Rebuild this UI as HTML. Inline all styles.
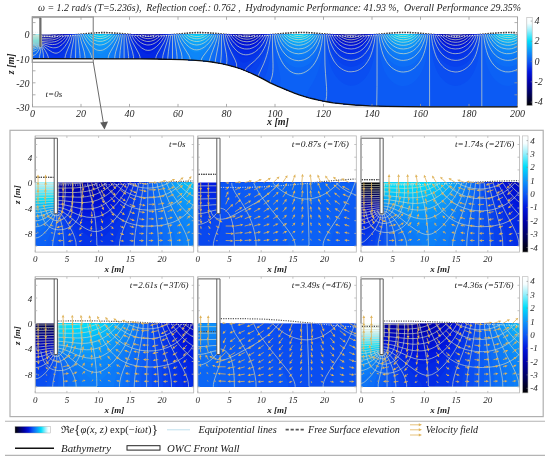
<!DOCTYPE html>
<html><head><meta charset="utf-8"><title>OWC potential field</title>
<style>html,body{margin:0;padding:0;background:#fff}svg{display:block}text{font-family:"Liberation Serif",serif;font-style:italic}</style>
</head><body>
<svg width="550" height="460" viewBox="0 0 550 460">
<defs>
<clipPath id="ct"><path d="M32.5 34.6l485 0l0 72.3l-87.3-0.1l-24.2-0.2l-19.5-0.3l-16.9-0.5l-7.3-0.4l-7.3-0.4l-7.2-0.6l-4.9-0.5l-9.7-1.1l-4.9-0.8l-4.8-0.8l-4.9-1l-4.8-1.2l-4.8-1.2l-4.9-1.4l-4.9-1.6l-4.8-1.7l-4.9-1.9l-4.8-2l-7.3-3.1l-7.2-3.3l-7.3-3.9l-4.9-2.5l-7.3-3.4l-7.2-3l-2.5-1l-4.8-1.6l-7.3-2.1l-7.3-1.6l-4.8-0.9l-4.8-0.8l-4.9-0.6l-4.9-0.5l-9.7-0.7l-9.7-0.5l-12.1-0.4l-14.5-0.3l-17-0.2l-21.8 0l-84.9-0.1z"/></clipPath>
<linearGradient id="cbg" x1="0" y1="0" x2="0" y2="1"><stop offset="0%" stop-color="#ffffff"/><stop offset="6.5%" stop-color="#f5feff"/><stop offset="15%" stop-color="#96f0fc"/><stop offset="26.5%" stop-color="#00defa"/><stop offset="38.5%" stop-color="#0e96f9"/><stop offset="50%" stop-color="#0c58f4"/><stop offset="61.5%" stop-color="#0016de"/><stop offset="73%" stop-color="#0000aa"/><stop offset="86%" stop-color="#00005f"/><stop offset="100%" stop-color="#000000"/></linearGradient>
<linearGradient id="cbh" x1="0" y1="0" x2="1" y2="0"><stop offset="0%" stop-color="#000000"/><stop offset="14%" stop-color="#00005f"/><stop offset="27%" stop-color="#0000aa"/><stop offset="38.5%" stop-color="#0016de"/><stop offset="50%" stop-color="#0c58f4"/><stop offset="61.5%" stop-color="#0e96f9"/><stop offset="73.5%" stop-color="#00defa"/><stop offset="85%" stop-color="#96f0fc"/><stop offset="93.5%" stop-color="#f5feff"/><stop offset="100%" stop-color="#ffffff"/></linearGradient>
<marker id="unused_ah" viewBox="0 0 10 10" refX="9" refY="5" markerWidth="3.8" markerHeight="3.8" orient="auto" markerUnits="userSpaceOnUse"><path d="M0 1.5L10 5L0 8.5z" fill="#dba848"/></marker>
<clipPath id="cp0"><rect x="35.2" y="182.6" width="158.5" height="63.5"/></clipPath>
<clipPath id="cp1"><rect x="197.8" y="182.6" width="158.5" height="63.5"/></clipPath>
<clipPath id="cp2"><rect x="361" y="182.6" width="158.5" height="63.5"/></clipPath>
<clipPath id="cp3"><rect x="35.2" y="323.4" width="158.5" height="63.5"/></clipPath>
<clipPath id="cp4"><rect x="197.8" y="323.4" width="158.5" height="63.5"/></clipPath>
<clipPath id="cp5"><rect x="361" y="323.4" width="158.5" height="63.5"/></clipPath>
</defs>
<rect width="550" height="460" fill="#fff"/>
<path fill="none" stroke="#3c3c3c" stroke-width="1.6" stroke-dasharray="1.6 1" d="M41.3 35.9l13.3 0.1l8.5-0.3l8.5-0.6l19.4-1.9l6.1-0.4l6-0.2l4.9 0.1l6 0.3l6.1 0.5l19.4 1.9l6.1 0.3l6 0.1l6.1-0.1l6.1-0.3l19.4-1.9l7.2-0.6l7.3-0.3l6.1 0.1l4.8 0.2l6.1 0.4l23 2.2l6.1 0.3l6 0.1l6.1-0.1l7.3-0.4l19.4-1.9l7.3-0.6l7.2-0.3l6.1-0.1l6.1 0.2l6 0.4l25.5 2.4l6 0.4l6.1 0.1l6.1-0.1l6-0.4l25.5-2.4l6.1-0.4l4.8-0.2l6.1 0l7.2 0.3l7.3 0.6l20.6 2l7.3 0.4l6.1 0.2l6-0.1l7.3-0.4l21.8-2.1l8.5-0.6l8.5-0.3l8.5 0.2"/>
<g clip-path="url(#ct)">
<rect x="31.5" y="33.6" width="491.6" height="74.3" fill="#000099"/>
<path fill="#0000a0" d="M32.5 34.6l8.9 0l0 0.5l6.1-0.1l3.7-0.4l470.9 0l0 72.3l-489.6 0l0-72.3z"/>
<path fill="#0000a7" d="M32.5 34.6l8.8 0l0.1 1.2l7.3-0.1l2.5-0.3l3.1-0.8l294.6 0l2.2 0.1l1.7-0.1l100.9 0l1.4 0.1l2.5-0.1l64.5 0l0 72.3l-489.6 0l0-72.3z"/>
<path fill="#0001ad" d="M32.5 34.6l8.8 0l0.1 2l2.4 0l3.7-0.1l3.7-0.4l2.4-0.5l2.9-1l187.4 0l3.1 0.3l2.9-0.3l95.5 0l3.2 0.8l2.5 0.1l2.4-0.2l2.9-0.7l93.7 0l2.5 0.7l2.5 0.2l2.4-0.1l3.6-0.8l61 0l0 72.3l-489.6 0l0-72.3z"/>
<path fill="#0003b2" d="M32.5 34.6l8.8 0l0.1 2.7l3.6 0l3.7-0.1l3.7-0.5l3.7-1.1l2.1-1l86.2 0l3.5 0.5l2.4-0.1l1.8-0.4l88.8 0l2.4 0.7l3.7 0.4l2.5-0.2l3.3-0.9l90.5 0l1.6 0.7l2.5 0.7l3.7 0.4l3.6-0.5l2.5-0.7l1.3-0.6l89.6 0l3.3 1.2l3.7 0.6l3.7-0.3l2.4-0.7l2-0.8l58.9 0l0 72.3l-489.6 0l0-72.3z"/>
<path fill="#0006b7" d="M32.5 34.6l8.8 0l0.1 3.4l4.9 0l3.6-0.1l3.7-0.6l3.7-1.3l2.4-1.4l82.3 0l2.2 0.9l1.2 0.3l2.5 0.2l2.4-0.1l1.2-0.2l3.1-1.1l84.4 0l1.9 0.9l2.4 0.7l3.7 0.4l3.7-0.4l2.4-0.8l1.6-0.8l87 0l2 1.1l2.5 0.9l2.4 0.5l2.5 0.2l2.4-0.2l2.4-0.6l2.5-1l1.7-0.9l86.3 0l1.3 0.7l2.5 1.1l2.4 0.6l2.5 0.2l2.4-0.1l2.5-0.4l2.4-0.9l2.4-1.2l57.3 0l0 72.3l-489.6 0l0-72.3z"/>
<path fill="#0008bc" d="M32.5 34.6l8.8 0l0.1 4.1l6.1 0.1l3.7-0.2l3.6-0.7l3.7-1.7l2.5-1.6l79.2 0l1.5 0.9l2.5 0.9l1.2 0.3l2.5 0.3l2.4-0.1l1.2-0.3l2.5-0.8l2.3-1.2l81.1 0l2.3 1.3l2.4 1l2.5 0.5l2.4 0.2l2.5-0.2l2.4-0.6l2.5-1l1.9-1.2l84 0l2.2 1.4l2.4 1.1l2.5 0.7l3.7 0.4l2.4-0.2l2.4-0.6l2.5-0.9l3.1-1.9l83.5 0l2.7 1.7l2.5 1l2.4 0.6l2.5 0.3l3.7-0.3l2.4-0.7l2.5-1l2.5-1.6l55.9 0l0 72.3l-489.6 0l0-72.3z"/>
<path fill="#000ac1" d="M32.5 34.6l8.7 0l0.2 4.8l7.3 0.2l3.7-0.2l3.7-1l1.2-0.5l2.4-1.4l2.4-1.9l76.7 0l1.7 1.2l2.5 1.2l2.4 0.7l2.5 0.3l2.4-0.1l2.5-0.6l2.4-1.1l2.6-1.6l78.3 0l2.3 1.6l2.5 1.2l2.4 0.8l3.7 0.4l2.5-0.2l2.4-0.6l2.5-1l3.3-2.2l81.3 0l2.3 1.7l1.2 0.7l2.4 1.1l2.5 0.7l3.7 0.4l2.4-0.2l3.7-1l2.4-1.2l3.2-2.2l81 0l2.7 2l2.5 1.2l3.6 1.1l2.5 0.3l3.7-0.3l2.4-0.7l3.7-1.7l2.6-1.9l54.6 0l0 72.3l-489.6 0l0-72.3z"/>
<path fill="#000cc7" d="M32.5 34.6l8.7 0l0.2 5.5l7.3 0.4l3.7-0.2l3.7-0.9l2.4-1.1l1.2-0.8l1.3-0.8l2.2-2.1l74.3 0l3 2.3l2.5 1.2l2.4 0.8l2.5 0.3l2.4-0.2l1.2-0.2l2.5-0.9l2.4-1.3l2.7-2l75.7 0l2.4 1.9l2.5 1.5l1.2 0.5l2.4 0.8l3.7 0.4l3.7-0.5l2.4-0.8l2.5-1.3l1.2-0.8l2.1-1.7l78.9 0l2.2 1.9l2.5 1.6l1.2 0.6l3.7 1.2l3.7 0.4l2.4-0.2l3.7-1l2.4-1.2l1.2-0.8l3.1-2.5l78.7 0l2.7 2.3l1.2 0.8l2.5 1.2l3.6 1.1l2.5 0.2l3.7-0.2l3.6-1.2l2.5-1.2l1.2-0.8l2.6-2.2l53.4 0l0 72.3l-489.6 0l0-72.3z"/>
<path fill="#000ecc" d="M32.5 34.6l8.7 0l0.2 6.2l8.5 0.6l3.7-0.3l2.5-0.6l1.2-0.5l1.2-0.6l2.5-1.6l1.2-1l2.1-2.2l72 0l3 2.6l2.4 1.5l1.3 0.6l2.4 0.8l2.5 0.3l2.4-0.2l1.2-0.2l2.5-0.9l2.4-1.3l1.3-0.9l2.5-2.3l73.5 0l2.3 2.1l1.2 1l2.5 1.4l3.6 1.3l3.7 0.4l3.7-0.4l3.7-1.4l2.4-1.5l1.2-1l2.1-1.9l76.7 0l2 2l1.2 1l2.5 1.6l1.2 0.6l1.2 0.5l2.5 0.7l3.7 0.4l3.6-0.5l2.5-0.7l1.2-0.5l2.4-1.4l1.3-0.9l2.9-2.8l76.5 0l2.6 2.5l1.2 0.9l2.4 1.5l3.7 1.3l3.7 0.6l3.7-0.3l3.6-1.1l1.3-0.6l2.4-1.5l2.5-2l1.2-1.3l52.3 0l0 72.3l-489.6 0l0-72.3z"/>
<path fill="#0011d1" d="M32.5 34.6l8.7 0l0.2 6.9l7.3 0.8l2.5 0.1l3.6-0.4l1.3-0.4l2.4-1l2.5-1.6l1.2-1l1.2-1.2l1.9-2.2l69.9 0l2.9 2.9l2.4 1.8l1.2 0.8l1.3 0.5l2.4 0.8l2.5 0.3l2.4-0.1l1.2-0.3l2.5-0.9l1.2-0.6l1.2-0.7l2.5-1.9l2.4-2.6l71.4 0l2.1 2.3l1.2 1.1l1.2 0.9l2.5 1.5l2.4 1l1.2 0.3l3.7 0.4l3.7-0.5l3.7-1.4l2.4-1.5l1.2-0.9l1.2-1.1l1.9-2.1l74.6 0l1.9 2.1l1.2 1.2l1.2 0.9l2.5 1.6l3.7 1.5l2.4 0.5l2.5 0.2l2.4-0.2l2.4-0.6l3.7-1.6l2.5-1.6l1.2-1l2.8-3l74.4 0l1.1 1.3l2.5 2.4l1.2 0.9l2.4 1.5l3.7 1.4l3.7 0.5l2.4-0.1l2.5-0.5l3.7-1.4l2.4-1.5l1.2-0.9l1.3-1.1l2.2-2.5l51.3 0l0 72.3l-489.6 0l0-72.3z"/>
<path fill="#0013d6" d="M32.5 34.6l8.6 0l0.3 7.5l2.4 0.3l4.9 0.8l2.5 0.2l2.4-0.1l2.5-0.5l2.4-1l1.2-0.7l2.5-1.8l1.2-1.2l2.8-3.5l68 0l2.6 3.1l1.3 1.2l2.4 1.9l1.2 0.7l2.5 1.1l1.2 0.3l2.5 0.4l2.4-0.2l1.2-0.3l1.3-0.4l2.4-1.1l1.2-0.8l2.5-2l1.2-1.2l2.2-2.7l69.4 0l1.8 2.4l1.3 1.2l1.2 1.1l2.4 1.8l1.3 0.6l2.4 1l2.5 0.6l2.4 0.2l2.5-0.3l2.4-0.6l2.5-1l1.2-0.7l2.4-1.8l1.2-1.1l2.9-3.4l72.7 0l1.6 2.1l2.4 2.5l1.2 1l2.5 1.5l3.7 1.5l2.4 0.6l2.5 0.1l2.4-0.2l2.4-0.6l3.7-1.5l2.5-1.7l1.2-1l2.4-2.6l1.3-1.7l72.5 0l2.1 2.7l1.3 1.2l1.2 1.1l2.4 1.7l3.7 1.7l2.4 0.6l2.5 0.3l3.7-0.3l2.4-0.6l2.5-1.1l2.4-1.5l2.5-2l1.2-1.3l2-2.5l50.3 0l0 72.3l-489.6 0l0-72.3z"/>
<path fill="#0015db" d="M32.5 34.6l8.6 0l0.3 8.2l2.4 0.3l6.1 1.3l2.5 0.2l2.4-0.2l1.3-0.2l1.2-0.4l2.4-1.3l2.5-1.8l1.2-1.2l2.5-2.9l1.2-2l66.2 0l1.1 1.7l2.4 2.9l1.3 1.2l2.4 2l2.5 1.4l1.2 0.5l2.4 0.6l1.3 0.1l2.4-0.2l2.5-0.7l2.4-1.2l1.2-0.8l2.5-2l1.2-1.3l1.2-1.4l2-2.8l67.4 0l1.6 2.4l2.5 2.7l1.2 1.1l2.4 1.8l2.5 1.2l1.2 0.5l2.5 0.5l2.4 0.2l2.5-0.2l2.4-0.7l2.5-1l1.2-0.7l2.4-1.8l1.2-1.2l2.5-2.7l1.4-2.1l70.7 0l1.3 2l2.5 2.8l1.2 1.2l2.5 1.8l2.4 1.4l2.5 0.9l2.4 0.5l2.5 0.1l2.4-0.2l2.4-0.5l2.5-1l2.4-1.4l2.5-1.9l1.2-1.2l1.6-1.8l1.9-2.7l70.6 0l1.8 2.6l1.2 1.5l2.5 2.3l2.4 1.8l2.5 1.2l1.2 0.4l2.4 0.7l2.5 0.2l2.4-0.1l2.5-0.4l2.4-0.9l2.5-1.2l2.4-1.8l1.3-1.1l2.4-2.7l1.7-2.5l49.4 0l0 72.3l-489.6 0l0-72.3z"/>
<path fill="#0119df" d="M32.5 34.6l8.6 0l0.3 8.8l2.4 0.3l6.1 1.9l2.5 0.3l1.2 0.1l2.5-0.4l1.2-0.3l2.4-1.2l1.3-0.8l2.4-2.2l1.2-1.4l1.8-2.4l1.6-2.7l64.3 0l2.1 3.3l1.2 1.6l1.2 1.4l2.5 2.4l2.4 1.8l2.5 1.2l1.2 0.4l2.5 0.4l1.2 0l2.4-0.5l2.5-1.1l2.4-1.6l2.5-2.1l1.2-1.3l2.5-3.2l1.6-2.7l65.6 0l1.3 2.2l2.4 3.2l1.3 1.3l2.4 2.1l2.5 1.5l2.4 1.1l2.5 0.5l2.4 0.2l2.5-0.3l2.4-0.6l2.5-1.1l2.4-1.6l2.4-2.1l1.3-1.3l1.9-2.4l1.7-2.7l68.8 0l1.7 2.7l1.8 2.4l2.4 2.4l2.5 1.9l2.4 1.3l2.5 0.9l2.4 0.5l2.5 0.2l2.4-0.2l2.4-0.6l2.5-0.9l2.4-1.4l2.5-1.9l2.4-2.6l1.3-1.6l1.9-3.1l68.8 0l1.5 2.5l2.4 3.2l1.3 1.2l2.4 2l2.4 1.5l2.5 1l2.4 0.6l2.5 0.3l2.4-0.1l2.5-0.5l2.4-0.8l2.5-1.3l2.4-1.7l2.5-2.4l2.4-3.2l1.4-2.3l48.5 0l0 72.3l-489.6 0l0-72.3z"/>
<path fill="#0220e1" d="M32.5 34.6l8.6 0l0.3 9.3l1.2 0.2l1.6 0.4l5.7 2.3l2.5 0.6l1.2 0.1l2.5-0.2l2.4-0.8l2.5-1.5l1.2-1l2.4-2.5l1.3-1.6l1.2-1.9l1.8-3.4l62.5 0l1.8 3.2l2.4 3.6l1.2 1.5l2.5 2.6l2.4 1.9l2.5 1.5l2.4 0.7l1.3 0.2l1.2-0.1l2.4-0.6l2.5-1.2l2.4-1.8l2.5-2.3l2.4-2.9l2.5-3.8l1.3-2.5l63.8 0l1.4 2.7l2 3l2.5 2.8l2.4 2.2l2.5 1.5l2.4 1.1l2.5 0.6l2.4 0.1l2.5-0.3l2.4-0.6l2.5-1.1l2.4-1.6l2.4-2.2l2.5-2.8l1.8-2.7l1.5-2.7l67 0l1.5 2.7l1.6 2.6l2.5 2.8l2.4 2.2l2.5 1.5l2.4 1.2l3.7 0.9l2.5 0.1l2.4-0.2l3.7-1l2.4-1.1l2.5-1.7l2.4-2.2l1.3-1.5l2.4-3.4l1.6-2.9l67 0l1.4 2.7l2.2 3.2l1.2 1.5l2.5 2.3l2.4 1.7l2.5 1.3l3.6 1.1l2.5 0.2l2.4-0.1l3.7-0.8l2.5-1l2.4-1.5l2.5-2.1l2.4-2.7l2-3.1l1.5-2.7l47.6 0l0 72.3l-489.6 0l0-72.3z"/>
<path fill="#0327e4" d="M32.5 34.6l8.6 0l0.3 9.8l1.2 0.3l1.2 0.4l4.9 2.6l2.5 1l2.4 0.6l1.2 0.1l2.5-0.4l1.2-0.5l2.5-1.4l2.4-2.2l2.5-3.1l1.2-1.9l1.2-2.2l1.4-3.1l60.9 0l1.4 3l2.4 4.3l3.7 4.9l3.6 3.7l2.5 2l2.4 1.2l1.3 0.2l1.2-0.1l1.2-0.3l1.2-0.7l2.5-1.7l3.7-3.5l2.4-2.9l2.5-3.5l1.5-2.7l1.9-3.9l62 0l1.2 2.7l1.9 3.3l2.4 3.3l2.5 2.5l2.4 1.9l2.5 1.4l2.4 0.8l2.5 0.3l1.2 0.1l1.2-0.1l2.5-0.6l2.4-0.9l2.5-1.4l2.4-1.9l2.5-2.5l1.9-2.6l1.7-2.8l1.7-3.5l65.4 0l1.5 3.3l2.4 3.9l2.5 2.9l2.4 2.1l2.5 1.6l2.4 1.1l2.5 0.7l3.7 0.4l3.6-0.5l2.5-0.7l2.4-1.2l2.5-1.6l2.4-2.3l2.5-2.9l1.7-2.9l1.9-3.9l65.3 0l1.3 2.7l2 3.5l2.4 3.1l2.5 2.4l2.4 1.7l2.5 1.2l2.4 0.8l3.7 0.6l3.7-0.3l2.4-0.7l2.5-1l1.2-0.7l2.4-1.8l2.5-2.3l2.4-3.2l1.9-3.3l1.2-2.7l46.8 0l0 72.3l-489.6 0l0-72.3z"/>
<path fill="#042de6" d="M32.5 34.6l8.5 0l0.2 7.5l0.2 2.8l1.2 0.3l1.1 0.5l5 3.5l2.5 1.4l2.4 1l2.5 0.2l1.2-0.2l1.2-0.4l1.2-0.7l1.3-0.9l2.4-2.3l2.5-3.2l1.2-1.9l1.9-3.7l1.5-3.9l59.2 0l1.6 3.9l1.9 3.8l2.4 4.2l5 7.7l0.6 1.2l0.7 2.4l0.1 49.1l-109.5 0l0-72.3zM166.8 34.6l60.3 0l1.5 3.7l2 3.8l1.7 2.6l2.5 3l2.4 2.3l2.5 1.7l2.4 1.2l1.2 0.3l2.5 0.4l2.4-0.2l3.7-1l2.5-1.2l1.2-0.8l2.4-2l2.5-2.6l2.4-3.3l2.2-4l1.6-3.9l63.6 0l1.6 3.9l2 3.7l2.5 3.3l2.4 2.5l2.5 1.8l2.4 1.4l1.2 0.5l2.5 0.7l3.7 0.4l3.6-0.5l2.5-0.7l1.2-0.6l2.4-1.3l2.5-2l2.4-2.5l2.5-3.5l1.7-3.2l1.6-3.9l63.6 0l1.6 4l1.9 3.5l1.8 2.6l2.5 2.7l2.4 2l1.2 0.8l2.5 1.2l2.4 0.8l3.7 0.6l3.7-0.3l2.4-0.7l1.2-0.4l2.5-1.3l2.4-1.8l2.5-2.3l2.4-3.2l2.5-4.5l1.5-3.7l45.9 0l0 72.3l-368 0l0.1-49.1l0.3-1.2l1.1-2.4l5.7-8.4l2.5-4.2l1.5-3.1l1.5-3.9z"/>
<path fill="#0534e8" d="M32.5 34.6l8.5 0l0.1 7.5l0.3 3.2l1.2 0.4l1.7 1.3l4.4 4.2l3.7 3.2l2.4 1.8l1.3 0.3l1.2-0.2l2.4-1.8l2.5-2.7l2.4-3.1l2.5-3.9l1.2-2.3l1.7-4l1.3-3.9l57.6 0l1.3 3.9l1.8 4.3l4.7 10.2l1.1 3.6l0.2 2.4l0 47.9l-105.5 0l0-72.3zM167.7 34.6l58.6 0l1.8 5.1l1.8 3.8l2.4 4.1l2.5 3.2l2.4 2.6l1.2 1l2.5 1.5l2.4 0.9l2.5 0.3l1.2-0.1l2.5-0.5l1.2-0.4l2.4-1.2l3.7-2.5l2.4-2.4l2.5-3l2.4-4l2.1-4.5l1.3-3.9l62 0l1.3 3.9l1.9 4.1l2.4 3.9l2.5 2.9l2.4 2.1l1.3 0.9l2.4 1.3l3.7 1.2l3.7 0.4l3.6-0.4l2.5-0.8l1.2-0.5l2.4-1.4l2.5-1.9l2.4-2.6l2.5-3.5l2.4-4.9l1.7-4.7l61.9 0l1.9 5.1l1.9 3.8l2.4 3.7l2.5 2.7l2.4 2l1.2 0.8l2.5 1.3l2.4 0.8l3.7 0.5l3.7-0.3l3.6-1.1l2.5-1.3l1.2-0.8l2.5-2l2.4-2.8l2.5-3.7l1.7-3.6l1.8-5.1l45.1 0l0 72.3l-364.6 0l0-47.9l1.6-4.8l5.9-12.3l1.2-3l1.5-4.3z"/>
<path fill="#073aea" d="M32.5 34.6l8.5 0l0.1 8.7l0.3 2.4l1.9 1.3l2 2.4l2.6 3.6l1.4 2.4l0.5 1.2l0.3 1.2l0.1 1.2l0 47.9l-17.7 0l0-72.3zM72.1 34.6l56 0l1.8 6.3l3.9 10.9l0.7 2.4l0.5 2.4l0.1 2.4l0 47.9l-72.2 0l0-49.1l0.3-1.2l0.8-2.4l3.7-7.2l1.8-4.2l1.3-3.4l1.3-4.8zM168.5 34.6l57 0l1.5 5.1l1.6 4.4l2.5 5.1l3.7 5.9l2.4 3.2l2.5 2.5l1.2 0.8l1.2 0.6l1.2 0.2l1.3 0.1l1.2-0.2l2.4-0.7l3.7-1.8l3.7-2.7l3.6-3.6l2.5-3.2l2.7-4.6l2.2-5.2l1.8-5.9l60.3 0l1.5 5.3l2 4.6l1.7 3.2l1.2 1.7l2.5 2.9l2.4 2.2l2.5 1.6l1.2 0.6l1.2 0.5l2.5 0.7l3.7 0.4l3.6-0.5l2.5-0.7l1.2-0.5l1.2-0.7l2.5-1.6l2.4-2.2l2.5-3l2.4-4.1l2.2-5.3l1.5-5.1l60.3 0l1.5 5.1l1.8 4.5l2.5 4.3l2.4 3.1l2.5 2.4l1.2 0.9l2.4 1.5l2.5 1l1.2 0.4l3.7 0.5l3.7-0.3l3.6-1.1l2.5-1.3l1.2-0.8l1.2-0.9l2.2-2.1l2.7-3.5l2.5-4.4l1.6-4.2l1.5-5.1l44.3 0l0 72.3l-361.1 0l0.1-49.1l0.4-2.4l0.7-2.4l4-10.9l2.3-7.5z"/>
<path fill="#0841ec" d="M32.5 34.6l8.5 0l0.1 8.7l0.3 2.8l1.1 0.9l1.6 2.4l1.8 3.6l1.2 3.6l0.2 2.4l0 47.9l-14.8 0l0-72.3zM72.9 34.6l54.4 0l1.4 6.3l3 10.9l0.8 4.8l0.1 50.3l-66.4 0l0-49.1l0.7-3.6l3.9-11.1l1.2-4.3l0.9-4.2zM169.3 34.6l55.4 0l1.1 5.1l1.6 5.3l5.1 12.8l0.8 2.4l0.5 2.4l-0.1 44.3l-70 0l0-49.1l0.8-4.8l3.3-12.1l1.5-6.3zM269.2 34.6l58.7 0l1.5 6.3l2.1 5.8l2.4 4.6l2.5 3.4l1.2 1.3l2.4 2.1l2.5 1.6l1.2 0.6l1.2 0.5l2.5 0.8l3.7 0.3l2.4-0.1l2.4-0.6l3.7-1.6l2.5-1.6l1.2-1.1l2.4-2.6l2.5-3.4l1.2-2.3l1.2-2.6l1.8-5.1l1.5-6.3l58.7 0l1.2 5.1l1.7 5.3l1.2 2.8l1.3 2.4l2.4 3.7l2.5 2.7l1.2 1.1l2.4 1.7l3.7 1.7l2.4 0.6l2.5 0.3l3.7-0.3l3.6-1.1l2.5-1.3l1.2-0.8l2.5-2.1l1.2-1.2l2.4-3.2l1.3-2.1l1.4-2.9l1-2.4l1.2-3.7l1.5-6.3l43.5 0l0 72.3l-273.2 0l0-35.8l0.4-1.3l1.6-2.4l7.1-7.8l2.5-3.2l2.4-3.8l2.2-4.4l1.5-3.9l1.2-3.9l1.4-5.8z"/>
<path fill="#0948ef" d="M32.5 34.6l8.5 0l0 8.7l0.2 2.4l0.2 0.8l0.6 0.5l1.1 2.4l1.2 3.6l0.5 2.4l0.3 3.6l0 47.9l-12.6 0l0-72.3zM73.7 34.6l52.8 0l0.8 5.1l2.4 12.1l0.6 4.8l0 50.3l-61.5 0l0.1-49.1l0.4-3.6l3-12.1l1.4-7.5zM170.1 34.6l53.8 0l1.3 7.5l3.4 13.3l0.8 4.8l0.1 2.4l-0.4 2.4l0 41.9l-63.1 0l0.1-49.1l0.7-6l2.2-10.9l1.1-6.3zM270 34.6l57.1 0l1.4 7.5l1.7 6.1l1.3 3.1l1.2 2.6l2.4 3.9l1.3 1.5l2.4 2.5l1.2 1l2.5 1.6l3.7 1.6l2.4 0.5l2.5 0.2l2.4-0.2l2.4-0.6l3.7-1.6l2.5-1.6l1.2-1l2.4-2.6l1.3-1.6l2.4-4.1l1.2-2.7l1.3-3.3l1.7-6.5l1.1-6.3l57.1 0l1.3 6.8l1.9 6.8l1.9 4.8l1.1 1.9l1.8 2.9l1.8 2.3l1.3 1.2l1.2 1.1l2.4 1.8l3.7 1.7l2.4 0.6l2.5 0.3l2.4-0.1l2.5-0.5l1.2-0.4l2.5-1l2.4-1.5l1.2-1l2.5-2.4l1.2-1.5l2.7-4.2l1.2-2.4l1.4-3.6l1.7-6.1l1.4-7.5l42.7 0l0 72.3l-267.8 0l0-33.4l7.4-12.8l2.4-4.8l1.3-2.9l1.2-3.4l1.4-5.1l1-4.3l1-5.6z"/>
<path fill="#0a4ef1" d="M32.5 34.6l8.4 0l0.2 11.1l0.3 1.2l0.6 1.3l0.5 2.4l0.4 2.4l0.2 3.6l0.1 50.3l-10.7 0l0-72.3zM74.5 34.6l51.2 0l2.1 17.2l0.4 4.8l0 50.3l-57 0l0-49.1l0.5-4.8l1.8-10.9l1-7.5zM170.9 34.6l52.2 0l0.7 6l1.9 12.4l0.6 4.8l0 2.4l-0.3 3.6l0 43.1l-57.8 0l0.1-49.1l0.4-6l2.2-17.2zM270.8 34.6l55.5 0l1.1 8.7l1.6 7.5l1.2 3.9l1.3 3.1l2.4 4.7l1.2 1.8l2.5 2.9l1.2 1.2l2.5 1.9l2.4 1.4l2.5 1l2.4 0.5l2.5 0.2l2.4-0.1l2.4-0.6l2.5-1l2.4-1.4l2.5-1.9l1.2-1.2l1.8-2.2l1.9-2.7l2.4-5l1.3-3.3l1-3.4l1.4-6.7l1.2-9.3l55.5 0l1.1 8.7l1.6 7.3l1.9 6l1.1 2.6l1.9 3.4l1.8 2.7l1.2 1.5l2.5 2.4l2.4 1.7l1.2 0.7l2.5 1.1l2.4 0.6l2.5 0.3l2.4-0.1l2.5-0.5l2.4-0.9l2.5-1.3l2.4-1.8l1.3-1.1l2.4-2.8l1.2-1.7l1.3-2l1.7-3.6l2.1-6l1.6-7.3l0.7-4.1l0.6-5.8l41.9 0l0 72.3l-263 0l0-31l1.9-3.6l2.6-6.1l1.8-4.6l1.5-5l1.2-4.8l1-4.8l1-6.1l0.7-6.3z"/>
<path fill="#0b55f3" d="M32.5 34.6l8.4 0l0 9.9l0.7 6.1l-0.3 8.4l0 47.9l-8.8 0l0-72.3zM75.2 34.6l49.7 0l1.2 22l0 50.3l-52.7 0l0-49.1l0.3-4.8l1-10.9l0.5-7.5zM171.7 34.6l50.6 0l1.2 17.2l0.1 4.8l-0.1 3.6l-0.4 3.6l0 43.1l-52.7 0l0-49.1l0.2-6l1.1-17.2zM271.6 34.6l53.9 0l0.9 12.4l0.6 4.8l0.8 4.6l1.2 5.2l1.1 3.4l1.4 3.7l1.2 2.5l2 3.5l1.7 2.4l2.4 2.8l2.5 2.1l2.4 1.7l2.5 1.1l2.4 0.7l2.5 0.3l2.4-0.2l2.4-0.7l2.5-1l2.4-1.6l2.5-2.1l2.4-2.8l1.9-2.7l1.8-3.2l1.2-2.7l1.3-3.4l1.2-4.3l1-4.5l1.3-9.6l0.9-12.4l53.9 0l0.9 12.4l1.4 9.6l0.7 3.6l1.1 4l1.2 3.6l1.2 2.9l1.4 2.8l2.3 3.5l2.5 2.8l2.4 2.2l2.4 1.7l2.5 1.1l2.4 0.7l2.5 0.4l2.4-0.2l2.5-0.5l2.4-0.9l2.5-1.5l2.4-1.9l2.5-2.5l2.4-3.4l1.6-2.7l1.1-2.5l1.4-3.6l1.1-3.6l1.2-4.8l0.8-4.8l0.6-4.8l0.6-6.1l0.4-7.5l41.1 0l0 72.3l-257.9 0l0-28.6l1.2-2.4l1.8-4.8l0.9-3.7l0.9-4.8l0.9-6l0.6-6l1.1-16z"/>
<path fill="#0c5bf4" d="M32.5 34.6l8.4 0l-0.1 14.8l-0.3 2.4l-1.1 4.8l-0.1 2.4l0 47.9l-6.8 0l0-72.3zM76 34.6l48.1 0l0 72.3l-48.6 0l0-49.1l0.5-23.2zM172.5 34.6l49 0l-0.1 18.4l-0.3 4.8l-0.6 6l0 43.1l-48 0l0-72.3zM272.4 34.6l52.3 0l0.1 18.4l0.2 12l0.5 8.5l1 13.2l0.2 4.8l-0.1 4.9l-0.7 4.8l0 5.7l-55.7 0l0-25l0.3-1.2l1-2.4l0.7-2.4l0.6-3.6l0.2-3.7l0-4.8l-0.5-16.8l-0.1-12.4zM377.1 34.6l52.4 0l0.1 72.3l-52.9 0l0.3-20.2l0.1-52.1zM481.8 34.6l40.3 0l0 72.3l-40.3 0l0-72.3z"/>
<path fill="#0c61f5" d="M32.5 34.6l8.4 0l-0.1 11.1l-1.1 4.9l-0.8 2.2l-1.7 3.8l-0.3 1.2l-0.1 1.2l0 47.9l-4.3 0l0-72.3zM76.8 34.6l46.5 0l-1.2 22l0 50.3l-44.5 0l0-51.5l-0.8-20.8zM173.2 34.6l47.5 0l-0.6 9.8l-0.8 8.6l-1.1 8.4l-0.6 1.2l0 44.3l-43.1 0l0-50.3l-1.3-22zM273.2 34.6l50.7 0l-0.6 8.7l-0.7 7.3l-0.9 6.8l-1.2 6l-1.9 6.4l-2.3 6.1l-3.2 6.3l-4.7 8.1l-2.1 4.9l-0.3 1.2l0 10.5l-26.6 0l0-20.2l0.2-1.2l0.5-1.2l0.3-1.2l0.2-1.2l0-3.6l-0.8-4.8l-3.4-13.7l-1.2-6l-1.3-9l-0.7-10.2zM377.9 34.6l50.8 0l-0.6 8.7l-0.9 8.5l-1.2 7.2l-1.5 5.7l-1.2 3.5l-1.3 2.9l-2.4 4.4l-2.5 3.3l-1.2 1.3l-2.4 2.2l-2.5 1.6l-2.4 1.2l-1.2 0.4l-1.3 0.3l-2.4 0.3l-2.5-0.2l-1.2-0.2l-2.4-0.8l-2.5-1.2l-1.2-0.8l-2.5-2l-1.2-1.2l-2.4-2.9l-2.5-4l-1.4-3l-1.7-4.8l-1.3-4.8l-1-4.8l-0.9-6l-0.7-7.3l-0.4-7.5zM482.6 34.6l39.5 0l0 44.2l-4.6 3.9l-1.2 0.8l-2.5 1.2l-2.4 0.8l-2.5 0.4l-2.4-0.1l-1.2-0.1l-2.5-0.7l-2.4-1.1l-1.2-0.8l-2.5-1.8l-1.2-1.1l-2.5-2.8l-2.4-3.7l-1.9-3.9l-1.8-4.7l-1.2-4.4l-1.1-5.3l-0.8-6l-0.7-7.3l-0.5-7.5z"/>
<path fill="#0c67f5" d="M32.5 34.6l8.3 0l-0.1 11.1l-1.8 4.6l-1.2 2.1l-1.2 1.5l-1.2 1.2l-1.3 0.9l-1.2 0.4l-0.3 0l0-21.8zM77.6 34.6l44.9 0l-2 17.2l-0.4 4.8l0 50.3l-40.4 0l0-50.3l-0.4-6l-1.7-16zM174 34.6l45.9 0l-1.3 9.9l-2.9 16.9l-0.1 45.5l-38.9 0l-0.1-49.1l-0.4-6l-2.2-17.2zM274 34.6l49.1 0l-0.6 5.1l-0.8 5.5l-1.2 5.7l-1.3 4.2l-1.2 3.3l-2 4.2l-1.7 2.8l-2.4 3.2l-2.5 2.4l-1.2 1l-2.4 1.7l-3.7 1.6l-2.5 0.6l-2.4 0.1l-2.5-0.4l-1.2-0.4l-2.4-1.2l-2.5-1.9l-2.4-2.5l-2.5-3.2l-2.4-4.2l-2.5-5.3l-1.7-5.1l-1.2-4.8l-1.1-6.1l-0.8-6.3zM378.7 34.6l49.2 0l-0.6 5.1l-0.8 4.8l-0.8 4.1l-1.2 4.6l-1.2 3.5l-1.3 2.8l-1.6 3.1l-2 2.9l-2.5 2.7l-1.2 1.1l-2.4 1.7l-1.3 0.7l-2.4 1l-2.5 0.7l-3.6 0.2l-3.7-0.6l-3.7-1.5l-2.4-1.6l-2.5-2.1l-2.4-2.8l-2.5-3.9l-2.1-4.5l-1.5-4.7l-1.3-5.1l-1-5.9l-0.7-6.3zM483.4 34.6l38.7 0l0 32.4l-3.4 2.8l-1.2 0.9l-2.4 1.3l-2.5 0.9l-3.7 0.7l-3.6-0.2l-2.5-0.6l-2.4-1l-2.5-1.5l-1.2-0.9l-2.4-2.3l-2.5-3.1l-2.4-4.2l-1.4-3.2l-1.6-4.8l-1.2-4.8l-1.1-6.1l-0.7-6.3z"/>
<path fill="#0d6ef6" d="M32.5 34.6l8.3 0l-0.2 11.1l-0.4 1l-0.4 0.3l-0.9 1.9l-1.2 1.6l-1.2 1.3l-1.2 0.9l-1.3 0.6l-1.2 0.3l-0.3 0l0-19zM78.3 34.6l43.5 0l-0.9 5l-2.3 12.2l-0.6 4.8l-0.1 50.3l-36 0l-0.1-50.3l-0.7-6l-2.8-16zM174.8 34.6l44.3 0l-1.5 8.1l-3.5 13.9l-0.9 4.8l-0.1 45.5l-34.2 0l-0.1-50.3l-0.7-4.8l-2.1-10.2l-1.2-7zM274.8 34.6l47.5 0l-1.4 7.5l-1.7 6l-1.2 3.3l-1.2 2.6l-2.5 4.1l-1.2 1.7l-2.4 2.6l-1.3 1.1l-2.4 1.7l-1.2 0.6l-2.5 1l-2.4 0.6l-2.5 0.2l-2.4-0.2l-2.5-0.7l-2.4-1.1l-1.3-0.7l-2.4-1.9l-1.2-1.1l-1.2-1.3l-2.2-2.8l-1.5-2.5l-1.2-2.3l-1.3-2.7l-1.2-3.3l-1.7-6.1l-1.1-6.3zM379.5 34.6l47.6 0l-1.4 7.4l-1.8 6.2l-1.9 4.6l-1.2 2.3l-1.7 2.7l-2 2.4l-1.2 1.3l-1.2 1l-2.4 1.7l-3.7 1.7l-2.5 0.6l-2.4 0.3l-2.5-0.1l-2.4-0.5l-1.2-0.4l-2.5-1.1l-2.4-1.5l-1.3-1l-2.4-2.4l-1.2-1.5l-2.5-3.9l-1.2-2.4l-1.2-3l-1.2-3.8l-0.8-3.1l-1.4-7.5zM484.2 34.6l37.9 0l0 25.7l-3.4 2.8l-2.4 1.5l-2.5 1.1l-3.6 0.9l-3.7 0.1l-2.4-0.4l-2.5-0.8l-2.4-1.2l-1.3-0.8l-2.4-1.9l-2.5-2.7l-1.7-2.3l-1.9-3.5l-1.6-3.7l-1.6-4.9l-1.1-4.8l-0.9-5.1z"/>
<path fill="#0d74f6" d="M32.5 34.6l8.3 0l-0.1 7.5l-0.2 3.6l-0.3 0.8l-0.8 0.5l-0.5 0.9l-1.2 1.4l-1.2 1.1l-1.2 0.8l-1.3 0.5l-1.2 0.2l-0.3 0l0-17.3zM79.1 34.6l41.9 0l-1.3 5.6l-3.1 11.6l-0.8 4.8l-0.1 50.3l-31.5 0l-0.1-50.3l-0.8-4.8l-2.8-10.8l-1.4-6.4zM175.6 34.6l42.7 0l-0.9 3.9l-1.3 4.8l-4.5 13.3l-0.7 2.4l-0.4 2.4l0 45.5l-29.3 0l0-47.9l-0.1-2.4l-0.9-4.8l-3-10.2l-1.6-7zM275.6 34.6l45.9 0l-1.5 6.3l-2 5.6l-2.4 4.8l-2.5 3.5l-1.2 1.4l-2.5 2.2l-1.2 0.9l-2.4 1.4l-3.7 1.3l-3.7 0.4l-3.7-0.5l-2.4-0.8l-1.2-0.6l-1.3-0.7l-2.4-1.8l-2.4-2.3l-1.3-1.5l-2.4-3.6l-2.5-4.9l-1.6-4.8l-1.6-6.3zM380.3 34.6l46 0l-1.2 5.1l-1.8 5.6l-1.3 2.8l-1.2 2.3l-2.4 3.6l-2.5 2.7l-1.2 1.1l-2.4 1.7l-3.7 1.7l-2.5 0.6l-2.4 0.2l-3.7-0.3l-3.7-1.2l-2.4-1.3l-1.2-0.8l-2.5-2.1l-1.2-1.3l-2.5-3.2l-1.2-2.1l-1.3-2.7l-1.1-2.8l-1.1-3.3l-1.5-6.3zM485 34.6l37.1 0l0 20.9l-3.4 2.8l-2.4 1.6l-2.5 1.1l-2.4 0.7l-2.5 0.3l-3.6-0.2l-3.7-1l-2.4-1.2l-2.5-1.7l-2.4-2.3l-2.2-2.6l-1.5-2.4l-1.9-3.6l-1.4-3.7l-1.1-3.6l-1.2-5.1z"/>
<path fill="#0d7af7" d="M32.5 34.6l8.3 0l-0.2 8.7l-0.2 2.4l-0.2 0.6l-1.2 0.7l-1.3 1.4l-2.4 1.7l-1.3 0.4l-1.2 0.2l-0.3 0l0-16.1zM79.9 34.6l40.3 0l-1.7 5.8l-4.1 11.4l-0.7 2.4l-0.4 2.4l-0.1 2.4l0 47.9l-26.5 0l0-47.9l-0.1-2.4l-0.5-2.4l-0.6-2.4l-3.7-10.7l-1.9-6.5zM176.4 34.6l41.1 0l-1.1 3.8l-1.2 3.6l-2.5 5.9l-3.5 7.5l-0.9 2.4l-0.5 2.4l-0.1 46.7l-24.4 0l0-46.7l0.3-1.2l0.1-1.2l-0.1-1.2l-0.8-3.6l-4.3-11.5l-2.1-6.9zM276.4 34.6l44.3 0l-1.5 5.1l-1.2 3.1l-1.2 2.6l-2.5 4l-2.4 3l-2.5 2.2l-2.4 1.6l-1.2 0.7l-3.7 1.2l-3.7 0.4l-3.7-0.5l-2.4-0.8l-1.2-0.6l-1.3-0.6l-2.4-1.8l-2.4-2.2l-2.5-3.1l-2.4-4.1l-2.2-5.1l-1.5-5.1zM381.1 34.6l44.4 0l-1.5 5.1l-2 4.7l-2.4 4.3l-2.5 3.1l-2.4 2.3l-1.2 0.9l-2.5 1.5l-1.2 0.5l-2.4 0.8l-3.7 0.5l-3.7-0.3l-3.7-1.2l-1.2-0.5l-2.4-1.6l-2.5-2.1l-2.8-3.2l-1.5-2.4l-1.3-2.5l-1.7-3.9l-1.8-6zM485.8 34.6l36.3 0l0 17.3l-3.4 2.7l-2.4 1.6l-2.5 1.1l-2.4 0.7l-2.5 0.3l-3.6-0.2l-2.5-0.6l-2.4-1l-2.5-1.4l-2.4-2l-2.5-2.6l-1.2-1.6l-1.9-3.2l-1.8-3.7l-1.2-3.4l-1.1-4z"/>
<path fill="#0d80f7" d="M32.5 34.6l8.3 0l-0.2 8.7l-0.3 2.4l-0.1 0.4l-1.8 0.9l-0.7 0.6l-2.4 1.5l-1.3 0.4l-1.2 0.2l-0.3 0l0-15.1zM80.7 34.6l38.6 0l-2 5.9l-5.8 12.5l-1.1 3.6l-0.1 2.4l0 47.9l-20.7 0l0-49.1l-0.4-2.4l-0.8-2.4l-5.4-12l-2.3-6.4zM177.2 34.6l39.4 0l-1.4 4.2l-2 4.5l-2.9 5.3l-4.3 6.8l-1.1 2.4l-0.8 2.4l-0.1 1.2l0 45.5l-16.7 0l0-46.7l-0.2-2.4l-0.6-2.4l-1-2.4l-3.4-6.5l-2.4-5.1l-1.2-3.1l-1.3-3.7zM277.2 34.6l42.7 0l-1.4 3.9l-1.7 3.9l-2.5 4l-2.4 2.9l-2.5 2.2l-1.2 0.9l-2.4 1.4l-3.7 1.2l-3.7 0.4l-3.7-0.5l-2.4-0.8l-1.2-0.5l-2.5-1.5l-2.4-1.9l-2.5-2.7l-2.4-3.5l-2.5-4.9l-1.6-4.5zM381.9 34.6l42.8 0l-1.9 5.1l-2 4l-2.4 3.7l-2.5 2.6l-2.4 2l-2.5 1.5l-1.2 0.5l-2.4 0.8l-3.7 0.5l-3.7-0.3l-3.7-1.2l-2.4-1.2l-1.2-0.9l-2.5-2.1l-2.4-2.8l-2.5-3.8l-2.1-4.5l-1.3-3.9zM486.6 34.6l35.5 0l0 14.3l-4.6 3.6l-2.4 1.3l-2.5 0.9l-2.4 0.5l-3.7 0l-2.4-0.4l-2.5-0.7l-2.4-1.2l-2.5-1.7l-2.4-2.3l-1.3-1.4l-2.1-3l-1.5-2.8l-1.3-2.7l-1.5-4.4z"/>
<path fill="#0d86f8" d="M32.5 34.6l8.2 0l-0.2 8.7l-0.3 2.6l-1.3 0.4l-2.4 1.4l-1.2 0.6l-1.3 0.3l-1.2 0.2l-0.3 0l0-14.2zM81.6 34.6l36.9 0l-1.2 3.2l-2.5 5l-7.1 11.4l-1 2.4l-0.3 1.2l0 49.1l-12.9 0l0-49.1l-0.3-1.2l-1-2.4l-5.5-8.8l-2.5-4.5l-1.2-2.7l-1.4-3.6zM178.1 34.6l37.7 0l-2.2 5.1l-1.3 2.4l-2 3.3l-3.7 4.7l-7.4 7.7l-0.9 1.2l-0.5 1.2l0 46.7l-4.2 0l0-46.7l-0.2-1.2l-0.6-1.2l-7-8.8l-2.4-3.6l-3.2-5.7l-2.1-5.1zM278.1 34.6l40.9 0l-1.6 3.9l-1.8 3.5l-2.5 3.4l-2.4 2.5l-2.5 1.9l-2.4 1.4l-1.3 0.5l-2.4 0.7l-3.7 0.4l-3.7-0.5l-2.4-0.8l-1.2-0.5l-2.5-1.4l-2.4-2l-2.5-2.6l-2.4-3.5l-1.6-3l-1.6-3.9zM382.7 34.6l41.1 0l-1.6 3.9l-1.4 2.7l-2.4 3.6l-2.5 2.7l-2.4 2l-1.2 0.8l-2.5 1.2l-2.4 0.8l-3.7 0.5l-3.7-0.3l-2.4-0.7l-1.3-0.5l-2.4-1.3l-2.5-1.8l-2.4-2.4l-2.5-3.2l-2.2-4.1l-1.6-3.9zM487.4 34.6l34.7 0l0 11.7l-4.6 3.6l-2.4 1.3l-2.5 0.9l-2.4 0.5l-2.5 0.2l-2.4-0.2l-2.5-0.6l-2.4-1l-2.5-1.4l-2.4-2l-1.2-1.2l-1.6-1.9l-2.1-3l-1.5-3l-1.7-3.9z"/>
<path fill="#0e8df8" d="M32.5 34.6l8.2 0l-0.2 7.5l-0.3 3.6l-1.3 0.2l-3.6 1.7l-1.3 0.3l-1.5 0.1l0-13.4zM82.4 34.6l35.3 0l-1.7 3.5l-1.2 2.2l-2.4 3.7l-2.5 3.1l-3.7 3.7l-2.4 2l-1.2 0.7l-1.2 0.5l-1.3 0.2l-1.2-0.1l-1.2-0.4l-2.5-1.6l-2.4-2.1l-2.5-2.6l-2.4-3l-2.5-3.7l-1.2-2.2l-1.8-3.9zM178.9 34.6l36 0l-1.8 3.9l-1.6 2.6l-2.4 3.3l-2.5 2.7l-2.4 2.2l-2.5 1.7l-2.4 1.1l-2.5 0.5l-1.2 0l-1.2-0.2l-2.5-1.1l-2.4-1.7l-2.5-2.3l-2.4-2.9l-2.5-3.5l-1.2-2.1l-2-4.2zM278.9 34.6l39.3 0l-1.4 3.1l-2.5 3.9l-2.4 3l-2.5 2.1l-2.4 1.6l-2.5 1.2l-2.4 0.7l-3.7 0.3l-3.7-0.4l-2.4-0.8l-2.5-1.2l-2.4-1.6l-2.4-2.3l-2.5-3l-1.7-2.7l-1.9-3.9zM383.6 34.6l39.4 0l-1.9 3.9l-1.5 2.5l-2.5 3.1l-2.4 2.3l-2.4 1.7l-2.5 1.2l-2.4 0.8l-3.7 0.5l-3.7-0.3l-2.4-0.7l-2.5-1.1l-1.2-0.7l-2.5-1.8l-2.4-2.4l-2.1-2.7l-1.6-2.6l-1.7-3.7zM488.3 34.6l33.8 0l0 9.5l-4.6 3.6l-2.4 1.3l-2.5 0.9l-2.4 0.5l-2.5 0.2l-2.4-0.2l-2.5-0.6l-2.4-1l-2.5-1.4l-2.4-2l-1.2-1.2l-1.8-2.1l-1.9-2.8l-2.3-4.7z"/>
<path fill="#0e93f9" d="M32.5 34.6l8.2 0l-0.2 7.5l-0.3 3.3l-1.3 0.1l-3.6 1.4l-1.3 0.3l-1.5 0.1l0-12.7zM83.3 34.6l33.5 0l-1.5 2.7l-1.7 2.8l-2.5 3.1l-2.4 2.5l-2.5 1.9l-2.4 1.4l-2.4 0.8l-1.3 0.1l-1.2-0.1l-2.4-0.7l-2.5-1.3l-2.4-1.9l-2.5-2.4l-2.4-3.1l-2-3.1l-1.4-2.7zM179.8 34.6l34.3 0l-1.4 2.5l-2.4 3.7l-1.2 1.5l-2.5 2.5l-2.4 1.9l-2.5 1.4l-2.4 0.9l-2.5 0.4l-2.4-0.3l-1.2-0.3l-2.5-1.2l-2.4-1.8l-2.5-2.3l-2.4-2.9l-2.2-3.3l-1.4-2.7zM279.8 34.6l37.5 0l-1.7 3.3l-2.2 3l-1.5 1.7l-2.5 2.2l-2.4 1.6l-2.5 1.1l-3.6 0.9l-2.5 0.2l-2.4-0.2l-3.7-1l-2.5-1.2l-2.4-1.7l-2.4-2.2l-1.3-1.4l-2.4-3.5l-1.5-2.8zM384.4 34.6l37.7 0l-1.4 2.7l-2.3 3.4l-1.3 1.4l-2.4 2.3l-2.4 1.7l-2.5 1.2l-3.7 1.1l-2.4 0.2l-2.5-0.1l-3.6-0.8l-2.5-1.1l-2.4-1.5l-2.5-2.1l-2.4-2.8l-1.9-2.9l-1.5-2.7zM489.1 34.6l33 0l0 7.6l-4.6 3.6l-1.2 0.7l-2.5 1.1l-2.4 0.7l-2.5 0.3l-2.4 0l-2.4-0.4l-2.5-0.8l-2.4-1.2l-1.3-0.8l-2.4-1.9l-2.5-2.6l-1.2-1.7l-1.2-1.9l-1.5-2.7z"/>
<path fill="#0d99f9" d="M32.5 34.6l8.2 0l-0.2 7.5l-0.3 2.9l-1.3 0.2l-3.6 1.1l-2.8 0.3l0-12zM84.2 34.6l31.7 0l-1.7 2.7l-1.8 2.5l-1.3 1.4l-2.4 2.3l-2.5 1.7l-2.4 1.2l-2.4 0.6l-1.3 0.1l-1.2 0l-2.4-0.6l-2.5-1.1l-2.4-1.7l-2.5-2.3l-1.2-1.3l-2.5-3.4l-1.2-2.1zM180.7 34.6l32.5 0l-1.7 2.7l-2.4 3.1l-1.3 1.3l-2.4 2l-2.5 1.6l-2.4 1l-1.2 0.4l-2.5 0.2l-2.4-0.2l-1.2-0.3l-2.5-1.1l-2.4-1.6l-2.5-2.1l-1.2-1.4l-2.5-3.2l-1.4-2.4zM280.7 34.6l35.7 0l-1.6 2.7l-1.7 2.2l-2.4 2.5l-2.5 1.9l-2.4 1.4l-2.5 0.9l-2.4 0.5l-2.5 0.1l-2.4-0.2l-2.5-0.5l-2.4-1l-2.5-1.4l-2.4-1.9l-2.5-2.6l-1.2-1.7l-1.8-2.9zM385.3 34.6l35.9 0l-1.6 2.7l-1.9 2.4l-1.8 1.9l-2.4 2l-2.5 1.5l-2.4 1l-2.5 0.6l-2.4 0.2l-2.5-0.1l-2.4-0.5l-2.5-0.9l-2.4-1.2l-2.5-1.8l-2.4-2.4l-2-2.7l-1.7-2.7zM490 34.6l32.1 0l0 5.9l-4.6 3.6l-2.4 1.3l-1.3 0.5l-3.6 0.9l-2.5 0.1l-2.4-0.2l-2.5-0.6l-2.4-1l-2.5-1.4l-1.2-0.9l-2.4-2.3l-1.3-1.4l-1.2-1.6l-1.8-2.9z"/>
<path fill="#0ca0f9" d="M32.5 34.6l8.1 0l-0.1 6.3l-0.3 3.8l-1.3 0.1l-4.9 1.1l-1.5 0.1l0-11.4zM85.1 34.6l29.9 0l-1.4 2l-2.5 2.9l-1.2 1.2l-2.4 1.9l-2.5 1.3l-1.2 0.5l-2.4 0.5l-1.3 0.1l-1.2 0l-2.4-0.5l-1.3-0.5l-2.4-1.3l-2.5-1.9l-1.2-1.1l-2.4-2.8l-1.6-2.3zM181.6 34.6l30.6 0l-1.9 2.7l-1.2 1.4l-1.3 1.3l-2.4 2l-1.2 0.8l-2.5 1.2l-2.4 0.7l-2.5 0.3l-2.4-0.3l-2.5-0.7l-2.4-1.2l-1.2-0.9l-2.5-2l-1.2-1.3l-1.2-1.5l-1.8-2.5zM281.6 34.6l33.9 0l-1.9 2.7l-1.7 2l-1.2 1.2l-2.5 1.8l-2.4 1.4l-2.5 0.9l-2.4 0.5l-2.5 0.2l-2.4-0.2l-2.5-0.6l-2.4-1l-2.5-1.4l-2.4-1.9l-1.2-1.2l-1.5-1.7l-1.9-2.7zM386.2 34.6l34.1 0l-1.9 2.8l-1.3 1.4l-2.4 2.3l-2.4 1.7l-2.5 1.2l-1.2 0.5l-2.5 0.6l-2.4 0.2l-2.5-0.1l-2.4-0.5l-2.5-0.8l-2.4-1.3l-2.5-1.8l-1.2-1.1l-2.4-2.8l-1.6-2.3zM490.9 34.6l31.2 0l0 4.3l-4.6 3.6l-2.4 1.3l-1.3 0.5l-3.6 0.9l-2.5 0.1l-2.4-0.2l-2.5-0.6l-2.4-0.9l-1.2-0.7l-2.5-1.7l-2.8-2.7l-2-2.4l-1-1.5z"/>
<path fill="#0ba7f9" d="M32.5 34.6l8.1 0l-0.2 6.3l-0.2 3.5l-1.3 0l-4.9 0.9l-1.5 0.1l0-10.8zM86.1 34.6l27.9 0l-2.9 3.4l-1.2 1.1l-2.4 1.8l-1.3 0.7l-2.4 1.1l-1.2 0.3l-2.5 0.2l-2.4-0.2l-1.2-0.3l-2.5-0.9l-1.2-0.7l-2.5-1.8l-1.2-1.1l-1.2-1.3l-1.8-2.3zM182.6 34.6l28.6 0l-2.1 2.7l-1.3 1.2l-1.2 1l-2.4 1.7l-1.3 0.6l-2.4 1l-1.2 0.3l-2.5 0.2l-2.4-0.2l-1.2-0.3l-2.5-1l-1.2-0.6l-2.5-1.8l-1.2-1.1l-1.2-1.2l-2-2.5zM282.5 34.6l32.1 0l-1.5 1.9l-2.4 2.5l-1.3 1l-2.4 1.6l-3.7 1.5l-2.4 0.6l-2.5 0.1l-2.4-0.2l-2.5-0.5l-3.7-1.7l-2.4-1.6l-1.2-1l-2.5-2.6l-1.2-1.6zM387.2 34.6l32.2 0l-2.2 2.7l-1.3 1.3l-1.2 1.1l-2.4 1.7l-3.7 1.7l-2.5 0.6l-2.4 0.2l-2.5-0.1l-2.4-0.5l-1.2-0.4l-2.5-1l-2.4-1.6l-1.3-0.9l-2.4-2.4l-1.8-2.4zM491.9 34.6l30.2 0l0 2.9l-3.4 2.7l-2.4 1.6l-1.2 0.6l-3.7 1.2l-2.5 0.3l-2.4-0.1l-2.4-0.4l-2.5-0.7l-2.4-1.2l-1.3-0.8l-2.4-1.9l-1.2-1.2l-2.4-3z"/>
<path fill="#09aef9" d="M32.5 34.6l8.1 0l-0.2 6.3l-0.2 3.1l-1.3 0l-4.9 0.8l-1.5 0.1l0-10.3zM87.1 34.6l25.9 0l-3.1 3.1l-2.4 1.8l-1.3 0.7l-1.2 0.5l-2.4 0.8l-2.5 0.2l-2.4-0.2l-1.2-0.3l-2.5-0.9l-2.4-1.5l-1.3-0.9l-1.2-1.1l-2-2.2zM183.6 34.6l26.6 0l-2.4 2.5l-1.2 1l-2.4 1.7l-1.3 0.6l-2.4 0.9l-1.2 0.3l-2.5 0.2l-2.4-0.2l-1.2-0.3l-2.5-0.9l-1.2-0.7l-2.5-1.7l-1.2-1l-2.2-2.4zM283.5 34.6l30.1 0l-2.9 3.1l-1.3 1l-2.4 1.6l-3.7 1.5l-2.4 0.5l-2.5 0.2l-2.4-0.2l-2.5-0.6l-3.7-1.6l-1.2-0.7l-2.4-2l-2.7-2.8zM388.1 34.6l30.3 0l-2.5 2.7l-1.2 1.1l-2.4 1.7l-3.7 1.6l-2.5 0.6l-2.4 0.3l-2.5-0.1l-2.4-0.5l-3.7-1.5l-2.4-1.5l-1.3-0.9l-1.2-1.2l-2.1-2.3zM492.9 34.6l29.2 0l0 1.6l-3.4 2.7l-2.4 1.6l-1.2 0.6l-1.3 0.5l-2.4 0.6l-2.5 0.4l-2.4-0.1l-3.7-0.7l-3.6-1.6l-1.3-0.8l-2.4-2l-2.6-2.8z"/>
<path fill="#08b5f9" d="M32.5 34.6l8.1 0l-0.4 9l-7.7 0.7l0-9.7zM88.2 34.6l23.7 0l-2 1.9l-1.2 0.9l-2.5 1.5l-1.2 0.5l-2.4 0.7l-2.5 0.3l-2.4-0.2l-2.5-0.7l-1.2-0.5l-2.4-1.5l-1.3-0.9l-2.1-2zM184.7 34.6l24.4 0l-2.5 2.3l-1.2 0.9l-2.5 1.3l-2.4 0.9l-1.2 0.3l-2.5 0.2l-2.4-0.2l-1.2-0.3l-2.5-0.9l-2.4-1.4l-1.3-0.9l-2.3-2.2zM284.6 34.6l28 0l-1.9 1.9l-1.3 1l-2.4 1.6l-1.2 0.6l-1.3 0.5l-2.4 0.7l-3.7 0.4l-3.7-0.5l-3.6-1.3l-2.5-1.3l-1.2-0.9l-2.8-2.7zM389.2 34.6l28.2 0l-2.7 2.6l-1.2 0.9l-2.5 1.4l-2.4 1l-1.2 0.4l-3.7 0.5l-3.7-0.3l-3.7-1.2l-1.2-0.6l-2.4-1.5l-1.3-1l-2.2-2.2zM493.9 34.6l28.2 0l0 0.4l-3.4 2.7l-2.4 1.6l-1.2 0.5l-1.3 0.5l-2.4 0.7l-3.7 0.4l-3.6-0.5l-2.5-0.8l-1.2-0.5l-2.5-1.4l-1.2-0.9l-2.8-2.7z"/>
<path fill="#07bcfa" d="M32.5 34.6l8.1 0l-0.4 8.6l-7.7 0.6l0-9.2zM89.3 34.6l21.4 0l-3.2 2.4l-2.5 1.2l-2.4 0.7l-2.5 0.2l-2.4-0.2l-2.5-0.6l-1.2-0.5l-2.4-1.4l-2.3-1.8zM185.8 34.6l22.2 0l-2.6 2l-2.5 1.3l-2.4 0.9l-1.2 0.3l-2.5 0.2l-2.4-0.2l-1.2-0.3l-2.5-0.9l-2.4-1.4l-2.5-1.9zM285.7 34.6l25.8 0l-2.1 1.8l-1.2 0.8l-2.4 1.4l-1.3 0.5l-2.4 0.7l-3.7 0.4l-2.4-0.3l-3.7-0.9l-2.5-1.2l-1.2-0.8l-2.9-2.4zM390.2 34.6l26.1 0l-2.8 2.4l-1.2 0.7l-2.5 1.2l-3.7 1.1l-2.4 0.2l-3.7-0.3l-3.7-1.1l-1.2-0.6l-2.4-1.5l-2.5-2.1zM495 34.6l26 0l-2.3 2l-2.4 1.5l-1.2 0.6l-3.7 1.2l-3.7 0.3l-2.4-0.2l-3.7-1l-2.4-1.2l-1.3-0.8l-2.9-2.4z"/>
<path fill="#05c3fa" d="M32.5 34.6l8 0l-0.3 8.2l-7.7 0.5l0-8.7zM90.6 34.6l18.8 0l-1.9 1.3l-2.5 1.2l-2.4 0.7l-2.5 0.2l-2.4-0.2l-2.5-0.6l-2.4-1.2l-2.2-1.4zM187.1 34.6l19.6 0l-2.5 1.6l-2.5 1.1l-2.4 0.7l-2.5 0.2l-2.4-0.3l-2.5-0.6l-2.4-1.1l-2.4-1.6zM286.8 34.6l23.5 0l-3.3 2.3l-2.5 1.1l-3.6 0.9l-2.5 0.2l-2.4-0.2l-3.7-1l-2.5-1.2l-3-2.1zM391.4 34.6l23.7 0l-2.8 2.1l-2.5 1.2l-3.7 1l-2.4 0.3l-3.7-0.3l-2.4-0.7l-3.7-1.8l-2.5-1.8zM496.1 34.6l23.8 0l-2.4 1.7l-1.2 0.8l-2.5 1.1l-2.4 0.6l-3.7 0.4l-2.4-0.2l-3.7-1.1l-2.4-1.1l-3.1-2.2z"/>
<path fill="#04cafa" d="M32.5 34.6l8 0l-0.3 7.8l-7.7 0.4l0-8.2zM92.1 34.6l15.9 0l-1.8 1l-2.4 0.9l-1.2 0.2l-2.5 0.3l-2.4-0.2l-1.2-0.3l-2.5-0.8l-1.9-1.1zM188.5 34.6l16.8 0l-2.4 1.2l-2.4 0.9l-1.2 0.2l-2.5 0.2l-2.4-0.2l-1.2-0.2l-2.5-0.9l-2.2-1.2zM288.1 34.6l20.9 0l-2 1.3l-2.5 1.1l-2.4 0.7l-3.7 0.4l-2.4-0.2l-2.5-0.6l-2.4-0.9l-3-1.8zM392.7 34.6l21.2 0l-2.9 1.7l-2.4 1l-2.5 0.6l-2.4 0.3l-3.7-0.3l-2.4-0.7l-2.5-1.1l-2.4-1.5zM497.4 34.6l21.2 0l-2.3 1.5l-2.5 1.1l-2.4 0.6l-3.7 0.4l-2.4-0.2l-2.5-0.6l-2.4-1l-3-1.8z"/>
<path fill="#03d1fa" d="M32.5 34.6l8 0l-0.3 7.4l-7.7 0.3l0-7.7zM93.8 34.6l12.4 0l-2.4 0.9l-1.2 0.3l-2.5 0.2l-2.4-0.2l-1.2-0.2l-2.7-1zM190.2 34.6l13.4 0l-3.1 1.1l-3.7 0.5l-2.4-0.2l-1.2-0.3l-3-1.1zM289.6 34.6l18 0l-1.8 1l-2.5 0.9l-2.4 0.5l-2.5 0.1l-2.4-0.1l-2.5-0.6l-2.4-1l-1.5-0.8zM394.1 34.6l18.4 0l-1.5 0.8l-2.4 1l-2.5 0.6l-2.4 0.2l-2.5-0.1l-2.4-0.5l-2.5-0.8l-2.2-1.2zM498.8 34.6l18.4 0l-2.1 1.1l-2.5 0.9l-2.4 0.5l-2.5 0.1l-2.4-0.2l-2.5-0.6l-2.4-0.9l-1.6-0.9z"/>
<path fill="#01d7fa" d="M32.5 34.6l8 0l-0.3 6.9l-7.7 0.3l0-7.2zM96.3 34.6l7.5 0l-2.4 0.4l-1.3 0.1l-2.4-0.2l-1.4-0.3zM192.5 34.6l8.8 0l-2 0.5l-2.5 0.2l-2.4-0.2l-1.9-0.5zM291.2 34.6l14.7 0l-1.4 0.6l-2.4 0.7l-3.7 0.4l-3.7-0.5l-3.5-1.2zM395.7 34.6l15.1 0l-3.4 1.3l-3.7 0.5l-3.7-0.4l-2.4-0.6l-1.9-0.8zM500.4 34.6l15.2 0l-1.8 0.7l-2.4 0.7l-3.7 0.4l-3.6-0.5l-3.7-1.3z"/>
<path fill="#01defa" d="M32.5 34.6l8 0l-0.3 6.5l-7.7 0.2l0-6.7zM293.4 34.6l10.3 0l-2.8 0.7l-2.5 0.1l-2.4-0.2l-2.6-0.6zM397.8 34.6l11 0l-2.7 0.7l-2.4 0.2l-2.5-0.1l-3.4-0.8zM502.5 34.6l11 0l-3.3 0.8l-2.5 0.1l-2.4-0.2l-2.8-0.7z"/>
<path fill="#10e0fa" d="M32.5 34.6l7.9 0l-0.2 6l-7.7 0.2l0-6.2zM298.1 34.6l0.9 0l-0.9 0zM401.4 34.6l3.8 0l-1.5 0.1l-2.3-0.1zM506.1 34.6l3.8 0l-2.2 0.1l-1.6-0.1z"/>
<path fill="#1fe2fa" d="M32.5 34.6l7.9 0l-0.2 5.6l-7.7 0.1l0-5.7z"/>
<path fill="#2ee3fb" d="M32.5 34.6l7.9 0l-0.2 5.1l-7.7 0.2l0-5.3z"/>
<path fill="#3de5fb" d="M32.5 34.6l7.9 0l-0.2 4.7l-7.7 0.1l0-4.8z"/>
<path fill="#4ce7fb" d="M32.5 34.6l7.8 0l-0.1 4.2l-7.7 0.1l0-4.3z"/>
<path fill="#5be9fb" d="M32.5 34.6l7.8 0l-0.1 3.8l-7.7 0.1l0-3.9z"/>
<path fill="#6aebfb" d="M32.5 34.6l7.8 0l-0.1 3.3l-7.7 0.1l0-3.4z"/>
<path fill="#79ecfc" d="M32.5 34.6l7.8 0l-0.1 2.9l-7.7 0l0-2.9z"/>
<path fill="#88eefc" d="M32.5 34.6l7.8 0l-0.1 2.4l-7.7 0.1l0-2.5z"/>
<path fill="#97f0fc" d="M32.5 34.6l7.7 0l0 2l-7.7 0l0-2z"/>
<path fill="#a3f2fc" d="M32.5 34.6l7.7 0l0 1.5l-7.7 0l0-1.5z"/>
<path fill="#b0f4fd" d="M32.5 34.6l7.7 0l0 1l-7.7 0.1l0-1.1z"/>
<path fill="#bdf6fd" d="M32.5 34.6l7.7 0l0 0.6l-7.4 0l-0.3 0l0-0.6z"/>
<path fill="#caf8fe" d="M32.5 34.6l7.7 0l0 0.1l-7.4 0l-0.3 0l0-0.1z"/>
<path fill="none" stroke="#d6dcc0" stroke-width="0.7" d="M41.4 34.6l0 0.5l6.1-0.1l3.7-0.4M41.3 34.6l0.1 2.1l2.4 0l3.7-0.1l3.7-0.3l2.4-0.5l3.2-1.2M243.1 34.6l1.5 0.3l2.4 0.2l3.7-0.5M344.9 34.6l2.5 0.7l3.7 0.4l2.4-0.2l3.4-0.9M449.7 34.6l2.9 0.8l2.5 0.3l3.7-0.3l2.8-0.8M41.3 34.6l0.1 3.7l4.9 0.1l3.6-0.2l3.7-0.5l3.7-1.4l2.9-1.7M141.2 34.6l3 1.2l2.4 0.5l1.3 0.1l1.2 0l2.4-0.4l2.5-0.8l1.3-0.6M238.3 34.6l1.4 0.7l2.4 1l2.5 0.5l2.4 0.2l3.7-0.5l2.4-0.8l2.3-1.1M341.1 34.6l2.6 1.4l2.5 1l2.4 0.5l2.5 0.1l2.4-0.2l2.4-0.5l2.5-1l2.3-1.3M445.9 34.6l1.8 1.1l2.5 1l2.4 0.6l2.5 0.3l2.4-0.1l2.5-0.4l2.4-0.9l3-1.6M41.2 34.6l0.2 5.2l7.3 0.3l3.7-0.2l3.7-0.9l2.4-1.1l1.2-0.8l3.1-2.5M138 34.6l2.5 1.8l2.5 1.3l2.4 0.7l2.5 0.3l2.4-0.2l2.5-0.5l2.4-1.1l3.4-2.3M235.3 34.6l3.1 2.3l2.5 1.2l2.4 0.7l3.7 0.4l2.5-0.2l3.6-1l2.5-1.3l2.8-2.1M338.3 34.6l3 2.3l2.4 1.3l3.7 1.3l3.7 0.3l3.6-0.4l2.5-0.8l1.2-0.5l2.4-1.4l2.7-2.1M443.1 34.6l2.2 1.8l2.4 1.5l1.3 0.6l2.4 0.8l3.7 0.5l3.7-0.3l3.6-1.1l2.5-1.3l3.3-2.5M41.2 34.6l0.2 6.8l7.3 0.7l2.5 0.1l3.6-0.5l1.3-0.3l2.4-1.1l2.5-1.6l1.2-1l2.9-3.1M135.5 34.6l2.6 2.7l2.4 1.8l1.2 0.7l2.5 1l2.4 0.6l1.3 0.1l2.4-0.2l1.2-0.3l2.5-0.8l1.2-0.7l2.5-1.6l1.2-1l2.2-2.3M232.9 34.6l1.9 2l1.2 1.1l2.4 1.7l1.3 0.7l1.2 0.6l2.4 0.7l3.7 0.4l3.7-0.4l2.4-0.9l1.3-0.5l1.2-0.7l2.4-1.8l2.9-2.9M335.9 34.6l2.9 3l2.5 1.8l1.2 0.8l3.7 1.5l2.4 0.5l2.5 0.1l2.4-0.2l2.4-0.5l3.7-1.6l2.5-1.6l1.2-1.1l2.6-2.7M440.7 34.6l2.2 2.4l1.2 1l1.2 1l2.4 1.4l3.7 1.4l3.7 0.5l2.4-0.1l2.5-0.4l3.7-1.4l2.4-1.5l1.2-1l1.3-1.1l2-2.2M41.1 34.6l0.3 8.2l2.4 0.3l6.1 1.3l2.5 0.2l2.4-0.2l1.3-0.2l1.2-0.4l2.4-1.3l2.5-1.8l1.2-1.2l2.5-2.9l1.2-2M133.3 34.6l1.1 1.7l2.4 2.9l1.3 1.2l2.4 2l2.5 1.4l1.2 0.5l2.4 0.6l1.3 0.1l2.4-0.2l2.5-0.7l2.4-1.2l1.2-0.8l2.5-2l1.2-1.3l1.2-1.4l2-2.8M230.7 34.6l1.6 2.4l2.5 2.7l1.2 1.1l2.4 1.8l2.5 1.2l1.2 0.5l2.5 0.5l2.4 0.2l2.5-0.2l2.4-0.7l2.5-1l1.2-0.7l2.4-1.8l1.2-1.2l2.5-2.7l1.4-2.1M333.8 34.6l1.3 2l2.5 2.8l1.2 1.2l2.5 1.8l2.4 1.4l2.5 0.9l2.4 0.5l2.5 0.1l2.4-0.2l2.4-0.5l2.5-1l2.4-1.4l2.5-1.9l1.2-1.2l1.6-1.8l1.9-2.7M438.6 34.6l1.8 2.6l1.2 1.5l2.5 2.3l2.4 1.8l2.5 1.2l1.2 0.4l2.4 0.7l2.5 0.2l2.4-0.1l2.5-0.4l2.4-0.9l2.5-1.2l2.4-1.8l1.3-1.1l2.4-2.7l1.7-2.5M41.1 34.6l0.3 9.4l2.4 0.6l6.1 2.5l2.5 0.6l1.2 0.1l2.5-0.1l2.4-0.8l1.2-0.7l2.5-1.8l2.4-2.5l1.3-1.7l1.8-2.9l1.3-2.7M131.3 34.6l1.9 3.6l1.2 2l2.4 3.2l2.5 2.5l2.4 2.1l2.5 1.4l1.2 0.6l2.5 0.4l2.4-0.2l1.2-0.4l2.5-1.3l2.4-1.9l2.5-2.3l2.4-3l2.5-3.8l1.5-2.9M228.7 34.6l1.4 2.7l2.2 3.4l2.5 2.8l2.4 2.2l2.5 1.6l2.4 1l2.5 0.6l2.4 0.1l2.5-0.2l2.4-0.7l2.5-1.2l2.4-1.5l2.4-2.2l2.5-2.8l2-3.1l1.4-2.7M331.9 34.6l1.4 2.7l1.8 2.9l2.5 2.9l2.4 2.1l2.5 1.6l2.4 1.1l2.5 0.7l3.7 0.4l3.6-0.4l2.5-0.8l2.4-1.1l2.5-1.7l2.4-2.2l1.6-1.9l2.1-3l1.7-3.3M436.6 34.6l1.4 2.7l2.4 3.6l1.2 1.5l2.5 2.3l2.4 1.7l2.5 1.3l2.4 0.8l3.7 0.5l3.7-0.3l2.4-0.6l2.5-1.1l2.4-1.5l2.5-2l2.4-2.8l2.3-3.4l1.4-2.7M41 34.6l0.2 7.5l0.2 2.9l1.8 0.7l5.5 4.2l3.7 2.4l2.4 0.8l1.3 0.1l1.2-0.2l1.2-0.5l1.2-0.7l2.5-2.1l2.4-2.9l2.5-3.6l1.2-2.3l1.2-2.7l1.3-3.6M129.4 34.6l1.3 3.6l1.8 3.9l6.6 12.1l0.8 2.4l0.2 1.2l0.1 49.1M226.8 34.6l1.5 3.9l1.6 3.3l2.4 4l2.5 3.1l2.4 2.4l1.2 0.9l2.5 1.5l2.4 0.8l2.5 0.3l2.4-0.1l3.7-1.1l2.5-1.3l1.2-0.8l2.4-2l2.5-2.6l2.4-3.4l2.5-4.6l1.6-4.3M330 34.6l1.5 3.9l2.4 4.6l2.5 3.4l2.4 2.5l2.5 1.8l1.2 0.7l2.4 1.1l2.5 0.8l3.7 0.3l3.6-0.4l2.5-0.8l2.4-1.1l1.2-0.8l2.5-1.9l2.4-2.6l2.5-3.5l2.1-4.1l1.5-3.9M434.7 34.6l1.5 3.9l1.8 3.5l2.4 3.6l2.5 2.7l2.4 2l1.2 0.8l2.5 1.3l3.6 1.1l2.5 0.2l3.7-0.3l2.4-0.6l1.2-0.5l2.5-1.2l2.4-1.8l2.5-2.4l2.4-3.2l2.5-4.4l1.8-4.7M155.8 106.9l0.1-49.1l0.3-1.2l0.9-2.4l6.7-11.5l1.9-4.2l1.5-3.9M41 34.6l0.1 8.7l0.3 2.6l1.4 1.1l2.5 3.6l1.9 3.6l0.9 2.4l0.2 1.2l0.1 49.1M127.6 34.6l1.6 6.3l3.3 10.9l1 4.8l0.1 50.3M225 34.6l1.7 6.3l1.9 5.6l2.5 5.5l4.1 8.2l1.3 3.6l0.1 1.2l-0.1 41.9M328.2 34.6l1.3 5.1l2 5.4l2.4 4.7l2.5 3.3l1.2 1.3l2.4 2.2l1.3 0.8l2.4 1.4l3.7 1.2l3.7 0.4l3.6-0.4l3.7-1.3l2.4-1.4l1.3-0.9l2.4-2.2l1.2-1.4l2.5-3.5l1.2-2.2l1.2-2.7l1.7-4.7l1.3-5.1M432.9 34.6l1.7 6.3l2.1 5.4l2.5 4.3l2.4 3.2l2.5 2.3l1.2 0.9l2.4 1.5l3.7 1.4l3.7 0.5l2.4-0.1l2.5-0.4l3.7-1.5l2.4-1.5l1.2-0.9l2.5-2.4l2.4-3.2l2.5-4.4l1.9-5.1l1.7-6.3M65 106.9l0-49.1l0.5-2.4l0.7-2.4l3.3-8l1.3-3.4l1.8-7M162.7 106.9l0-49.1l0.3-2.4l0.6-2.4l3.8-12.3l1.6-6.1M245.3 106.9l0-37.1l0.5-0.9l1.2-1.5l1.2-1.2l6.2-5.1l2.4-2.3l2.4-2.7l2.5-3.4l2.4-4.2l1.8-4l1.6-4.8l1.4-5.1M40.9 34.6l0.2 11.1l0.3 1.1l0.2 0.2l0.5 1.2l0.6 2.4l0.6 3.6l0.2 3.6l0.1 49.1M125.8 34.6l2.2 16l0.6 6l0 50.3M223.2 34.6l1 7.5l2.2 12.1l0.5 4.8l0 2.4l-0.4 3.6l0 41.9M326.4 34.6l1.1 7.5l1.5 7.2l1.2 3.9l1.3 3.1l2.4 4.7l2.1 2.8l1.6 1.9l1.2 1.2l2.5 1.8l2.4 1.4l2.5 1l2.4 0.6l2.5 0.1l3.6-0.4l2.5-0.7l2.4-1.2l2.5-1.7l2.4-2.2l1.2-1.4l2-2.8l1.7-2.9l1.2-2.7l1.8-5.2l1.7-7.3l1.3-8.7M431.2 34.6l1.2 8.7l0.8 3.7l1.1 4.2l1.2 3.6l1.2 2.9l2.5 4.3l1.2 1.7l2.5 2.8l1.2 1.1l2.4 1.7l2.5 1.3l2.4 0.8l3.7 0.6l2.4-0.1l2.5-0.5l2.4-0.9l2.5-1.3l2.4-1.8l1.3-1.1l2.4-2.7l1.2-1.8l2.5-4.4l1.2-3l1.2-3.7l1.7-7.4l1.3-8.7M70.7 106.9l0.1-50.3l0.6-4.8l2.1-10.9l0.8-6.3M167.8 106.9l0-49.1l0.6-6l2.3-17.2M258.1 106.9l0-31l5.6-12.1l1.7-4.4l1.2-3.7l1.2-4.4l1.2-5.7l1-5.9l0.6-5.1M40.9 34.6l-0.1 14.8l-0.3 2.4l-1.1 4.8l-0.1 2.4l0 47.9M124.1 34.6l0 72.3M221.5 34.6l-0.1 18.4l-0.3 4.8l-0.6 6l0 43.1M324.7 34.6l0.1 18.4l0.2 12l0.5 8.5l1 13.2l0.2 4.8l-0.1 4.9l-0.7 4.8l0 5.7M429.5 34.6l0.1 72.3M75.5 106.9l0-49.1l0.5-23.2M172.5 106.9l0-72.3M270.2 106.9l0-25l0.3-1.2l1-2.4l0.7-2.4l0.6-3.6l0.2-3.7l0-4.8l-0.5-16.8l-0.1-12.4M376.7 106.9l0.3-20.2l0.1-52.1M481.8 106.9l0-72.3M40.8 34.6l-0.1 11.1l-0.6 1.3l-1.2 3l-1.2 1.9l-1.2 1.5l-1.2 1.1l-1.3 0.7l-1.5 0.4M122.4 34.6l-2.2 16l-0.5 6l-0.1 50.3M219.7 34.6l-1.3 9.9l-2.8 14.5l-0.5 3.6l0 44.3M322.9 34.6l-1.2 9l-1.6 7l-2.1 6.1l-1.2 2.7l-1.8 3.2l-1.9 2.7l-1.2 1.5l-2.5 2.4l-2.4 1.8l-1.2 0.7l-2.5 1.2l-2.4 0.7l-2.5 0.2l-2.4-0.1l-2.5-0.7l-2.4-1.2l-1.3-0.8l-2.4-2.1l-1.2-1.2l-2.5-3.1l-1.2-1.9l-1.2-2.1l-1.9-4l-2.2-6l-1.8-7.3l-1.2-8.7M427.7 34.6l-1.2 8.7l-1.7 7.3l-1.2 3.6l-0.9 2.4l-1.8 3.6l-1.3 2l-1.2 1.7l-2.5 2.7l-1.2 1.1l-2.4 1.7l-2.5 1.3l-2.4 0.8l-3.7 0.5l-2.5-0.1l-2.4-0.5l-2.5-0.9l-2.4-1.3l-2.5-1.8l-1.2-1.2l-2.1-2.4l-1.6-2.2l-2.4-4.5l-1.2-3l-1.2-3.8l-1.6-7l-1.3-8.7M522.1 65.4l-3.4 2.8l-1.2 0.9l-2.4 1.3l-3.7 1.2l-2.5 0.3l-3.6-0.1l-2.5-0.7l-1.2-0.4l-2.4-1.2l-2.5-1.7l-2.4-2.3l-2.5-3.1l-2-3.4l-1.7-3.5l-1.6-4.9l-1.2-4.9l-0.9-4.8l-0.8-6.3M80.1 106.9l0-50.3l-0.5-6l-1.9-16M177.1 106.9l-0.1-50.3l-0.4-4.8l-2.4-17.2M40.8 34.6l-0.2 9.9l-0.1 1.2l-0.3 0.7l-1 0.6l-0.3 0.6l-1.2 1.3l-1.2 1.1l-1.2 0.7l-1.3 0.5l-1.5 0.2M120.6 34.6l-1.6 6.3l-3.3 10.9l-0.5 2.4l-0.4 2.4l-0.1 50.3M218 34.6l-1 3.9l-1.5 4.8l-4.6 12.1l-1.4 4.8l-0.5 1.2l0 45.5M321.2 34.6l-1.3 5.1l-1.9 5.2l-2.4 4.8l-2.5 3.5l-2.4 2.5l-1.3 1.1l-2.4 1.6l-2.5 1.2l-1.2 0.4l-2.4 0.5l-2.5 0.2l-3.7-0.5l-2.4-0.8l-1.2-0.6l-2.5-1.5l-1.2-0.9l-2.4-2.3l-2.8-3.5l-1.4-2.4l-1.3-2.5l-1.9-4.9l-1.7-6.2M426 34.6l-1.5 5.6l-2.1 5.5l-1.6 3.1l-1.2 2l-2.5 3.1l-2.4 2.3l-1.2 0.9l-2.5 1.5l-3.6 1.3l-3.7 0.5l-2.5-0.1l-2.4-0.5l-3.7-1.4l-2.4-1.6l-1.3-0.9l-2.4-2.4l-2.5-3.3l-2.4-4.5l-1.8-4.8l-1.7-6.3M522.1 54l-3.4 2.7l-2.4 1.6l-2.5 1.1l-2.4 0.7l-3.7 0.3l-2.4-0.2l-2.5-0.6l-2.4-1l-2.5-1.4l-2.4-1.9l-2.5-2.7l-2.2-3.2l-1.4-2.6l-1.5-3.5l-1.3-3.6l-1.3-5.1M85.1 106.9l-0.1-50.3l-0.8-4.8l-3.2-10.9l-1.6-6.3M182.1 106.9l-0.1-50.3l-0.6-3.6l-3.9-12.1l-1.6-6.3M40.7 34.6l-0.1 8.7l-0.4 2.7l-1.3 0.4l-2.4 1.6l-1.2 0.6l-1.3 0.4l-1.5 0.1M118.8 34.6l-1.5 4.2l-1.3 2.7l-2.4 4.7l-3.2 5.6l-1.2 2.4l-0.8 2.4l-0.2 1.2l-0.1 49.1M216.1 34.6l-2.1 5.5l-2.5 4.5l-2.4 3.7l-6.3 8.3l-1.3 2.4l-0.2 1.2l0 46.7M319.4 34.6l-1.5 3.9l-2.3 4.5l-2.5 3.4l-2.4 2.5l-2.5 1.9l-1.2 0.7l-2.5 1.2l-2.4 0.7l-3.7 0.4l-3.7-0.5l-2.4-0.8l-2.5-1.2l-1.2-0.8l-2.4-1.9l-2.5-2.6l-2.4-3.5l-2-4l-1.6-3.9M424.2 34.6l-1.5 3.9l-1.9 3.7l-2.4 3.6l-2.5 2.7l-2.4 1.9l-1.2 0.8l-2.5 1.2l-3.7 1.1l-2.4 0.2l-3.7-0.3l-2.4-0.6l-1.3-0.5l-2.4-1.3l-2.5-1.8l-2.4-2.4l-2.5-3.3l-2.4-4.5l-1.7-4.4M522.1 47.3l-4.6 3.6l-2.4 1.3l-2.5 0.9l-2.4 0.5l-3.7 0.1l-2.4-0.4l-2.5-0.8l-2.4-1.2l-2.5-1.7l-2.4-2.2l-1.3-1.4l-1.8-2.7l-1.8-3.1l-1.3-2.8l-1-2.8M91.8 106.9l-0.1-49.1l-0.5-2.4l-0.5-1.2l-1.2-2.4l-5.3-9.8l-1.2-2.7l-1.8-4.7M190.3 106.9l-0.1-47.9l-0.3-1.2l-1-2.4l-5.5-8.8l-2.5-4.4l-1.7-3.7l-1.5-3.9M40.7 34.6l-0.2 7.5l-0.3 3.3l-1.3 0.2l-3.6 1.4l-1.3 0.3l-1.5 0.1M117 34.6l-1.4 2.7l-2 3.2l-2.5 3.1l-2.4 2.6l-2.5 2l-2.4 1.4l-1.2 0.5l-2.5 0.4l-2.4-0.3l-1.2-0.4l-2.5-1.4l-2.4-2l-2.5-2.5l-2.4-3.1l-2.2-3.5l-1.4-2.7M214.2 34.6l-1.5 2.9l-2.4 3.7l-1.2 1.5l-2.5 2.5l-2.4 2l-2.5 1.4l-2.4 1l-2.5 0.3l-2.4-0.2l-2.5-0.9l-2.4-1.5l-1.2-1l-2.5-2.3l-2.4-3l-2.5-3.9l-1.3-2.5M317.5 34.6l-1.4 2.7l-1.8 2.8l-2.4 2.9l-2.5 2.2l-2.4 1.5l-2.5 1.2l-2.4 0.7l-3.7 0.4l-3.7-0.5l-2.4-0.8l-2.5-1.1l-2.4-1.7l-2.4-2.2l-1.5-1.8l-2.2-3.1l-1.7-3.2M422.3 34.6l-1.5 2.8l-2.3 3.5l-1.4 1.6l-2.4 2.3l-2.4 1.7l-2.5 1.2l-2.4 0.8l-3.7 0.5l-3.7-0.3l-2.4-0.7l-2.5-1.1l-2.4-1.5l-2.5-2.1l-2.4-2.7l-2.2-3.3l-1.4-2.7M522.1 42.6l-4.6 3.6l-2.4 1.3l-1.3 0.5l-2.4 0.7l-2.5 0.3l-2.4-0.1l-2.4-0.4l-2.5-0.7l-2.4-1.2l-2.5-1.7l-1.2-1l-2.5-2.7l-1.2-1.6l-1.2-1.9l-1.6-3.1M40.6 34.6l-0.1 6.3l-0.3 3.8l-1.3 0.1l-4.9 1.1l-1.5 0.1M115 34.6l-1.4 2l-2.5 2.9l-1.2 1.2l-2.4 1.9l-2.5 1.3l-1.2 0.5l-2.4 0.5l-1.3 0.1l-1.2 0l-2.4-0.5l-1.3-0.5l-2.4-1.3l-2.5-1.9l-1.2-1.1l-2.4-2.8l-1.6-2.3M212.2 34.6l-1.9 2.7l-1.2 1.4l-1.3 1.3l-2.4 2l-1.2 0.8l-2.5 1.2l-2.4 0.7l-2.5 0.3l-2.4-0.3l-2.5-0.7l-2.4-1.2l-1.2-0.9l-2.5-2l-1.2-1.3l-1.2-1.5l-1.8-2.5M315.5 34.6l-1.9 2.7l-1.7 2l-1.2 1.2l-2.5 1.8l-2.4 1.4l-2.5 0.9l-2.4 0.5l-2.5 0.2l-2.4-0.2l-2.5-0.6l-2.4-1l-2.5-1.4l-2.4-1.9l-1.2-1.2l-1.5-1.7l-1.9-2.7M420.3 34.6l-1.9 2.8l-1.3 1.4l-2.4 2.3l-2.4 1.7l-2.5 1.2l-1.2 0.5l-2.5 0.6l-2.4 0.2l-2.5-0.1l-2.4-0.5l-2.5-0.8l-2.4-1.3l-2.5-1.8l-1.2-1.1l-2.4-2.8l-1.6-2.3M522.1 38.9l-4.6 3.6l-2.4 1.3l-1.3 0.5l-3.6 0.9l-2.5 0.1l-2.4-0.2l-2.5-0.6l-2.4-0.9l-1.2-0.7l-2.5-1.7l-2.8-2.7l-2-2.4l-1-1.5M40.6 34.6l-0.2 6.3l-0.2 3l-7.7 0.9M112.8 34.6l-2.9 2.8l-2.4 1.8l-1.3 0.7l-1.2 0.5l-2.4 0.8l-2.5 0.2l-2.4-0.2l-2.5-0.7l-1.2-0.5l-1.2-0.7l-2.5-1.7l-3-3M210 34.6l-2.2 2.3l-1.2 1l-2.4 1.6l-1.3 0.6l-2.4 0.9l-1.2 0.3l-2.5 0.2l-2.4-0.2l-1.2-0.3l-2.5-0.9l-1.2-0.6l-2.5-1.7l-1.2-1.1l-2-2.1M313.4 34.6l-2.7 2.9l-2.5 1.8l-1.2 0.8l-3.7 1.5l-2.4 0.5l-2.5 0.2l-3.7-0.5l-3.6-1.3l-2.5-1.4l-1.2-0.9l-2.4-2.2l-1.3-1.4M418.2 34.6l-1.3 1.5l-2.2 2l-1.2 1l-2.5 1.4l-3.6 1.3l-3.7 0.5l-2.5-0.1l-2.4-0.5l-3.7-1.4l-2.4-1.5l-1.3-1l-1.2-1.1l-1.9-2.1M522.1 35.9l-3.4 2.8l-2.4 1.5l-1.2 0.6l-3.7 1.2l-3.7 0.3l-3.6-0.4l-3.7-1.3l-2.5-1.5l-1.2-0.9l-2.4-2.2l-1.2-1.4M40.6 34.6l-0.4 8.4l-7.7 0.6M110.2 34.6l-2.7 2l-2.5 1.1l-2.4 0.7l-2.5 0.3l-2.4-0.2l-2.5-0.7l-2.4-1.1l-3-2.1M207.5 34.6l-3.3 2.3l-2.5 1.1l-2.4 0.6l-2.5 0.2l-2.4-0.2l-2.5-0.7l-2.4-1.1l-3.2-2.2M311 34.6l-2.8 2.2l-2.4 1.3l-1.3 0.5l-2.4 0.7l-3.7 0.4l-3.7-0.4l-2.4-0.8l-1.2-0.5l-2.5-1.4l-2.5-2M415.8 34.6l-2.3 1.9l-2.5 1.5l-1.2 0.5l-2.4 0.8l-3.7 0.5l-3.7-0.3l-3.7-1.2l-2.4-1.2l-3.2-2.5M520.6 34.6l-3.1 2.4l-2.4 1.3l-3.7 1.2l-3.7 0.3l-3.6-0.5l-2.5-0.7l-1.2-0.6l-2.5-1.4l-2.5-2M40.5 34.6l-0.3 7.5l-7.7 0.4M107 34.6l-3.2 1.3l-2.4 0.4l-1.3 0.1l-1.2-0.1l-2.4-0.4l-1.3-0.3l-2.1-1M204.3 34.6l-1.4 0.7l-2.4 0.8l-1.2 0.3l-2.5 0.2l-2.4-0.3l-1.2-0.2l-1.3-0.4l-2.4-1.1M308.2 34.6l-2.4 1.3l-2.5 0.9l-2.4 0.6l-2.5 0.1l-2.4-0.2l-2.5-0.5l-2.4-1l-2.1-1.2M413 34.6l-2 1.2l-2.4 1l-2.5 0.6l-2.4 0.2l-2.5-0.1l-2.4-0.5l-2.5-0.9l-2.8-1.5M517.8 34.6l-2.7 1.5l-2.5 0.9l-2.4 0.5l-2.5 0.1l-2.4-0.2l-2.5-0.6l-2.4-1l-2.2-1.2M40.5 34.6l-0.3 6.6l-7.7 0.2M304.2 34.6l-3.3 0.8l-2.5 0.2l-2.4-0.2l-3.1-0.8M409.2 34.6l-3.1 0.8l-2.4 0.3l-3.7-0.3l-2.7-0.8M514 34.6l-2.6 0.7l-3.7 0.4l-2.4-0.2l-3.3-0.9M40.4 34.6l-0.2 5.6l-7.7 0.1M40.4 34.6l-0.2 4.6l-7.7 0.1M40.3 34.6l-0.1 3.6l-7.7 0.1M40.3 34.6l-0.1 2.6l-7.7 0M40.2 34.6l0 1.6l-7.7 0M40.2 34.6l0 0.6l-7.7 0"/>
</g>
<g clip-path="url(#ct)"><path fill="none" stroke="#e4e6e0" stroke-width="1.2" stroke-dasharray="1.2 1.4" d="M41.3 36.3l13.3 0.1l8.5-0.3l8.5-0.6l19.4-2l6.1-0.3l6-0.2l4.9 0.1l6 0.2l6.1 0.5l19.4 1.9l6.1 0.4l6 0.1l6.1-0.1l6.1-0.4l19.4-1.9l7.2-0.5l7.3-0.3l6.1 0l4.8 0.2l6.1 0.5l23 2.1l6.1 0.4l6 0.1l6.1-0.2l7.3-0.4l19.4-1.9l7.3-0.5l7.2-0.4l6.1 0l6.1 0.2l6 0.4l25.5 2.4l6 0.3l6.1 0.1l6.1-0.1l6-0.3l25.5-2.4l6.1-0.4l4.8-0.2l6.1 0l7.2 0.3l7.3 0.5l20.6 2l7.3 0.5l6.1 0.1l6-0.1l7.3-0.4l21.8-2.1l8.5-0.6l8.5-0.2l8.5 0.2"/></g>
<path fill="none" stroke="#eee" stroke-width="1.0" stroke-dasharray="1.0 1.2" d="M32.8 32.3l6.7 0"/>
<rect x="39.8" y="17.7" width="1.2" height="28.7" fill="#9a9a9a" stroke="none"/>
<path fill="none" stroke="#4a4a4a" stroke-width="0.8" d="M32.5 34.6V17.7H41V46.4H39.8V17.7"/>
<rect x="32.5" y="16.8" width="485" height="90.1" fill="none" stroke="#9a9a9a" stroke-width="0.8"/>
<path stroke="#9a9a9a" stroke-width="0.8" fill="none" d="M32.5 106.9v-3M32.5 16.8v3M81 106.9v-3M81 16.8v3M129.5 106.9v-3M129.5 16.8v3M178 106.9v-3M178 16.8v3M226.5 106.9v-3M226.5 16.8v3M275 106.9v-3M275 16.8v3M323.5 106.9v-3M323.5 16.8v3M372 106.9v-3M372 16.8v3M420.5 106.9v-3M420.5 16.8v3M469 106.9v-3M469 16.8v3M517.5 106.9v-3M517.5 16.8v3M32.5 22.6h3M517.5 22.6h-3M32.5 34.6h3M517.5 34.6h-3M32.5 46.7h3M517.5 46.7h-3M32.5 58.7h3M517.5 58.7h-3M32.5 70.8h3M517.5 70.8h-3M32.5 82.8h3M517.5 82.8h-3M32.5 94.8h3M517.5 94.8h-3"/>
<path fill="none" stroke="#111" stroke-width="1.3" d="M32.5 58.7l84.9 0.1l21.8 0l17 0.2l14.5 0.3l12.1 0.4l9.7 0.5l9.7 0.7l4.9 0.5l4.9 0.6l4.8 0.8l4.8 0.9l7.3 1.6l7.3 2.1l4.8 1.6l2.5 1l7.2 3l7.3 3.4l4.9 2.5l7.3 3.9l7.2 3.3l7.3 3.1l4.8 2l4.9 1.9l4.8 1.7l4.9 1.6l4.9 1.4l4.8 1.2l4.8 1.2l4.9 1l4.8 0.8l4.9 0.8l9.7 1.1l4.9 0.5l7.2 0.6l7.3 0.4l7.3 0.4l16.9 0.5l19.5 0.3l24.2 0.2l87.3 0.1"/>
<rect x="32.3" y="17" width="61" height="45.3" fill="none" stroke="#9c9c9c" stroke-width="1.4"/>
<path d="M93.3 62.3L103.4 123" stroke="#6a6a6a" stroke-width="1" fill="none"/><path d="M104.5 129.5L100.2 122.6L108 121.4z" fill="#5a5a5a"/>
<text x="29.6" y="38.4" font-size="10" text-anchor="end" fill="#262626">0</text>
<text x="29.6" y="62.5" font-size="10" text-anchor="end" fill="#262626">-10</text>
<text x="29.6" y="86.6" font-size="10" text-anchor="end" fill="#262626">-20</text>
<text x="29.6" y="110.7" font-size="10" text-anchor="end" fill="#262626">-30</text>
<text x="32.5" y="117" font-size="10" text-anchor="middle" fill="#262626">0</text>
<text x="81" y="117" font-size="10" text-anchor="middle" fill="#262626">20</text>
<text x="129.5" y="117" font-size="10" text-anchor="middle" fill="#262626">40</text>
<text x="178" y="117" font-size="10" text-anchor="middle" fill="#262626">60</text>
<text x="226.5" y="117" font-size="10" text-anchor="middle" fill="#262626">80</text>
<text x="275" y="117" font-size="10" text-anchor="middle" fill="#262626">100</text>
<text x="323.5" y="117" font-size="10" text-anchor="middle" fill="#262626">120</text>
<text x="372" y="117" font-size="10" text-anchor="middle" fill="#262626">140</text>
<text x="420.5" y="117" font-size="10" text-anchor="middle" fill="#262626">160</text>
<text x="469" y="117" font-size="10" text-anchor="middle" fill="#262626">180</text>
<text x="517.5" y="117" font-size="10" text-anchor="middle" fill="#262626">200</text>
<text x="278" y="125.4" font-size="10" text-anchor="middle" font-weight="bold" fill="#222">x [m]</text>
<text transform="translate(13.7 63.8) rotate(-90)" font-size="10" text-anchor="middle" font-weight="bold" fill="#222">z [m]</text>
<text x="45.6" y="97.4" font-size="9" text-anchor="start" fill="#262626">t=0s</text>
<text x="38" y="10.6" font-size="10" text-anchor="start" fill="#222" textLength="483" lengthAdjust="spacingAndGlyphs" xml:space="preserve">ω = 1.2 rad/s (T=5.236s),  Reflection coef.: 0.762 ,  Hydrodynamic Performance: 41.93 %,  Overall Performance 29.35%</text>
<rect x="526.8" y="17.6" width="5.4" height="88" fill="url(#cbg)" stroke="#b4b4b4" stroke-width="0.6"/>
<path stroke="#888" stroke-width="0.6" d="M532.2 21.1h-1.5"/>
<text x="534.4" y="24.1" font-size="10" text-anchor="start" fill="#262626">4</text>
<path stroke="#888" stroke-width="0.6" d="M532.2 41.4h-1.5"/>
<text x="534.4" y="44.4" font-size="10" text-anchor="start" fill="#262626">2</text>
<path stroke="#888" stroke-width="0.6" d="M532.2 61.6h-1.5"/>
<text x="534.4" y="64.6" font-size="10" text-anchor="start" fill="#262626">0</text>
<path stroke="#888" stroke-width="0.6" d="M532.2 81.8h-1.5"/>
<text x="534.4" y="84.8" font-size="10" text-anchor="start" fill="#262626">-2</text>
<path stroke="#888" stroke-width="0.6" d="M532.2 102.1h-1.5"/>
<text x="534.4" y="105.1" font-size="10" text-anchor="start" fill="#262626">-4</text>
<path fill="none" stroke="#4a4a4a" stroke-width="1.2" stroke-dasharray="1.2 1.2" d="M36 177.3l17.4 0"/>
<path fill="none" stroke="#5a5a5a" stroke-width="1.2" stroke-dasharray="1.2 1.2" d="M58.2 185l34.9 0.1l23.7-0.5l20.6-0.8l38.1-2.1l17.4-0.8"/>
<g clip-path="url(#cp0)">
<rect x="34.2" y="181.6" width="161.3" height="65.5" fill="#000099"/>
<path fill="#0000a0" d="M35.2 182.6l21.4 0l0 1.3l15.8-0.2l6.4-0.4l4.8-0.7l110.9 0l0 63.5l-159.3 0l0-63.5z"/>
<path fill="#0000a7" d="M35.2 182.6l21.4 0l0 3.2l12.7 0l7.9-0.4l4.8-0.5l3.1-0.6l3.2-0.7l3.5-1l102.7 0l0 63.5l-159.3 0l0-63.5z"/>
<path fill="#0001ad" d="M35.2 182.6l21.3 0l0.1 5.2l7.9 0l11.1-0.3l4.8-0.4l3.1-0.4l6.4-1.4l3.2-1l4.2-1.7l97.2 0l0 63.5l-159.3 0l0-63.5z"/>
<path fill="#0003b2" d="M35.2 182.6l21.3 0l0.1 7.1l11.1 0l6.3-0.1l4.8-0.3l4.7-0.5l3.2-0.6l4.8-1.2l3.1-1.1l3.2-1.3l4-2l92.7 0l0 63.5l-159.3 0l0-63.5z"/>
<path fill="#0006b7" d="M35.2 182.6l21.3 0l0.1 9l14.3 0.1l6.3-0.2l4.8-0.3l4.7-0.8l3.2-0.7l3.2-0.9l4.7-1.9l3.2-1.5l4.5-2.8l89 0l0 63.5l-159.3 0l0-63.5z"/>
<path fill="#0008bc" d="M35.2 182.6l21.2 0l0.2 10.8l17.4 0.3l4.8-0.1l4.7-0.4l4.8-0.8l4.8-1.3l4.7-1.8l3.2-1.5l3.1-1.8l4.8-3.4l85.6 0l0 63.5l-159.3 0l0-63.5z"/>
<path fill="#000ac1" d="M35.2 182.6l21.2 0l0.2 12.7l19 0.6l4.8-0.1l4.7-0.4l4.8-0.9l4.7-1.4l4.8-1.9l4.7-2.6l4.8-3.4l3.1-2.6l82.5 0l0 63.5l-159.3 0l0-63.5z"/>
<path fill="#000cc7" d="M35.2 182.6l21.2 0l0.2 14.6l4.8 0l12.6 0.8l4.8 0.1l4.7-0.2l4.8-0.5l4.8-1.1l4.7-1.7l4.8-2.3l4.7-3.1l3.2-2.5l4.3-4.1l79.7 0l0 63.5l-159.3 0l0-63.5z"/>
<path fill="#000ecc" d="M35.2 182.6l21.2 0l0.2 16.4l6.3 0.2l12.7 1.1l4.8 0.2l6.3-0.3l4.8-0.8l4.7-1.4l4.8-2l4.7-2.7l3.2-2.3l4.8-4.2l3.8-4.2l77 0l0 63.5l-159.3 0l0-63.5z"/>
<path fill="#0011d1" d="M35.2 182.6l21.1 0l0.3 18.2l6.3 0.2l14.3 1.8l6.3 0.3l4.8-0.3l4.8-0.8l4.7-1.5l4.8-2.2l4.7-3l4.8-3.8l4.7-4.9l3.3-4l74.4 0l0 63.5l-159.3 0l0-63.5z"/>
<path fill="#0013d6" d="M35.2 182.6l21.1 0l0.3 19.9l3.2 0l3.1 0.3l14.3 2.5l4.8 0.5l3.1 0.1l3.2-0.1l3.2-0.4l4.7-1.1l4.8-1.9l4.7-2.6l4.8-3.5l4.7-4.5l3.2-3.6l4.1-5.6l72 0l0 63.5l-159.3 0l0-63.5z"/>
<path fill="#0015db" d="M35.2 182.6l21.1 0l0.3 21.5l3.2 0.1l3.1 0.4l3.2 0.6l12.7 3l4.7 0.6l3.2 0.2l3.2-0.1l3.2-0.4l4.7-1.2l4.8-2l4.7-2.9l4.8-3.7l4.7-4.9l4.8-6.1l3.3-5.1l69.6 0l0 63.5l-159.3 0l0-63.5z"/>
<path fill="#0119df" d="M35.2 182.6l21 0l0.4 23.1l3.2 0.1l3.1 0.5l3.5 0.9l12.4 3.9l4.7 1l4.8 0.4l3.2-0.1l3.1-0.4l4.8-1.3l4.7-2.2l4.8-3.1l4.8-4.1l4.7-5.2l2.4-3.2l2.4-3.4l3.9-6.9l67.4 0l0 63.5l-159.3 0l0-63.5z"/>
<path fill="#0220e1" d="M35.2 182.6l21 0l0.2 16.7l0.2 7.9l3.2 0.1l1.6 0.3l3.1 0.9l12.7 5.1l4.8 1.6l4.7 1.1l4.8 0.3l3.1-0.3l3.2-0.6l3.2-1.1l1.6-0.7l4.7-2.7l4.8-3.8l4.7-4.8l2.7-3.3l2.1-2.8l4.2-6.8l3.6-7.1l65.1 0l0 63.5l-159.3 0l0-63.5z"/>
<path fill="#0327e4" d="M35.2 182.6l21 0l0.1 16.7l0.3 9.2l1.6 0l1.6 0.2l1.6 0.4l3.1 1.2l3.4 1.7l9.3 5l3.2 1.5l3.1 1.3l4.8 1.3l3.2 0.3l1.6 0.1l3.1-0.3l1.6-0.3l1.6-0.4l3.2-1.2l3.1-1.7l3.2-2.2l4.8-4.1l4.7-5.4l2.6-3.5l2.2-3.2l2.8-4.7l1.9-3.8l3.6-8.1l63 0l0 63.5l-159.3 0l0-63.5z"/>
<path fill="#042de6" d="M35.2 182.6l21 0l0.1 18.3l0.3 8.9l1.6 0l1.6 0.3l1.6 0.5l2.8 1.4l2.5 1.6l12.1 8.5l3.2 1.9l3.1 1.6l3.2 1.3l1.6 0.5l3.2 0.5l1.5 0.1l1.6-0.1l3.2-0.5l1.6-0.6l3.1-1.4l1.6-1l3.2-2.3l3.2-2.9l3.1-3.3l4.8-6l3.2-4.7l2.5-4.3l3.8-7.7l2.1-5l2.1-5.6l60.8 0l0 63.5l-159.3 0l0-63.5z"/>
<path fill="#0534e8" d="M35.2 182.6l20.9 0l0.2 19.8l0.3 8.4l1.6 0l1.6 0.5l1.5 0.7l2.4 1.6l3.7 3.1l13 12.5l6.3 5.6l4.8 3.6l1.6 0.9l1.5 0.7l1.6 0.3l1.6-0.1l1.6-0.5l1.6-0.9l1.6-1.2l3.1-2.7l3.2-3.3l3.2-3.6l3.1-4l3.2-4.3l4.8-7.4l3.1-5.8l2.1-4.1l2.1-4.7l2.2-5.6l3-9.5l58.8 0l0 63.5l-159.3 0l0-63.5z"/>
<path fill="#073aea" d="M35.2 182.6l20.9 0l0.1 21.4l0.4 7.8l1.6 0l1.6 0.7l1.6 1.1l1.7 1.5l4.1 4.8l4.6 6.4l4.3 6.3l2.6 4.8l1.3 3.1l0.4 1.6l0.3 1.6l0.2 2.4l-45.7 0l0-63.5zM137.8 182.6l56.7 0l0 63.5l-80.5 0l0.3-4l1.3-4.7l2.8-6.4l7.9-15.9l4.2-9.5l3.8-10.3l1.7-5.6l1.8-7.1z"/>
<path fill="#0841ec" d="M35.2 182.6l20.9 0l0.1 21.4l0.3 8l0.1 0.3l1.6 0.3l1.5 1l1.5 1.5l2.2 3.2l3.6 6.4l3 6.3l1.8 4.8l1.3 4.7l0.4 3.2l0.1 2.4l-38.4 0l0-63.5zM139.8 182.6l54.7 0l0 63.5l-72 0l0.1-2.4l0.3-3.2l1.4-6.3l1.4-4.8l6.3-17.4l2.6-8l2.8-10.2l2.4-11.2z"/>
<path fill="#0948ef" d="M35.2 182.6l20.8 0l0.1 21.4l0.3 8l0.2 0.6l1.9 1l2.1 3.1l1.5 3.2l1.8 4.8l1.4 4.7l1.6 6.4l0.7 4.7l0.3 5.6l-32.7 0l0-63.5zM141.9 182.6l52.6 0l0 63.5l-65.2 0l0.2-4l0.3-3.1l1-6.4l1.5-6.3l3.5-13.7l2.5-10.2l1.9-9.5l1.7-10.3z"/>
<path fill="#0a4ef1" d="M35.2 182.6l20.8 0l0.1 21.4l0.1 8l0.4 0.9l1.2 0.7l0.7 1.5l1.1 3.2l1.3 4.8l0.8 4.7l0.7 6.4l0.3 6.3l0.1 5.6l-27.6 0l0-63.5zM143.9 182.6l50.6 0l0 63.5l-59.1 0l0.3-7.1l0.7-6.4l5.3-31.7l1.3-9.6l0.9-8.7z"/>
<path fill="#0b55f3" d="M35.2 182.6l20.8 0l0.1 29.4l0.5 1.3l0.5 0.3l0.8 3.1l0.5 3.2l0.3 4.8l0 4.7l-0.6 11.1l-0.2 5.6l-22.7 0l0-63.5zM145.9 182.6l48.6 0l0 63.5l-53.4 0l0.2-7.1l0.4-6.4l2.9-30.2l1.3-19.8z"/>
<path fill="#0c5bf4" d="M35.2 182.6l20.8 0l0 29.4l0.5 1.6l0.3 3.1l0 3.2l-0.3 3.2l-0.7 4.7l-2.6 12.7l-0.4 3.2l-0.1 2.4l-17.5 0l0-63.5zM147.9 182.6l46.6 0l0 63.5l-47.9 0l0.1-11.9l1-31.8l0.2-19.8z"/>
<path fill="#0c61f5" d="M35.2 182.6l20.7 0l0 31l-0.4 4.7l-0.6 3.2l-1.5 4.9l-1.6 4.1l-4.3 10l-0.9 3.2l-0.2 2.4l-11.2 0l0-63.5zM149.9 182.6l44.6 0l0 63.5l-42.5 0l-0.1-11.9l-0.4-14.3l-1.6-37.3z"/>
<path fill="#0c67f5" d="M35.2 182.6l20.7 0l-0.2 29.4l-0.5 1.6l-0.6 3.1l-1.2 3.7l-1.6 3.6l-1.5 2.9l-1.6 2.4l-3.2 4l-3.2 3.2l-1.6 1.3l-3.1 1.9l-1.6 0.4l-0.8 0l0-57.5zM151.9 182.6l42.6 0l0 63.5l-37.1 0l-0.2-8.7l-0.7-11.1l-4.6-43.7z"/>
<path fill="#0d6ef6" d="M35.2 182.6l20.7 0l-0.3 29.4l-0.6 1.4l-0.4 0.2l-1.2 3.4l-1.6 3l-1.5 2.5l-3.2 3.9l-1.6 1.5l-3.2 2.4l-3.1 1.6l-1.6 0.4l-1.6 0.2l-0.8 0l0-49.9zM153.9 182.6l40.6 0l0 63.5l-31.4 0l-0.4-8.7l-1.1-9.6l-1.3-7.9l-4.3-23.8l-2.1-13.5z"/>
<path fill="#0d74f6" d="M35.2 182.6l20.7 0l-0.3 26.2l-0.1 3.2l-0.5 1.1l-0.9 0.5l-0.7 1.4l-3.1 4.5l-1.6 1.8l-3.2 3l-1.6 1.1l-3.2 1.7l-3.1 0.9l-1.6 0.2l-0.8 0l0-45.6zM156 182.6l38.5 0l0 63.5l-25.5 0l-0.1-4l-0.4-4.7l-1.3-8l-1.9-7.9l-6.1-23.8l-3.2-15.1z"/>
<path fill="#0d7af7" d="M35.2 182.6l20.6 0l-0.2 24.6l-0.2 4.8l-0.4 0.8l-1.5 0.8l-3.2 3.7l-1.6 1.6l-1.6 1.3l-3.2 2.2l-3.2 1.6l-1.5 0.4l-3.2 0.5l-0.8 0l0-42.3zM158 182.6l36.5 0l0 63.5l-19 0l-0.1-4l-0.4-3.1l-0.5-3.2l-1.2-4.8l-2.4-7.9l-8.1-23.5l-2.5-8.3l-2.3-8.7z"/>
<path fill="#0d80f7" d="M35.2 182.6l20.6 0l-0.2 23l-0.2 4.8l-0.2 1.6l-0.2 0.5l-1.6 0.5l-1 0.6l-2.1 2l-3.2 2.5l-3.2 1.9l-1.6 0.8l-3.1 1l-3.2 0.5l-0.8 0l0-39.7zM160.1 182.6l34.4 0l0 63.5l-11.4 0l-0.2-4l-0.6-3.1l-0.8-3.2l-1-3.2l-2.5-6.3l-7.3-15.7l-4.2-9.7l-3.7-9.9l-2.7-8.4z"/>
<path fill="#0d86f8" d="M35.2 182.6l20.6 0l-0.3 23l-0.2 4.8l-0.3 1.8l-1.6 0.2l-1.6 0.7l-4.7 3.1l-3.2 1.7l-1.6 0.7l-3.1 0.9l-3.2 0.4l-0.8 0l0-37.3zM162.3 182.6l32.2 0l0 63.5l-1.3 0l-0.1-2.4l-0.7-3.2l-1.2-3.1l-2.3-4.8l-2.8-4.8l-9-14.3l-3.2-5.3l-3.2-5.9l-4.7-10.1l-3.7-9.6z"/>
<path fill="#0e8df8" d="M35.2 182.6l20.5 0l-0.2 21.4l-0.2 4.8l-0.3 3l-1.6 0l-1.6 0.5l-6.3 3.1l-3.2 1.3l-3.1 0.8l-3.2 0.4l-0.8 0l0-35.3zM164.4 182.6l30.1 0l0 43.5l-4.8-4.6l-4.7-5.2l-3.2-3.8l-4.7-6.4l-3.2-4.9l-3.2-5.4l-3.2-6.2l-3.1-7z"/>
<path fill="#0e93f9" d="M35.2 182.6l20.5 0l-0.2 19.8l-0.5 8.6l-1.6 0l-1.6 0.4l-7.9 3.1l-3.2 0.9l-3.1 0.5l-2.4 0.1l0-33.4zM166.7 182.6l27.8 0l0 34.8l-4.8-3.6l-3.1-2.9l-4.8-4.9l-3.2-3.9l-3.1-4.2l-3.2-4.9l-3.2-5.5l-2.4-4.9z"/>
<path fill="#0d99f9" d="M35.2 182.6l20.5 0l-0.2 18.3l-0.5 9.3l-1.6 0l-1.6 0.2l-7.9 2.5l-3.2 0.8l-3.1 0.5l-2.4 0.1l0-31.7zM169 182.6l25.5 0l0 28.4l-4.8-3.2l-3.1-2.6l-3.2-2.9l-3.2-3.4l-3.1-3.9l-3.2-4.3l-3.2-5.1l-1.7-3z"/>
<path fill="#0ca0f9" d="M35.2 182.6l20.5 0l-0.3 18.3l-0.4 8.4l-3.2 0.2l-11.1 2.7l-3.1 0.4l-2.4 0.1l0-30.1zM171.4 182.6l23.1 0l0 23.2l-3.2-1.9l-3.1-2.2l-3.2-2.6l-3.2-3.1l-4.7-5.4l-3.2-4.2l-2.5-3.8z"/>
<path fill="#0ba7f9" d="M35.2 182.6l20.4 0l-0.2 16.7l-0.4 9.1l-1.6 0l-3.1 0.4l-9.6 1.9l-3.1 0.3l-2.4 0.1l0-28.5zM173.9 182.6l20.6 0l0 18.8l-3.2-1.8l-3.1-2.1l-4.8-4l-4.8-4.9l-4.7-6z"/>
<path fill="#09aef9" d="M35.2 182.6l20.4 0l-0.2 15.1l-0.4 9.7l-4.7 0.3l-9.6 1.6l-5.5 0.3l0-27zM176.5 182.6l18 0l0 14.9l-4.8-2.7l-4.7-3.5l-4.8-4.5l-3.7-4.2z"/>
<path fill="#08b5f9" d="M35.2 182.6l20.4 0l-0.3 15.1l-0.3 8.7l-4.7 0.2l-9.6 1.3l-5.5 0.3l0-25.6zM179.3 182.6l15.2 0l0 11.5l-3.2-1.7l-4.7-3.2l-3.2-2.6l-4.1-4z"/>
<path fill="#07bcfa" d="M35.2 182.6l20.3 0l-0.2 13.5l-0.3 9.2l-4.7 0.2l-9.6 1.1l-5.5 0.2l0-24.2zM182.3 182.6l12.2 0l0 8.3l-3.2-1.6l-3.1-2l-3.2-2.4l-2.7-2.3z"/>
<path fill="#05c3fa" d="M35.2 182.6l20.3 0l-0.5 21.6l-4.7 0.2l-9.6 0.8l-5.5 0.2l0-22.8zM185.6 182.6l8.9 0l0 5.4l-4.8-2.6l-4.1-2.8z"/>
<path fill="#04cafa" d="M35.2 182.6l20.3 0l-0.5 20.5l-4.7 0.1l-9.6 0.7l-5.5 0.2l0-21.5zM189.4 182.6l5.1 0l0 2.7l-5.1-2.7z"/>
<path fill="#03d1fa" d="M35.2 182.6l20.3 0l-0.5 19.4l-4.7 0.1l-9.6 0.6l-5.5 0.1l0-20.2zM194 182.6l0.5 0l0 0.3l-0.5-0.3z"/>
<path fill="#01d7fa" d="M35.2 182.6l20.2 0l-0.4 18.2l-19.8 0.7l0-18.9z"/>
<path fill="#01defa" d="M35.2 182.6l20.2 0l-0.4 17.1l-19.8 0.5l0-17.6z"/>
<path fill="#10e0fa" d="M35.2 182.6l20.2 0l-0.4 15.9l-19.8 0.5l0-16.4z"/>
<path fill="#1fe2fa" d="M35.2 182.6l20.2 0l-0.4 14.7l-19.8 0.4l0-15.1z"/>
<path fill="#2ee3fb" d="M35.2 182.6l20.1 0l-0.3 13.6l-19.8 0.3l0-13.9z"/>
<path fill="#3de5fb" d="M35.2 182.6l20.1 0l-0.3 12.4l-19.8 0.2l0-12.6z"/>
<path fill="#4ce7fb" d="M35.2 182.6l20.1 0l-0.3 11.2l-19.8 0.2l0-11.4z"/>
<path fill="#5be9fb" d="M35.2 182.6l20 0l-0.2 10l-19.8 0.1l0-10.1z"/>
<path fill="#6aebfb" d="M35.2 182.6l20 0l-0.2 8.8l-19.8 0.1l0-8.9z"/>
<path fill="#79ecfc" d="M35.2 182.6l20 0l-0.2 7.6l-19.8 0.1l0-7.7z"/>
<path fill="#88eefc" d="M35.2 182.6l20 0l-0.2 6.4l-19.8 0.1l0-6.5z"/>
<path fill="#97f0fc" d="M35.2 182.6l19.9 0l-0.1 5.1l-19.8 0.1l0-5.2z"/>
<path fill="#a3f2fc" d="M35.2 182.6l19.9 0l-0.1 3.9l-19.8 0.1l0-4z"/>
<path fill="#b0f4fd" d="M35.2 182.6l19.9 0l-0.1 2.7l-19.8 0.1l0-2.8z"/>
<path fill="#bdf6fd" d="M35.2 182.6l19.8 0l0 1.5l-19.8 0.1l0-1.6z"/>
<path fill="#caf8fe" d="M35.2 182.6l19.8 0l0 0.3l-19 0.1l-0.8 0l0-0.4z"/>
<path fill="none" stroke="#d6dcc0" stroke-width="0.65" d="M56.6 182.6l0 1.3l15.8-0.2l6.4-0.4l4.8-0.7M56.5 182.6l0.1 5.5l7.9 0l11.1-0.2l7.9-0.8l4.8-1l3.2-0.9l3.1-1l3.7-1.6M56.5 182.6l0.1 9.7l15.8 0.2l4.8-0.1l4.8-0.4l4.7-0.7l4.8-1.1l4.7-1.6l3.2-1.5l3.2-1.7l4.3-2.8M56.4 182.6l0.2 13.8l6.3 0.2l14.3 0.6l4.8-0.1l4.7-0.5l4.8-1l4.7-1.5l4.8-2.1l4.7-2.8l4.8-3.6l3.2-3M56.3 182.6l0.3 17.8l6.3 0.3l12.7 1.5l6.4 0.4l3.1-0.1l3.2-0.3l4.8-0.8l4.7-1.5l4.8-2.3l4.7-2.9l4.8-3.9l3.1-3.1l4.4-5.1M56.3 182.6l0.3 21.5l3.2 0.1l3.1 0.4l3.2 0.6l12.7 3l4.7 0.6l3.2 0.2l3.2-0.1l3.2-0.4l4.7-1.2l4.8-2l4.7-2.9l4.8-3.7l4.7-4.9l4.8-6.1l3.3-5.1M56.2 182.6l0.2 16.7l0.2 8.1l3.2 0.2l1.6 0.3l3 0.9l4 1.6l8.8 3.9l4.8 1.7l4.7 1.1l4.8 0.4l3.1-0.2l3.2-0.7l1.6-0.4l3.2-1.3l1.5-0.8l3.2-1.9l4.8-3.8l4.7-4.8l4.8-6.2l2.9-4.5l1.8-3.2l3.5-7.1M56.1 182.6l0.2 19.8l0.3 7.8l1.6 0l1.6 0.4l3.1 1.4l2.5 1.6l2.1 1.5l11.3 9l3.2 2.2l3.1 2l3.2 1.6l3.2 1.1l3.1 0.5l1.6 0l1.6-0.1l3.2-0.9l3.1-1.6l1.6-1.1l1.6-1.1l3.2-2.8l3.2-3.2l3.1-3.8l3.2-4.2l2.6-3.9l2.2-3.7l2.3-4.2l2.4-5.2l1.6-3.7l3.4-9.4M56.1 182.6l0.1 21.4l0.3 8l0.1 0.1l1.6 0.2l1.6 0.8l0.6 0.5l1.5 1.5l3.5 4.8l3 4.8l3.5 6.3l1.5 3.2l1.2 3.2l1.3 4.7l0.3 4M119.4 246.1l0.1-2.4l0.4-3.2l1.1-4.7l2.2-6.4l6.3-15.3l3.7-10.1l3.4-11.1l2.4-10.3M56 182.6l0.1 21.4l0.2 8l0.3 0.9l1.3 0.7l1.5 3.1l1.1 3.2l1.2 4.8l0.9 4.7l0.7 6.4l0.4 4.7l0.1 5.6M134.2 246.1l0.4-7.1l0.7-6.4l1-6.3l4.5-23.9l1.5-9.5l1.2-10.3M56 182.6l0 29.4l0.5 1.6l0.3 3.1l0 3.2l-0.3 3.2l-0.7 4.7l-2.6 12.7l-0.4 3.2l-0.1 2.4M146.6 246.1l0.1-11.9l1-31.8l0.2-19.8M55.9 182.6l-0.2 29.4l-0.6 1.6l-0.7 3.1l-1 2.9l-1.6 3.4l-1.5 2.8l-1.6 2.4l-3.2 3.8l-3.2 2.9l-1.6 1.2l-1.5 0.9l-1.6 0.6l-1.6 0.3l-0.8 0M158.5 246.1l-0.2-8.7l-0.9-11.1l-5.1-43.7M55.8 182.6l-0.2 26.2l-0.2 3.2l-0.4 0.9l-1.2 0.7l-0.4 0.9l-3.1 4l-1.6 1.8l-3.2 2.7l-1.6 1.1l-3.2 1.7l-3.1 0.8l-2.4 0.2M171.5 246.1l-0.1-4l-0.3-3.1l-0.7-4.8l-1-4.8l-2.1-7.9l-6.5-22.2l-2-8l-2-8.7M55.8 182.6l-0.3 23l-0.2 4.8l-0.3 1.9l-1.6 0.4l-1.7 0.9l-4.6 3.3l-1.6 1l-3.2 1.5l-3.1 1l-1.6 0.3l-2.4 0.1M188.6 246.1l-0.1-2.4l-0.5-3.2l-0.9-3.1l-1.2-3.2l-3-6.4l-9-16.3l-4.8-9.5l-3.9-9.1l-3.8-10.3M55.7 182.6l-0.2 19.8l-0.2 4.8l-0.3 4l-1.6 0l-1.6 0.3l-7.9 3.3l-3.2 0.9l-3.1 0.6l-2.4 0.1M194.5 218.9l-3.2-2.4l-4.7-4.3l-4.8-5l-3.2-3.9l-3.1-4.4l-3.2-4.9l-3.2-5.5l-2.9-5.9M55.7 182.6l-0.3 18.3l-0.4 8.4l-3.2 0.2l-11.1 2.7l-3.1 0.4l-2.4 0.1M194.5 205.8l-3.2-1.9l-3.1-2.2l-3.2-2.6l-3.2-3.1l-4.7-5.4l-3.2-4.2l-2.5-3.8M55.6 182.6l-0.2 15.1l-0.4 9.5l-4.7 0.3l-9.6 1.5l-5.5 0.3M194.5 196.8l-4.8-2.7l-4.7-3.5l-4.8-4.5l-3.1-3.5M55.5 182.6l-0.2 13.5l-0.3 8.8l-4.7 0.1l-9.6 1l-5.5 0.3M194.5 189.7l-4.8-2.6l-3.1-2.1l-3-2.4M55.5 182.6l-0.5 19.8l-4.7 0.1l-9.6 0.7l-5.5 0.1M194.5 183.8l-2.5-1.2M55.4 182.6l-0.4 17.3l-19.8 0.6M55.4 182.6l-0.4 14.7l-19.8 0.4M55.3 182.6l-0.3 12.1l-19.8 0.3M55.2 182.6l-0.2 9.5l-19.8 0.2M55.2 182.6l-0.2 6.8l-19.8 0.2M55.1 182.6l-0.1 4.2l-19.8 0.1M55 182.6l0 1.5l-19.8 0.1M54.3 210.4l0.3 1.6l0.4 0.3l1.6 0l0.5-0.3l0.6-1.6l0.5-1l0.3-3.8l0.1-4.7l0.1-18.3M50.5 210.4l0.5 1.6l0.8 1.6l1.6 1.4l1.6 0.7l1.6 0.1l1.6-0.4l0.5-0.3l1.1-0.6l1-0.9l1.1-1.6l0.7-1.6l1.1-3.2l0.6-3.2l0.4-3.1l0.5-8l0-10.3M46.1 210.4l1.1 3.2l0.8 1.5l1.1 1.6l1.2 1.2l1.5 1.2l1.6 0.8l1.6 0.5l1.6 0.2l1.6 0l1.6-0.2l1.6-0.5l1.5-0.8l1.3-0.8l1.9-1.6l1.6-1.7l1.9-3l1.3-3.2l1.2-4.8l0.6-4.7l0.2-4.8l-0.4-11.9M40.8 210.4l0.6 3.2l0.9 3.1l1.3 3.2l0.8 1.6l1.1 1.6l1.6 1.8l1.6 1.4l1.6 1.1l1.5 0.9l1.6 0.6l3.2 0.7l1.6 0.2l3.2-0.1l3.1-0.5l1.6-0.5l3.2-1.4l1.8-1l2.1-1.6l1.6-1.6l2.4-3.2l0.9-1.6l1.4-3.2l1.2-4.7l0.7-4.8l0.1-6.3l-0.4-6.4l-1.1-10.3M194.5 246.1l-96.7 0l-0.9-0.8l-0.2-7.9l-0.5-8l-0.7-7.9l-1.1-7.9l-2.5-12.7l-4.4-18.3M194.5 203.9l-1.6 1.3l-2.3 3.6l-2.4 3l-1.7 1.8l-3.1 2.7l-1.6 1.2l-3.2 2l-3.1 1.7l-3.2 1.3l-3.2 1l-4.7 1.2l-4.8 0.9l-4.7 0.4l-4.8 0.2l-4.7-0.1l-4.8-0.4l-4.8-0.8l-3.1-0.7l-3.2-0.9l-3.2-1.2l-3.1-1.5l-3.2-1.8l-3.2-2.3l-3.1-2.9l-1.6-1.6l-3.9-4.8l-4.1-6.4l-2.5-4.7l-2.2-4.4l-4-9.1M192.5 182.6l-2.3 4l-2 3.1l-3.7 4.8l-2.7 2.8l-2.1 2l-2.6 2.1l-3.2 2.1l-4.8 2.5l-3.1 1.2l-3.2 1.1l-3.2 0.8l-3.1 0.5l-3.2 0.4l-4.8 0.2l-6.3-0.5l-3.2-0.5l-3.2-0.8l-3.1-0.9l-3.2-1.3l-3.2-1.5l-3.1-1.8l-4.8-3.4l-4.7-4.4l-4.8-5.4l-3.2-4.4l-1.7-2.7M182.3 182.6l-3.7 3.7l-3.1 2.6l-3.2 2.1l-4.8 2.6l-4.7 1.9l-4.8 1.3l-4.7 0.8l-4.8 0.2l-4.7-0.2l-4.8-0.8l-4.7-1.2l-4.8-1.9l-3.2-1.5l-4.7-3l-4.8-3.7l-3-2.9M169.2 182.6l-4.8 2.3l-4.8 1.6l-4.7 1l-3.2 0.4l-3.2 0.2l-3.1-0.1l-3.2-0.3l-4.8-0.9l-4.7-1.5l-3.2-1.3l-2.8-1.4"/>
</g>
<g clip-path="url(#cp0)"><path fill="none" stroke="#dfe2dc" stroke-width="1.0" stroke-dasharray="1.0 1.4" d="M58.2 185l34.9 0.1l23.7-0.5l20.6-0.8l38.1-2.1l17.4-0.8"/></g>
<path fill="none" stroke="#4a4a4a" stroke-width="1.2" stroke-dasharray="1.2 1.2" d="M36 177.3l17.4 0"/>
<path fill="none" stroke="#dfb35a" stroke-width="0.8" d="M38.1 182.6L38 177.2M38.1 189.8L38 184.5M38.1 197.1L38 191.9M38.1 204.3L37.9 199.5M38.1 211.6L37.8 207.9M38.1 218.8L37.8 216.6M38.1 226L37.8 224.8M38.1 233.3L37.9 232.5M45.7 182.6L45.6 177.2M45.7 189.8L45.6 184.4M45.7 197.1L45.5 191.6M45.7 204.3L45.2 198.9M45.7 211.6L44.2 206.9M45.7 218.8L44.1 216.2M45.7 226L44.8 225M45.7 233.3L45 232.6M45.7 240.5L45.1 240.3M53.3 218.8L48.8 216.9M53.3 226L51.8 225.5M53.3 233.3L52.2 233M53.3 240.5L52.5 240.4"/><path fill="#dfb35a" d="M38 174.4L39.4 177.2L36.7 177.2zM38 181.7L39.4 184.5L36.7 184.5zM38 189.1L39.3 191.9L36.6 191.9zM37.8 196.7L39.3 199.5L36.6 199.5zM37.6 205.1L39.1 207.8L36.4 208zM37.5 213.8L39.1 216.4L36.4 216.7zM37.5 222.9L38.7 224.6L36.9 224.9zM37.6 231.4L38.4 232.4L37.3 232.6zM45.6 174.4L47 177.2L44.3 177.2zM45.6 181.6L47 184.4L44.3 184.4zM45.4 188.8L46.8 191.6L44.1 191.7zM44.9 196.1L46.5 198.8L43.8 199zM43.4 204.2L45.5 206.5L42.9 207.3zM42.7 213.8L45.3 215.5L43 216.9zM43.4 223.4L45.5 224.3L44 225.6zM44 231.7L45.4 232.2L44.5 233.1zM44.4 239.9L45.3 239.9L45 240.7zM46.3 215.8L49.4 215.6L48.3 218.1zM49.6 224.7L52.2 224.5L51.4 226.6zM50.7 232.5L52.5 232.2L52 233.7zM51.3 240.2L52.6 239.8L52.4 241z"/>
<path fill="none" stroke="#dfb35a" stroke-width="0.8" d="M63.1 182.6L63.1 188.6M63.1 189.8L63.1 195.8M63.1 197.1L62.8 203.1M63.1 204.3L62.2 210.7M63.1 211.6L59.5 217.8M63.1 218.8L57.8 222M63.1 226L59 227M63.1 233.3L59.9 233.7M63.1 240.5L60.6 240.6M72.6 182.6L72.9 188.5M72.6 189.8L72.7 195.6M72.6 197.1L72.3 202.6M72.6 204.3L71.7 209.5M72.6 211.6L70.6 216M72.6 218.8L70.1 222.1M72.6 226L70 227.9M72.6 233.3L70.3 234.3M72.6 240.5L70.7 240.9M82.1 182.6L83 188.4M82.1 189.8L82.8 195.2M82.1 197.1L82.4 202M82.1 204.3L82 208.8M82.1 211.6L81.4 215.3M82.1 218.8L81 221.7M82.1 226L80.9 227.9M82.1 233.3L80.9 234.5M82.1 240.5L80.7 241M91.6 182.6L93.3 188.1M91.6 189.8L93.1 194.9M91.6 197.1L92.7 201.5M91.6 204.3L92.3 208.2M91.6 211.6L91.9 214.7M91.6 218.8L91.6 221.3M91.6 226L91.4 227.8M91.6 233.3L91.2 234.6M91.6 240.5L91 241.2M101.1 182.6L103.8 187.6M101.1 189.8L103.5 194.3M101.1 197.1L103 201M101.1 204.3L102.7 207.7M101.1 211.6L102.3 214.3M101.1 218.8L101.9 220.9M101.1 226L101.7 227.6M101.1 233.3L101.7 234.5M101.1 240.5L101.7 241.2M110.6 182.6L114.3 186.9M110.6 189.8L113.9 193.7M110.6 197.1L113.3 200.3M110.6 204.3L112.9 207.1M110.6 211.6L112.5 213.8M110.6 218.8L112.1 220.5M110.6 226L111.9 227.3M110.6 233.3L111.9 234.2M110.6 240.5L111.9 240.9M120.2 182.6L124.7 186M120.2 189.8L124.1 192.8M120.2 197.1L123.5 199.6M120.2 204.3L123.1 206.5M120.2 211.6L122.6 213.3M120.2 218.8L122.2 220.2M120.2 226L121.8 226.9M120.2 233.3L121.8 233.9M120.2 240.5L121.7 240.8M129.7 182.6L134.8 185M129.7 189.8L134.2 191.9M129.7 197.1L133.6 198.8M129.7 204.3L133.1 205.8M129.7 211.6L132.5 212.7M129.7 218.8L132.2 219.7M129.7 226L131.8 226.7M129.7 233.3L131.6 233.7M129.7 240.5L131.5 240.7M139.2 182.6L144.7 183.8M139.2 189.8L144.1 190.9M139.2 197.1L143.4 198M139.2 204.3L142.9 205.1M139.2 211.6L142.3 212.2M139.2 218.8L142 219.3M139.2 226L141.6 226.4M139.2 233.3L141.4 233.5M139.2 240.5L141.2 240.6M148.7 182.6L154.3 182.5M148.7 189.8L153.7 189.8M148.7 197.1L153 197.1M148.7 204.3L152.5 204.3M148.7 211.6L151.9 211.6M148.7 218.8L151.6 218.8M148.7 226L151.2 226.1M148.7 233.3L151 233.3M148.7 240.5L150.8 240.5M158.2 182.6L163.6 181.3M158.2 189.8L163 188.7M158.2 197.1L162.3 196.2M158.2 204.3L161.8 203.6M158.2 211.6L161.3 211M158.2 218.8L161 218.4M158.2 226L160.6 225.8M158.2 233.3L160.4 233.1M158.2 240.5L160.3 240.4M167.7 182.6L172.6 180.1M167.7 189.8L172.1 187.7M167.7 197.1L171.4 195.4M167.7 204.3L171 202.9M167.7 211.6L170.5 210.5M167.7 218.8L170.2 218M167.7 226L169.9 225.5M167.7 233.3L169.7 232.9M167.7 240.5L169.6 240.4M177.2 182.6L181.4 179.1M177.2 189.8L180.9 186.9M177.2 197.1L180.4 194.7M177.2 204.3L180 202.3M177.2 211.6L179.6 210.1M177.2 218.8L179.3 217.7M177.2 226L179 225.3M177.2 233.3L178.9 232.8M177.2 240.5L178.9 240.3M186.7 182.6L189.9 178.3M186.7 189.8L189.5 186.2M186.7 197.1L189.1 194.1M186.7 204.3L188.8 201.9M186.7 211.6L188.5 209.7M186.7 218.8L188.3 217.4M186.7 226L188.1 225.1M186.7 233.3L188.2 232.6M186.7 240.5L188.2 240.2"/><path fill="#dfb35a" d="M63.1 191.4L61.8 188.6L64.5 188.6zM63 198.6L61.7 195.8L64.4 195.8zM62.6 205.9L61.4 203.1L64.1 203.2zM61.8 213.4L60.8 210.5L63.5 210.9zM58.1 220.3L58.3 217.2L60.6 218.5zM55.4 223.4L57.1 220.8L58.5 223.1zM56.3 227.7L58.7 225.7L59.4 228.3zM57.1 234L59.8 232.3L60.1 235zM57.8 240.7L60.5 239.3L60.6 242zM73 191.3L71.5 188.6L74.2 188.5zM72.8 198.4L71.4 195.6L74.1 195.5zM72.2 205.3L71 202.5L73.7 202.6zM71.2 212.3L70.4 209.3L73 209.8zM69.5 218.6L69.4 215.4L71.9 216.5zM68.4 224.3L69 221.3L71.1 222.9zM67.8 229.6L69.2 226.9L70.9 229zM67.8 235.5L69.8 233.1L70.9 235.6zM67.9 241.4L70.4 239.6L70.9 242.2zM83.4 191.2L81.6 188.6L84.3 188.2zM83.1 198L81.4 195.4L84.1 195.1zM82.5 204.8L81 202.1L83.7 201.9zM81.9 211.6L80.6 208.7L83.3 208.8zM80.8 218L80.1 215L82.7 215.5zM80.1 224.4L79.8 221.3L82.3 222.2zM79.4 230.3L79.8 227.2L82 228.6zM79 236.3L80 233.6L81.7 235.4zM78.6 241.8L80.3 240L81.1 242.1zM94.2 190.8L92.1 188.5L94.6 187.7zM93.9 197.5L91.8 195.2L94.4 194.5zM93.3 204.2L91.4 201.8L94 201.2zM92.8 211L91 208.5L93.7 208zM92.1 217.5L90.5 214.8L93.2 214.6zM91.6 224.1L90.3 221.3L93 221.3zM91 230.4L90.1 227.6L92.6 227.9zM90.6 236.7L90.2 234.3L92.2 234.9zM89.9 242.3L90.4 240.8L91.5 241.7zM105.2 190.1L102.6 188.3L105 187zM104.8 196.8L102.3 195L104.7 193.7zM104.3 203.5L101.8 201.6L104.3 200.4zM103.8 210.2L101.5 208.3L103.9 207.1zM103.3 216.8L101 214.8L103.5 213.7zM102.9 223.5L100.7 221.4L103.2 220.4zM102.6 229.9L100.6 228L102.8 227.2zM102.4 236.4L100.8 234.9L102.6 234.1zM102.6 242.3L101.2 241.6L102.2 240.8zM116.1 189.1L113.3 187.8L115.3 186.1zM115.7 195.8L112.8 194.5L114.9 192.8zM115.1 202.5L112.3 201.2L114.4 199.5zM114.7 209.3L111.9 208L114 206.3zM114.3 215.9L111.4 214.6L113.5 212.9zM114 222.7L111.1 221.4L113.2 219.6zM113.7 229.1L111 228.2L112.8 226.4zM113.7 235.6L111.2 235.1L112.5 233.3zM113.7 241.6L111.6 241.8L112.2 240zM126.9 187.7L123.9 187.1L125.5 185zM126.4 194.5L123.3 193.9L125 191.8zM125.8 201.3L122.7 200.7L124.3 198.5zM125.3 208.2L122.3 207.6L123.9 205.4zM124.9 214.9L121.8 214.4L123.4 212.2zM124.6 221.7L121.5 221.3L123 219zM124.3 228.3L121.2 228.1L122.5 225.8zM124.2 234.9L121.3 235.1L122.2 232.7zM124.1 241.2L121.5 241.9L122 239.6zM137.4 186.1L134.3 186.2L135.4 183.7zM136.8 193.1L133.7 193.1L134.8 190.7zM136.1 200L133 200L134.1 197.6zM135.6 206.9L132.5 207L133.6 204.6zM135.1 213.8L132 214L133.1 211.5zM134.8 220.7L131.7 221L132.6 218.5zM134.5 227.5L131.4 228L132.2 225.4zM134.3 234.3L131.3 235L131.9 232.4zM134.2 240.9L131.4 242L131.6 239.4zM147.5 184.3L144.4 185.1L145 182.4zM146.8 191.4L143.8 192.2L144.4 189.5zM146.1 198.5L143.1 199.3L143.6 196.6zM145.6 205.6L142.6 206.4L143.1 203.8zM145.1 212.7L142.1 213.5L142.6 210.8zM144.7 219.8L141.7 220.6L142.2 218zM144.4 226.8L141.4 227.7L141.8 225zM144.2 233.8L141.2 234.8L141.5 232.2zM144 240.7L141.2 242L141.3 239.3zM157.1 182.5L154.3 183.9L154.3 181.2zM156.5 189.8L153.7 191.1L153.7 188.4zM155.8 197.1L153 198.4L153 195.7zM155.3 204.3L152.4 205.7L152.5 203zM154.7 211.6L151.9 212.9L151.9 210.2zM154.4 218.9L151.5 220.2L151.6 217.5zM154 226.1L151.2 227.4L151.2 224.7zM153.8 233.3L151 234.6L151 231.9zM153.6 240.5L150.8 241.9L150.9 239.2zM166.3 180.6L163.9 182.6L163.3 180zM165.7 188.1L163.3 190.1L162.7 187.4zM165.1 195.6L162.6 197.5L162 194.9zM164.6 203.1L162.1 204.9L161.6 202.3zM164.1 210.6L161.5 212.4L161.1 209.7zM163.7 218L161.2 219.7L160.8 217.1zM163.4 225.5L160.8 227.1L160.5 224.4zM163.2 232.9L160.5 234.4L160.3 231.8zM163.1 240.4L160.3 241.8L160.3 239.1zM175.1 178.9L173.2 181.3L172 178.9zM174.6 186.5L172.7 189L171.5 186.5zM174 194.2L172 196.6L170.9 194.2zM173.6 201.9L171.5 204.2L170.5 201.7zM173.2 209.5L171 211.8L170.1 209.2zM172.9 217.1L170.6 219.3L169.8 216.7zM172.6 224.8L170.2 226.8L169.6 224.2zM172.5 232.5L169.9 234.3L169.5 231.6zM172.4 240.2L169.7 241.7L169.5 239zM183.5 177.3L182.2 180.1L180.5 178.1zM183.1 185.1L181.7 187.9L180 185.8zM182.6 193L181.2 195.8L179.6 193.6zM182.3 200.7L180.8 203.4L179.2 201.2zM182 208.6L180.3 211.2L178.9 208.9zM181.8 216.3L179.9 218.8L178.6 216.5zM181.6 224.2L179.5 226.5L178.5 224zM181.5 232L179.3 234L178.6 231.5zM181.4 240L179.1 241.5L178.8 239.1zM191.5 176L191 179.1L188.8 177.5zM191.2 183.9L190.6 187L188.4 185.3zM190.9 191.9L190.2 195L188.1 193.3zM190.6 199.8L189.8 202.8L187.8 201zM190.4 207.7L189.5 210.7L187.5 208.8zM190.3 215.6L189.2 218.4L187.4 216.4zM190.3 223.6L188.9 226.1L187.4 224zM190.3 231.5L188.7 233.6L187.7 231.5zM190.3 239.8L188.4 241.3L188 239.2z"/>
<rect x="54.2" y="138.2" width="3.2" height="75.6" fill="#fff" stroke="none"/>
<path fill="none" stroke="#4a4a4a" stroke-width="0.9" d="M35.2 182.6V138.2H57.4V213.7H54.2V138.2"/>
<rect x="35.2" y="135.9" width="158.5" height="116.2" fill="none" stroke="#b4b4b4" stroke-width="0.8"/>
<path stroke="#b4b4b4" stroke-width="0.8" fill="none" d="M35.2 252.1v-2M35.2 135.9v2M66.9 252.1v-2M66.9 135.9v2M98.6 252.1v-2M98.6 135.9v2M130.3 252.1v-2M130.3 135.9v2M162 252.1v-2M162 135.9v2M35.2 144.5h2M193.7 144.5h-2M35.2 157.2h2M193.7 157.2h-2M35.2 169.9h2M193.7 169.9h-2M35.2 182.6h2M193.7 182.6h-2M35.2 195.3h2M193.7 195.3h-2M35.2 208h2M193.7 208h-2M35.2 220.7h2M193.7 220.7h-2M35.2 233.4h2M193.7 233.4h-2M35.2 246.1h2M193.7 246.1h-2"/>
<text x="35.2" y="261.9" font-size="9" text-anchor="middle" fill="#262626">0</text>
<text x="66.9" y="261.9" font-size="9" text-anchor="middle" fill="#262626">5</text>
<text x="98.6" y="261.9" font-size="9" text-anchor="middle" fill="#262626">10</text>
<text x="130.3" y="261.9" font-size="9" text-anchor="middle" fill="#262626">15</text>
<text x="162" y="261.9" font-size="9" text-anchor="middle" fill="#262626">20</text>
<text x="114.4" y="271.7" font-size="9" text-anchor="middle" font-weight="bold" fill="#222">x [m]</text>
<text x="169" y="146.9" font-size="9" text-anchor="start" fill="#222" textLength="16.6" lengthAdjust="spacingAndGlyphs">t=0s</text>
<text x="32.2" y="160.8" font-size="9" text-anchor="end" fill="#262626">4</text>
<text x="32.2" y="186.2" font-size="9" text-anchor="end" fill="#262626">0</text>
<text x="32.2" y="211.6" font-size="9" text-anchor="end" fill="#262626">-4</text>
<text x="32.2" y="237" font-size="9" text-anchor="end" fill="#262626">-8</text>
<text transform="translate(19.8 194.7) rotate(-90)" font-size="9" text-anchor="middle" font-weight="bold" fill="#222">z [m]</text>
<path fill="none" stroke="#4a4a4a" stroke-width="1.2" stroke-dasharray="1.2 1.2" d="M198.6 174.3l17.4 0"/>
<path fill="none" stroke="#5a5a5a" stroke-width="1.2" stroke-dasharray="1.2 1.2" d="M220.8 187.4l19 0l11.1-0.2l11.1-0.3l11.1-0.6l19-1.5l44.4-4.5l9.5-0.7l9.5-0.6"/>
<g clip-path="url(#cp1)">
<rect x="196.8" y="181.6" width="161.3" height="65.5" fill="#0119df"/>
<path fill="#0220e1" d="M217.7 182.6l139.4 0l0 63.5l-159.3 0l0-61.4l19.8 0l0.1-2.1z"/>
<path fill="#0327e4" d="M217.8 182.6l139.3 0l0 63.5l-159.3 0l0-55.5l19.8-0.1l0.2-7.9z"/>
<path fill="#042de6" d="M218 182.6l139.1 0l0 63.5l-159.3 0l0-49.5l19.8-0.3l0.4-13.7z"/>
<path fill="#0534e8" d="M218.2 182.6l138.9 0l0 63.5l-159.3 0l0-43.3l19.8-0.8l0.6-19.4z"/>
<path fill="#073aea" d="M218.4 182.6l138.7 0l0 63.5l-159.3 0l0-36.8l5.5-0.3l9.6-1.5l4.7-0.2l0.5-9.6l0.3-15.1z"/>
<path fill="#0841ec" d="M218.5 182.6l138.6 0l0 63.5l-159.3 0l0-29.1l4-0.3l3.1-0.8l3.2-1.1l6.3-2.8l1.6-0.4l1.6 0l0.3-2.8l0.2-4.8l0.4-21.4z"/>
<path fill="#0948ef" d="M218.7 182.6l138.4 0l0 63.5l-159.3 0l0-17.3l2.4-0.2l3.1-0.9l3.2-1.6l3.2-2.3l3.2-3.2l1.5-2l1.6-2.4l1.1-2.6l0.5-0.3l0.6-1.3l0.3-8l0.2-21.4z"/>
<path fill="#0a4ef1" d="M218.9 182.6l138.2 0l0 63.5l-139.3 0l0.1-2.4l0.3-3.2l3-14.2l0.5-3.2l0.1-3.2l-0.3-3.2l-0.3-1.6l-0.7-1.5l-1.3-0.8l-0.3-0.8l-0.1-8l0.1-21.4z"/>
<path fill="#0b55f3" d="M219.1 182.6l138 0l0 63.5l-120.9 0l-0.3-8.7l-0.7-8l-1.3-6.3l-0.9-3.2l-1.2-3.2l-1.8-3.1l-1.1-1.6l-1.8-1.9l-1.6-1.2l-1.5-0.9l-1.6-0.6l-1.6-0.2l-1.6 0l-0.1-24.6z"/>
<path fill="#0c5bf4" d="M231.7 182.6l125.4 0l0 63.5l-101 0l-0.2-5.6l-1-6.3l-1.5-6.4l-2.1-6.3l-2.7-6.4l-3.3-6.3l-3.9-6.5l-6.1-9.4l-1.7-3.2l-1.3-3.1l-0.4-1.6l-0.2-2.4z"/>
<path fill="#0c61f5" d="M251.9 182.6l104.5 0l-3.5 10.3l-3.7 8.9l-4.8 9.8l-8.6 16.2l-2.9 6.4l-1.2 3.2l-0.8 3.1l-0.5 3.2l-0.1 2.4l-41.9 0l-0.3-4l-0.8-3.1l-1.3-3.2l-2.4-4.8l-1.9-3.2l-3.2-4.7l-13.3-18.1l-5.1-7.3l-2.9-4.5l-2-3.5l-1.6-3.1l-1.7-4z"/>
<path fill="#0c67f5" d="M268.6 182.6l73.3 0l-3.8 4.7l-4.8 4.8l-3.2 2.6l-4.7 3.3l-4.8 2.5l-4.7 1.7l-4.8 1.1l-4.7 0.3l-4.8-0.4l-4.7-1l-4.8-1.6l-4.7-2.3l-4.8-2.9l-4.8-3.6l-4.7-4.3l-4.5-4.9z"/>
<path fill="#0d6ef6" d="M292 182.6l27.6 0l-3.7 1.2l-3.2 0.7l-3.2 0.5l-3.1 0.1l-3.2-0.1l-4.8-0.6l-3.1-0.7l-3.3-1.1z"/>
<path fill="none" stroke="#d6dcc0" stroke-width="0.65" d="M197.8 185.9l19.8-0.1l0.1-3.2M197.8 192.4l19.8-0.1l0.3-9.7M197.8 199l19.8-0.4l0.5-16M197.8 205.9l5.5-0.2l9.6-0.9l4.7-0.1l0.4-8.6l0.3-13.5M197.8 213.7l2.4-0.1l3.1-0.4l3.2-0.7l7.4-2.1l2.1-0.4l1.6 0l0.5-9.1l0.4-18.3M197.8 224.3l2.4-0.1l1.6-0.3l1.5-0.5l3.2-1.3l1.6-1l3.2-2.3l3.1-3l1.6-1.8l0.3-0.4l1.3-0.7l0.4-0.9l0.3-4.8l0.4-24.6M213.3 246.1l0.1-2.4l0.6-3.2l0.9-3.1l3.9-11.1l0.8-3.2l0.6-3.2l0.1-3.2l-0.2-1.6l-0.3-1.5l-0.6-0.4l-0.4-1.2l0.1-29.4M234.4 246.1l-0.2-8.7l-0.6-8l-1.1-6.3l-1.4-4.8l-1.5-3.2l-1-1.5l-1.2-1.6l-1.7-1.6l-1.7-1.2l-1.6-0.6l-1.6-0.4l-1.6 0l-0.2-8.9l0-16.7M256.1 246.1l-0.2-5.6l-1-6.3l-1.5-6.4l-2.1-6.3l-2.7-6.4l-3.3-6.3l-3.9-6.5l-6.1-9.4l-1.7-3.2l-1.3-3.1l-0.4-1.6l-0.2-2.4M355.1 182.6l-2.1 5.6l-2.2 5.5l-3.2 6.8l-3.2 6l-4.7 8.1l-10.8 16.4l-2.8 4.8l-1.5 3.2l-0.6 1.5l-0.8 3.2l-0.1 2.4M295.2 246.1l-0.2-2.4l-0.9-3.2l-1.4-3.1l-1.9-3.2l-2.2-3.2l-3.6-4.7l-13.5-16.4l-7.9-10.3l-3.2-4.6l-3.2-5.1l-1.8-3.3l-1.8-4M338.6 182.6l-3.7 3.8l-4.8 4l-4.7 3.2l-3.2 1.7l-3.1 1.4l-4.8 1.4l-3.2 0.6l-4.7 0.4l-4.8-0.3l-3.2-0.6l-4.7-1.4l-4.8-1.9l-4.7-2.6l-4.8-3.3l-3.1-2.6l-4-3.8M335.9 182.6l2.2 2.1l3.1 2.7l4.8 3.2l3.2 1.7l3.1 1.4l3.2 1.1l1.6 0.3M307.1 182.6l1.4 37.3l0.4 17.5l0.1 7.9l-1 0.8l-109.4 0l-0.8-0.8l0-34.9M279.1 182.6l-3.3 4l-4.3 4.4l-4.8 4.2l-4.7 3.5l-6.3 4.1l-7.6 4.4l-14.3 7.9l-5.1 2.4l-3.2 1.1l-3.1 0.6l-3.2-0.1l-1.6-0.4l-1.6-0.6l-1.6-1.1l-1.5-1.6l-1.2-1.8l-1.1-3.2"/>
</g>
<g clip-path="url(#cp1)"><path fill="none" stroke="#dfe2dc" stroke-width="1.0" stroke-dasharray="1.0 1.4" d="M220.8 187.4l19 0l11.1-0.2l11.1-0.3l11.1-0.6l19-1.5l44.4-4.5l9.5-0.7l9.5-0.6"/></g>
<path fill="none" stroke="#4a4a4a" stroke-width="1.2" stroke-dasharray="1.2 1.2" d="M198.6 174.3l17.4 0"/>
<path fill="none" stroke="#dfb35a" stroke-width="0.8" d="M200.7 182.6L200.7 188M200.7 189.8L200.7 195.2M200.7 197.1L200.7 202.3M200.7 204.3L200.8 209.2M200.7 211.6L200.9 215.3M200.7 218.8L200.9 221.2M200.7 226L200.9 227.4M200.7 233.3L200.8 234.1M208.3 182.6L208.3 188M208.3 189.8L208.3 195.3M208.3 197.1L208.4 202.5M208.3 204.3L208.7 209.7M208.3 211.6L209.6 216.3M208.3 218.8L209.8 221.6M208.3 226L209.2 227.2M208.3 233.3L209 234M208.3 240.5L208.8 240.8M215.9 218.8L220 221M215.9 226L217.4 226.7M215.9 233.3L217 233.7M215.9 240.5L216.8 240.7"/><path fill="#dfb35a" d="M200.7 190.8L199.3 188L202 188zM200.7 198L199.3 195.2L202 195.2zM200.7 205.1L199.4 202.3L202.1 202.3zM200.9 212L199.4 209.2L202.1 209.1zM201.1 218.1L199.6 215.4L202.3 215.3zM201.2 224L199.6 221.3L202.3 221zM201.2 229.3L199.9 227.5L201.8 227.2zM201.1 235.3L200.2 234.2L201.4 234zM208.3 190.8L206.9 188L209.6 188zM208.3 198.1L207 195.3L209.7 195.3zM208.5 205.3L207.1 202.6L209.8 202.5zM208.9 212.5L207.4 209.9L210.1 209.6zM210.4 218.9L208.3 216.6L210.9 215.9zM211.1 224L208.6 222.2L210.9 220.9zM210.5 229L208.3 227.9L210 226.6zM210 235.1L208.5 234.5L209.5 233.5zM209.7 241.2L208.6 241.2L209 240.4zM222.5 222.3L219.4 222.2L220.6 219.8zM219.6 227.8L216.8 227.8L217.9 225.7zM218.7 234.4L216.7 234.5L217.3 232.9zM218.1 241L216.7 241.3L216.9 240z"/>
<path fill="none" stroke="#dfb35a" stroke-width="0.8" d="M225.7 182.6L227.2 182.8M225.7 189.8L226.9 188.5M225.7 197.1L227.2 193.9M225.7 204.3L227.9 199.6M225.7 211.6L231.2 205.9M225.7 218.8L233.3 216.6M225.7 226L232.1 226M225.7 233.3L231.2 233.6M225.7 240.5L230.6 240.7M235.2 182.6L238.7 182.3M235.2 189.8L238.3 188.4M235.2 197.1L238.4 194.6M235.2 204.3L238.9 201.2M235.2 211.6L240 208.6M235.2 218.8L240.6 216.6M235.2 226L240.6 225M235.2 233.3L240.3 232.8M235.2 240.5L240.1 240.4M244.7 182.6L249.3 181.4M244.7 189.8L248.9 188.1M244.7 197.1L248.7 194.8M244.7 204.3L248.8 201.9M244.7 211.6L249 209.3M244.7 218.8L249.3 216.9M244.7 226L249.3 224.8M244.7 233.3L249.3 232.5M244.7 240.5L249.2 240.2M254.2 182.6L259.2 180.4M254.2 189.8L258.7 187.5M254.2 197.1L258.3 194.7M254.2 204.3L258.2 202M254.2 211.6L258.2 209.4M254.2 218.8L258.2 217M254.2 226L258.2 224.7M254.2 233.3L258.2 232.4M254.2 240.5L258.2 240.2M263.7 182.6L268.6 179.3M263.7 189.8L268.1 186.8M263.7 197.1L267.6 194.2M263.7 204.3L267.4 201.7M263.7 211.6L267.3 209.3M263.7 218.8L267.2 216.9M263.7 226L267.2 224.7M263.7 233.3L267.1 232.4M263.7 240.5L267.1 240.1M273.2 182.6L277.5 178.3M273.2 189.8L277 186M273.2 197.1L276.6 193.7M273.2 204.3L276.4 201.4M273.2 211.6L276.2 209.1M273.2 218.8L276.1 216.8M273.2 226L276 224.6M273.2 233.3L276 232.3M273.2 240.5L275.9 240.1M282.8 182.6L286 177.5M282.8 189.8L285.7 185.4M282.8 197.1L285.4 193.3M282.8 204.3L285.2 201M282.8 211.6L285 208.9M282.8 218.8L284.9 216.7M282.8 226L284.8 224.6M282.8 233.3L284.7 232.3M282.8 240.5L284.6 240.1M292.3 182.6L294.3 176.9M292.3 189.8L294.1 184.9M292.3 197.1L293.9 192.9M292.3 204.3L293.8 200.8M292.3 211.6L293.7 208.8M292.3 218.8L293.6 216.6M292.3 226L293.5 224.6M292.3 233.3L293.6 232.2M292.3 240.5L293.7 240M301.8 182.6L302.4 176.6M301.8 189.8L302.4 184.6M301.8 197.1L302.3 192.8M301.8 204.3L302.3 200.7M301.8 211.6L302.3 208.8M301.8 218.8L302.3 216.7M301.8 226L302.3 224.5M301.8 233.3L302.4 232M301.8 240.5L302.6 239.9M311.3 182.6L310.5 176.6M311.3 189.8L310.6 184.7M311.3 197.1L310.7 192.8M311.3 204.3L310.8 200.7M311.3 211.6L310.9 208.8M311.3 218.8L311 216.7M311.3 226L311 224.5M311.3 233.3L311 232M311.3 240.5L311 239.8M320.8 182.6L318.5 177M320.8 189.8L318.8 185M320.8 197.1L319.1 193.1M320.8 204.3L319.3 201M320.8 211.6L319.5 209M320.8 218.8L319.7 216.9M320.8 226L319.8 224.6M320.8 233.3L319.8 232.2M320.8 240.5L319.7 240M330.3 182.6L326.7 177.7M330.3 189.8L327.1 185.6M330.3 197.1L327.5 193.6M330.3 204.3L327.9 201.4M330.3 211.6L328.2 209.3M330.3 218.8L328.5 217.1M330.3 226L328.8 224.9M330.3 233.3L328.8 232.5M330.3 240.5L328.8 240.2M339.8 182.6L335.1 178.6M339.8 189.8L335.6 186.4M339.8 197.1L336.2 194.3M339.8 204.3L336.6 202M339.8 211.6L337 209.7M339.8 218.8L337.3 217.4M339.8 226L337.7 225.1M339.8 233.3L337.8 232.6M339.8 240.5L338 240.3M349.3 182.6L343.8 179.7M349.3 189.8L344.4 187.4M349.3 197.1L345 195.1M349.3 204.3L345.5 202.6M349.3 211.6L346 210.3M349.3 218.8L346.4 217.8M349.3 226L346.7 225.3M349.3 233.3L346.9 232.8M349.3 240.5L347 240.3"/><path fill="#dfb35a" d="M229.5 183.1L227.1 183.9L227.4 181.7zM228.8 186.6L227.9 189.4L226 187.6zM228.4 191.3L228.4 194.4L226 193.3zM229.1 197L229.2 200.1L226.7 199zM233.2 203.9L232.2 206.9L230.3 205zM236 215.8L233.7 217.9L232.9 215.3zM234.9 226L232.1 227.4L232.1 224.7zM234 233.8L231.1 235L231.3 232.3zM233.4 240.9L230.5 242.1L230.6 239.4zM241.4 182L238.8 183.6L238.5 180.9zM240.9 187.2L238.9 189.6L237.8 187.2zM240.7 192.8L239.3 195.6L237.6 193.5zM241.1 199.4L239.8 202.3L238.1 200.2zM242.3 207.1L240.7 209.7L239.3 207.4zM243.2 215.6L241.1 217.9L240.1 215.4zM243.3 224.4L240.9 226.3L240.3 223.7zM243.1 232.5L240.5 234.1L240.2 231.4zM242.9 240.3L240.1 241.7L240 239zM252 180.7L249.7 182.7L249 180.1zM251.5 187L249.4 189.3L248.4 186.8zM251.1 193.4L249.3 196L248 193.6zM251.2 200.5L249.5 203.1L248.1 200.7zM251.5 208L249.7 210.5L248.4 208.1zM251.8 215.9L249.8 218.2L248.7 215.7zM252 224.1L249.7 226.1L249 223.5zM252.1 232L249.5 233.8L249.1 231.2zM252 240L249.3 241.6L249.1 238.9zM261.8 179.3L259.8 181.6L258.7 179.1zM261.2 186.2L259.4 188.7L258.1 186.3zM260.8 193.2L259 195.8L257.7 193.5zM260.6 200.5L258.9 203.1L257.5 200.8zM260.7 208.1L258.8 210.6L257.6 208.3zM260.8 215.9L258.8 218.2L257.7 215.8zM260.9 223.9L258.7 226L257.8 223.5zM261 231.8L258.5 233.7L257.9 231.1zM261 239.9L258.3 241.5L258.1 238.8zM270.9 177.8L269.3 180.5L267.8 178.2zM270.4 185.1L268.9 187.9L267.3 185.7zM269.9 192.6L268.4 195.3L266.8 193.1zM269.7 200.1L268.2 202.8L266.6 200.6zM269.6 207.9L268 210.5L266.5 208.2zM269.7 215.6L267.8 218.1L266.6 215.8zM269.8 223.7L267.6 225.9L266.7 223.4zM269.8 231.6L267.5 233.7L266.8 231.1zM269.9 239.8L267.2 241.5L266.9 238.8zM279.5 176.4L278.4 179.3L276.5 177.4zM279 184L278 187L276.1 185.1zM278.6 191.8L277.6 194.7L275.7 192.8zM278.4 199.5L277.3 202.4L275.5 200.4zM278.4 207.4L277.1 210.2L275.4 208.1zM278.4 215.2L276.9 217.9L275.3 215.7zM278.5 223.4L276.6 225.8L275.4 223.4zM278.6 231.4L276.4 233.6L275.5 231zM278.7 239.7L276.1 241.5L275.7 238.8zM287.6 175.2L287.2 178.3L284.9 176.8zM287.2 183L286.8 186.1L284.6 184.6zM287 191L286.5 194L284.3 192.5zM286.8 198.8L286.3 201.9L284.1 200.2zM286.8 206.8L286 209.8L284 208.1zM286.9 214.7L285.8 217.7L283.9 215.7zM287 222.9L285.6 225.7L284 223.5zM287.2 231.1L285.3 233.5L284.1 231.1zM287.4 239.6L284.9 241.5L284.3 238.8zM295.3 174.3L295.6 177.4L293.1 176.5zM295.1 182.3L295.4 185.4L292.9 184.4zM295 190.3L295.2 193.4L292.7 192.4zM294.9 198.2L295 201.3L292.6 200.3zM295 206.3L294.9 209.4L292.5 208.2zM295.1 214.3L294.7 217.3L292.5 215.9zM295.3 222.5L294.5 225.5L292.5 223.7zM295.5 230.7L294.3 233.2L292.8 231.3zM295.8 239.3L294 241.1L293.3 239zM302.7 173.8L303.8 176.8L301.1 176.5zM302.7 181.9L303.7 184.8L301 184.5zM302.7 190L303.7 192.9L301 192.6zM302.7 197.9L303.6 200.9L301 200.5zM302.8 206L303.6 209L301 208.5zM302.9 213.9L303.6 217L301 216.3zM303.1 222.1L303.5 224.9L301.2 224.1zM303.4 230.2L303.3 232.5L301.5 231.6zM303.8 238.9L303.1 240.5L302.1 239.3zM310.1 173.9L311.8 176.5L309.1 176.8zM310.2 181.9L311.9 184.5L309.2 184.9zM310.3 190L312 192.6L309.4 193zM310.4 198L312.1 200.6L309.4 200.9zM310.5 206.1L312.2 208.6L309.6 209zM310.6 214L312.3 216.5L309.7 216.9zM310.7 222.1L312.2 224.3L309.9 224.6zM310.7 230.1L312 231.8L310.1 232.2zM310.5 238.6L311.5 239.5L310.4 240zM317.5 174.4L319.8 176.5L317.3 177.5zM317.7 182.4L320 184.5L317.5 185.5zM318 190.5L320.3 192.6L317.8 193.6zM318.1 198.4L320.5 200.4L318.1 201.5zM318.3 206.5L320.7 208.4L318.3 209.6zM318.4 214.4L320.9 216.2L318.5 217.5zM318.3 222.6L320.8 223.9L318.8 225.4zM318.3 230.6L320.5 231.5L319 233zM318 239.3L320 239.2L319.3 240.8zM325.1 175.4L327.8 176.9L325.6 178.4zM325.4 183.3L328.2 184.8L326 186.4zM325.8 191.4L328.6 192.7L326.5 194.4zM326.1 199.2L328.9 200.5L326.8 202.3zM326.3 207.3L329.2 208.4L327.2 210.2zM326.4 215.1L329.4 216.1L327.5 218zM326.5 223.2L329.6 223.8L328 226zM326.5 231.3L329.4 231.4L328.2 233.6zM326.4 239.6L329 239L328.5 241.3zM333 176.8L336 177.6L334.2 179.6zM333.5 184.6L336.5 185.3L334.8 187.4zM334 192.5L337 193.2L335.4 195.3zM334.3 200.3L337.4 200.9L335.8 203zM334.7 208.2L337.8 208.6L336.3 210.9zM334.9 216L338 216.2L336.7 218.5zM335.1 223.9L338.2 223.8L337.1 226.3zM335.2 231.8L338.3 231.4L337.4 233.9zM335.2 239.9L338.2 238.9L337.8 241.6zM341.3 178.5L344.4 178.5L343.1 181zM341.9 186.1L345 186.2L343.8 188.6zM342.5 193.9L345.6 193.8L344.5 196.3zM342.9 201.5L346.1 201.4L345 203.9zM343.4 209.2L346.5 209L345.5 211.5zM343.7 216.9L346.8 216.5L345.9 219.1zM344 224.6L347 224L346.3 226.6zM344.1 232.3L347.1 231.5L346.6 234.1zM344.2 240.1L347.1 239L346.9 241.7z"/>
<rect x="216.8" y="138.2" width="3.2" height="75.6" fill="#fff" stroke="none"/>
<path fill="none" stroke="#4a4a4a" stroke-width="0.9" d="M197.8 182.6V138.2H220V213.7H216.8V138.2"/>
<rect x="197.8" y="135.9" width="158.5" height="116.2" fill="none" stroke="#b4b4b4" stroke-width="0.8"/>
<path stroke="#b4b4b4" stroke-width="0.8" fill="none" d="M197.8 252.1v-2M197.8 135.9v2M229.5 252.1v-2M229.5 135.9v2M261.2 252.1v-2M261.2 135.9v2M292.9 252.1v-2M292.9 135.9v2M324.6 252.1v-2M324.6 135.9v2M197.8 144.5h2M356.3 144.5h-2M197.8 157.2h2M356.3 157.2h-2M197.8 169.9h2M356.3 169.9h-2M197.8 182.6h2M356.3 182.6h-2M197.8 195.3h2M356.3 195.3h-2M197.8 208h2M356.3 208h-2M197.8 220.7h2M356.3 220.7h-2M197.8 233.4h2M356.3 233.4h-2M197.8 246.1h2M356.3 246.1h-2"/>
<text x="197.8" y="261.9" font-size="9" text-anchor="middle" fill="#262626">0</text>
<text x="229.5" y="261.9" font-size="9" text-anchor="middle" fill="#262626">5</text>
<text x="261.2" y="261.9" font-size="9" text-anchor="middle" fill="#262626">10</text>
<text x="292.9" y="261.9" font-size="9" text-anchor="middle" fill="#262626">15</text>
<text x="324.6" y="261.9" font-size="9" text-anchor="middle" fill="#262626">20</text>
<text x="277.1" y="271.7" font-size="9" text-anchor="middle" font-weight="bold" fill="#222">x [m]</text>
<text x="291.8" y="146.9" font-size="9" text-anchor="start" fill="#222" textLength="57.2" lengthAdjust="spacingAndGlyphs">t=0.87s (=T/6)</text>
<path fill="none" stroke="#4a4a4a" stroke-width="1.2" stroke-dasharray="1.2 1.2" d="M361.8 179.6l17.4 0"/>
<path fill="none" stroke="#5a5a5a" stroke-width="1.2" stroke-dasharray="1.2 1.2" d="M384 185l23.8-0.1l20.6-0.5l19-0.8l44.4-2.2l14.2-0.5l12.7-0.3"/>
<g clip-path="url(#cp2)">
<rect x="360" y="181.6" width="161.3" height="65.5" fill="#000000"/>
<path fill="#000008" d="M361 183.4l0-0.1l19.8-0.1l0-0.6l139.5 0l0 63.5l-159.3 0l0-62.7z"/>
<path fill="#000010" d="M380.9 182.6l139.4 0l0 63.5l-159.3 0l0-61.8l19.8-0.1l0.1-1.6z"/>
<path fill="#000017" d="M380.9 182.6l139.4 0l0 63.5l-159.3 0l0-60.8l19.8-0.1l0.1-2.6z"/>
<path fill="#00001f" d="M380.9 182.6l139.4 0l0 63.5l-159.3 0l0-59.8l19.8-0.1l0.1-3.6z"/>
<path fill="#000027" d="M380.9 182.6l139.4 0l0 63.5l-159.3 0l0-58.8l19.8-0.1l0.1-4.6z"/>
<path fill="#00002f" d="M380.9 182.6l139.4 0l0 63.5l-159.3 0l0-57.8l19.8-0.1l0.1-5.6z"/>
<path fill="#000037" d="M381 182.6l139.3 0l0 63.5l-159.3 0l0-56.8l19.8-0.1l0.2-6.6z"/>
<path fill="#00003e" d="M381 182.6l139.3 0l0 63.5l-159.3 0l0-55.8l19.8-0.1l0.2-7.6z"/>
<path fill="#000046" d="M381 182.6l139.3 0l0 63.5l-159.3 0l0-54.7l19.8-0.2l0.2-8.6z"/>
<path fill="#00004e" d="M381 182.6l139.3 0l0 63.5l-159.3 0l0-53.7l19.8-0.2l0.2-9.6z"/>
<path fill="#000056" d="M381.1 182.6l139.2 0l0 63.5l-159.3 0l0-52.7l19.8-0.2l0.3-10.6z"/>
<path fill="#00005e" d="M381.1 182.6l139.2 0l0 63.5l-159.3 0l0-51.7l19.8-0.2l0.3-11.6z"/>
<path fill="#000064" d="M381.1 182.6l139.2 0l0 63.5l-159.3 0l0-50.6l19.8-0.3l0.3-12.6z"/>
<path fill="#00006b" d="M381.1 182.6l139.2 0l0 63.5l-159.3 0l0-49.6l19.8-0.3l0.3-13.6z"/>
<path fill="#000072" d="M381.2 182.6l139.1 0l0 63.5l-159.3 0l0-48.6l19.8-0.3l0.4-14.6z"/>
<path fill="#000078" d="M381.2 182.6l139.1 0l0 63.5l-159.3 0l0-47.5l19.8-0.5l0.4-15.5z"/>
<path fill="#00007f" d="M381.2 182.6l139.1 0l0 63.5l-159.3 0l0-46.5l19.8-0.5l0.4-16.5z"/>
<path fill="#000086" d="M381.2 182.6l139.1 0l0 63.5l-159.3 0l0-45.4l19.8-0.6l0.4-17.5z"/>
<path fill="#00008c" d="M381.3 182.6l139 0l0 63.5l-159.3 0l0-44.4l19.8-0.7l0.5-18.4z"/>
<path fill="#000093" d="M381.3 182.6l139 0l0 63.5l-159.3 0l0-43.3l5.5-0.1l9.6-0.6l4.7-0.1l0.5-19.4z"/>
<path fill="#000099" d="M381.3 182.6l139 0l0 63.5l-159.3 0l0-42.2l5.5-0.2l9.6-0.7l4.7-0.1l0.5-20.3z"/>
<path fill="#0000a0" d="M381.3 182.6l139 0l0 63.5l-159.3 0l0-41.1l5.5-0.2l9.6-0.8l4.7-0.2l0.5-21.2z"/>
<path fill="#0000a7" d="M381.4 182.6l138.9 0l0 63.5l-159.3 0l0-40l5.5-0.2l9.6-1l4.7-0.1l0.3-8.7l0.3-13.5z"/>
<path fill="#0001ad" d="M381.4 182.6l138.9 0l0 63.5l-159.3 0l0-38.9l5.5-0.2l9.6-1.2l4.7-0.2l0.4-9.5l0.2-13.5z"/>
<path fill="#0003b2" d="M381.4 182.6l138.9 0l0 63.5l-159.3 0l0-37.7l5.5-0.3l9.6-1.3l4.7-0.3l0.4-8.8l0.2-15.1z"/>
<path fill="#0006b7" d="M381.4 182.6l138.9 0l0 63.5l-159.3 0l0-36.5l5.5-0.4l9.6-1.5l4.7-0.3l0.4-9.7l0.2-15.1z"/>
<path fill="#0008bc" d="M381.5 182.6l138.2 0l0.6 0.4l0 63.1l-159.3 0l0-35.3l2.4-0.1l3.1-0.3l9.6-1.9l3.1-0.3l1.6 0l0.4-8.9l0.3-16.7z"/>
<path fill="#000ac1" d="M381.5 182.6l134.7 0l4.1 3l0 60.5l-159.3 0l0-34.1l2.4 0l3.1-0.4l9.6-2.2l3.1-0.4l1.6 0l0.4-9.7l0.3-16.7z"/>
<path fill="#000cc7" d="M381.5 182.6l131.6 0l4 3.5l3.2 2.4l0 57.6l-159.3 0l0-32.7l2.4-0.1l3.1-0.4l3.2-0.8l7.9-2.2l1.6-0.2l1.6 0l0.4-8.8l0.3-18.3z"/>
<path fill="#000ecc" d="M381.5 182.6l128.8 0l2.1 2.2l3.1 3l4.8 3.8l0 54.5l-159.3 0l0-31.4l2.4-0.1l3.1-0.4l3.2-0.9l7.9-2.6l1.6-0.2l1.6 0l0.4-8.1l0.3-19.8z"/>
<path fill="#0011d1" d="M381.5 182.6l126.1 0l3.2 3.8l3.2 3.3l3.1 2.8l3.2 2.5l0 51.1l-159.3 0l0-29.9l2.4-0.1l3.1-0.6l3.2-0.9l7.9-3.1l1.6-0.4l1.6 0l0.5-8.7l0.2-19.8z"/>
<path fill="#0013d6" d="M381.6 182.6l123.5 0l4.1 5.5l3.2 3.6l3.1 3.1l4.8 4l0 47.3l-159.3 0l0-28.4l4-0.3l3.1-0.8l3.2-1.3l6.3-3.1l1.6-0.5l1.6 0l0.3-2.9l0.2-4.8l0.3-21.4z"/>
<path fill="#0015db" d="M381.6 182.6l121.1 0l3.3 5.1l4.8 6.2l4.7 5.1l4.8 4.1l0 43l-159.3 0l0-26.7l2.4-0.1l1.6-0.3l3.1-0.9l1.6-0.6l3.2-1.6l4.7-2.9l1.6-0.7l1.6-0.2l0.1-0.1l0.3-3.2l0.1-4.8l0.3-21.4z"/>
<path fill="#0119df" d="M381.6 182.6l118.8 0l4 7l4.8 6.8l4.8 5.6l3.1 3.2l3.2 2.9l0 38l-159.3 0l0-24.9l2.4-0.1l1.6-0.3l1.5-0.4l3.2-1.3l3.2-1.8l4.9-3.7l1.4-0.8l1.6-0.4l0.2-0.4l0.4-8l0.2-21.4z"/>
<path fill="#0220e1" d="M381.6 182.6l116.6 0l1.9 4l2.8 5.2l4.7 7.5l3.2 4.3l3.2 3.9l3.1 3.5l3.2 3l0 32.1l-159.3 0l0-22.9l2.4-0.1l1.6-0.3l1.5-0.5l3.2-1.4l3.2-2l1.6-1.2l4.3-4.1l2-1l0.3-0.6l0.3-8l0.2-21.4z"/>
<path fill="#0327e4" d="M381.7 182.6l114.3 0l2.1 5l2.5 5.3l2.3 4.3l3.1 5.5l3.2 4.9l3.2 4.5l3.1 4.1l4.8 5.7l0 24.2l-159.3 0l0-20.5l2.4-0.2l3.1-0.8l1.6-0.7l3.2-1.9l1.6-1.2l3.2-3l3.1-3.7l0.3-0.5l1.3-0.7l0.4-0.9l0.3-8l0.2-21.4z"/>
<path fill="#042de6" d="M381.7 182.6l112.2 0l2 5.6l2.2 5.5l4.8 10.2l4.7 8.7l10 16.8l2.7 5.4l0 11.3l-159.3 0l0-17.8l2.4-0.2l3.1-0.9l3.2-1.7l1.6-1.1l3.2-2.9l1.6-1.8l1.5-2.1l1.6-2.5l0.7-1.5l0.9-0.5l0.5-1.1l0.2-8l0.2-21.4z"/>
<path fill="#0534e8" d="M381.7 182.6l110.1 0l3.1 10l3.2 8.5l3.2 7.6l7.1 16l3 7.9l1.8 6.4l0.5 3.1l0.2 4l-152.9 0l0-14.3l2.4-0.2l3.1-1.1l3.2-1.9l3.2-2.7l3.2-3.8l1.5-2.4l1.6-2.9l1.2-3.2l0.4-0.2l0.6-1.4l0.3-29.4z"/>
<path fill="#073aea" d="M381.7 182.6l108.1 0l2 8l2.5 8.7l7.9 23.8l2 6.3l1.1 4.8l0.9 4.8l0.3 3.1l0.2 4l-145.7 0l0-9.3l2.4-0.3l3.1-1.4l1.6-1.1l3.2-2.8l3.2-3.6l1.6-2.2l2.1-3.9l1-2.1l1-2.7l0.7-3.1l0.6-1.6l0.2-29.4z"/>
<path fill="#0841ec" d="M381.8 182.6l105.9 0l3.2 15.1l6 23.8l1.7 7.9l0.9 4.8l0.6 4.8l0.3 7.1l-133.1 0l0-0.8l0.3-1.6l1.6-3.2l5.3-8l3.1-5.6l1.6-3.6l1.6-5.2l0.5-3l0.3-3.1l0.2-29.4z"/>
<path fill="#0948ef" d="M381.8 182.6l104 0l2 13.5l4.2 23.8l1.3 7.9l1 9.6l0.4 8.7l-120.4 0l0.1-2.4l0.7-3.2l5.1-14.2l1.2-4.8l0.5-3.2l0.1-3.2l0-1.5l-0.3-1.6l0.1-29.4z"/>
<path fill="#0a4ef1" d="M381.8 182.6l102 0l4.5 43.7l0.7 11.1l0.2 8.7l-110.1 0l0-2.4l0.4-3.2l2.6-12.7l0.8-6.3l0.1-3.2l-0.3-3.2l-0.2-1.5l-0.1-0.1l-0.6-1.5l0-29.4z"/>
<path fill="#0b55f3" d="M381.8 182.6l100 0l1.7 38.9l0.3 12.7l0.1 11.9l-100.7 0l0.2-5.6l1.1-12.7l0-4.7l-0.4-4.8l-0.6-3.2l-0.4-1.5l-0.7-0.4l-0.5-1.2l-0.1-29.4z"/>
<path fill="#0c5bf4" d="M381.9 182.6l98 0l-0.2 19.8l-0.9 31.8l-0.1 11.9l-91.6 0l-0.1-15.1l-0.3-4.7l-0.4-3.2l-0.9-4.8l-1.1-3.2l-0.7-1.5l-1.2-0.7l-0.4-0.9l-0.1-8l0-21.4z"/>
<path fill="#0c61f5" d="M381.9 182.6l96 0l-1.2 19.8l-2.8 30.2l-0.4 6.4l-0.1 7.1l-82.4 0l-0.2-5.6l-0.5-6.3l-0.9-6.4l-1.1-4.7l-1.5-4.8l-1.5-3.2l-1.1-1.5l-1.8-1l-0.2-0.6l-0.3-8l0-21.4z"/>
<path fill="#0c67f5" d="M381.9 182.6l94.1 0l-0.9 8.7l-1.3 9.6l-5 31.7l-0.7 6.4l-0.2 7.1l-72.9 0l-0.3-5.6l-0.7-4.7l-1.4-6.4l-1.5-4.7l-2-4.8l-1.6-3.2l-1-1.6l-1.3-1.5l-1.2-0.8l-1.6-0.5l-0.1-0.3l-0.3-8l-0.1-21.4z"/>
<path fill="#0d6ef6" d="M381.9 182.6l92.1 0l-1.6 10.3l-1.9 9.5l-1.8 8l-3.9 15.9l-1.4 6.3l-1 6.4l-0.3 3.1l-0.1 4l-62.6 0l-0.1-2.4l-0.3-3.2l-1.1-4.7l-2.1-6.4l-2.9-6.3l-1.7-3.2l-2.1-3.2l-1.2-1.6l-1.4-1.5l-0.9-0.7l-1.6-0.8l-1.6-0.1l-0.4-8l-0.1-21.4z"/>
<path fill="#0d74f6" d="M382 182.6l90 0l-2.1 10.3l-2.5 9.5l-2.6 8.4l-5.8 17l-1.8 6.4l-1.3 6.3l-0.4 5.6l-51.1 0l-0.1-2.4l-0.5-3.2l-1.4-4.7l-1.4-3.2l-1.5-3.2l-3.8-6.3l-2.1-3.2l-2.5-3.2l-3-3.1l-2.5-1.7l-1.6-0.5l-1.6 0l-0.3-7.4l-0.1-21.4z"/>
<path fill="#0d7af7" d="M382 182.6l88 0l-1.3 5.6l-1.9 6.3l-3.6 10.5l-3.1 7.7l-7.8 16.7l-2.6 6.4l-1.4 4.7l-0.5 3.2l-0.1 2.4l-36.9 0l-0.2-2.4l-0.7-3.2l-1.2-3.1l-0.8-1.6l-1.9-3.2l-2.1-3.2l-4.8-6.3l-5.6-6.4l-3.4-3.1l-2.2-1.6l-2.3-1.1l-1.6-0.4l-1.6 0l-0.3-8.1l-0.1-19.8z"/>
<path fill="#0d80f7" d="M382 182.6l86 0l-2.2 7.1l-2.6 7.2l-2.3 5.5l-3.1 6.4l-4.1 7.3l-3.1 5l-4.8 6.9l-6.8 9.4l-2.1 3.1l-1.5 3.2l-0.4 1.6l0 0.8l-13 0l0-0.8l-0.4-1.6l-0.7-1.6l-1-1.6l-2.5-3.1l-6-6.4l-11.4-11.1l-5.3-4.8l-4.3-3.1l-3.1-1.6l-1.7-0.6l-1.6-0.3l-1.6 0l-0.3-8.6l-0.1-18.3z"/>
<path fill="#0d86f8" d="M382 182.6l84 0l-3.3 8.7l-2.1 4.8l-2.1 4.4l-2 3.5l-2.8 4.6l-3.1 4.6l-3.2 4l-3.2 3.5l-3.2 3.1l-1.5 1.3l-3.2 2.2l-3.2 1.7l-1.6 0.6l-1.6 0.5l-3.1 0.3l-1.6 0l-3.2-0.6l-3.1-1.1l-1.6-0.8l-4.8-2.6l-3.2-2l-13.5-9.7l-3.9-2.5l-3.2-1.5l-1.5-0.6l-3.2-0.6l-1.6 0l-0.3-9.1l-0.1-16.7z"/>
<path fill="#0e8df8" d="M382 182.6l81.9 0l-3.8 8.9l-2.5 4.6l-2.3 4l-4.7 6.8l-4.8 5.5l-3.2 3l-3.1 2.6l-1.6 1.1l-3.2 1.7l-3.2 1.4l-1.6 0.4l-1.5 0.3l-3.2 0.4l-1.6-0.1l-3.2-0.3l-3.1-0.8l-3.2-1.1l-6.3-2.9l-10.7-6.1l-5.2-2.7l-3.2-1.2l-1.5-0.5l-3.2-0.4l-1.6 0l-0.4-24.6z"/>
<path fill="#0e93f9" d="M382.1 182.6l79.7 0l-3.3 6.8l-2 3.5l-2.8 4.4l-4.7 6.2l-4.8 5l-4.7 3.9l-3.2 2l-3.2 1.5l-4.7 1.6l-3.2 0.4l-3.2 0.1l-4.7-0.5l-3.2-0.7l-3.2-1l-4.7-1.9l-11.2-5.1l-4.7-1.8l-3.1-0.8l-1.6-0.2l-3.2-0.1l-0.3-23.3z"/>
<path fill="#0d99f9" d="M382.1 182.6l77.6 0l-2.2 4l-2.2 3.7l-4.7 6.7l-4.8 5.3l-4.8 4.1l-4.7 3.2l-4.8 2.3l-4.7 1.3l-3.2 0.5l-3.2 0.1l-4.7-0.4l-4.8-1l-4.7-1.5l-11.1-4.1l-4.8-1.4l-4.7-0.8l-3.2-0.1l-0.3-21.9z"/>
<path fill="#0ca0f9" d="M382.1 182.6l75.3 0l-3.7 5.9l-4.7 6.2l-4.8 4.9l-4.7 3.8l-4.8 2.9l-4.8 2.1l-4.7 1.2l-3.2 0.4l-3.1 0.1l-4.8-0.3l-4.8-0.8l-4.7-1.3l-9.5-2.8l-4.8-1.2l-4.7-0.6l-3.2-0.1l-0.3-20.4z"/>
<path fill="#0ba7f9" d="M382.1 182.6l73.1 0l-4 5.6l-3.8 4.5l-4.8 4.5l-4.7 3.5l-4.8 2.7l-4.7 1.9l-4.8 1.1l-3.2 0.4l-3.1 0.1l-4.8-0.3l-4.7-0.7l-12.7-2.9l-4.8-1l-4.7-0.5l-3.2-0.1l-0.3-18.8z"/>
<path fill="#09aef9" d="M382.2 182.6l70.6 0l-3.8 4.8l-4.8 4.9l-3.2 2.7l-4.7 3.3l-4.8 2.4l-4.7 1.8l-4.8 1l-3.1 0.4l-3.2 0.1l-3.2-0.1l-4.7-0.5l-17.5-3.1l-4.7-0.4l-3.2-0.1l-0.2-17.2z"/>
<path fill="#08b5f9" d="M382.2 182.6l68.1 0l-3.5 4l-4.2 3.9l-4.7 3.6l-4.8 2.8l-4.7 2l-4.8 1.4l-4.7 0.7l-4.8 0.3l-3.2-0.1l-4.7-0.4l-15.9-2.3l-4.7-0.3l-3.2-0.1l-0.2-15.5z"/>
<path fill="#07bcfa" d="M382.2 182.6l65.5 0l-3.5 3.5l-4.7 3.9l-3.2 2.2l-4.8 2.5l-4.7 1.9l-4.8 1.3l-4.7 0.7l-4.8 0.2l-3.2-0.1l-4.7-0.3l-15.9-1.8l-6.3-0.2l-0.2-13.8z"/>
<path fill="#05c3fa" d="M382.2 182.6l62.8 0l-4 3.5l-4.7 3.3l-4.8 2.6l-3.1 1.4l-4.8 1.5l-3.2 0.7l-4.7 0.6l-4.8 0.2l-6.3-0.2l-15.9-1.4l-6.3-0.1l-0.2-12.1z"/>
<path fill="#04cafa" d="M382.3 182.6l59.8 0l-4.2 3.2l-3.2 2l-3.2 1.6l-4.7 2l-3.2 1l-4.7 1l-4.8 0.6l-4.8 0.2l-6.3-0.2l-14.3-1l-6.3-0.1l-0.1-10.3z"/>
<path fill="#03d1fa" d="M382.3 182.6l56.6 0l-4.2 2.7l-3.2 1.7l-3.1 1.4l-3.2 1.1l-3.2 0.9l-4.7 1l-4.8 0.5l-4.7 0.2l-6.4-0.2l-12.7-0.7l-6.3-0.1l-0.1-8.5z"/>
<path fill="#01d7fa" d="M382.3 182.6l53 0l-3.8 2.1l-3.1 1.4l-3.2 1.1l-3.2 1l-3.1 0.7l-4.8 0.7l-3.2 0.2l-4.7 0.2l-17.5-0.7l-6.3-0.1l-0.1-6.6z"/>
<path fill="#01defa" d="M382.3 182.6l48.9 0l-2.8 1.3l-3.2 1.1l-3.2 1l-3.1 0.7l-6.4 0.9l-7.9 0.4l-22.2-0.6l-0.1-4.8z"/>
<path fill="#10e0fa" d="M382.4 182.6l43.8 0l-5.8 1.7l-4.7 0.9l-4.8 0.5l-6.3 0.3l-22.2-0.5l0-2.9z"/>
<path fill="#1fe2fa" d="M382.4 182.6l36.7 0l-3.4 0.6l-4.8 0.6l-7.9 0.2l-20.6-0.4l0-1z"/>
<path fill="none" stroke="#d6dcc0" stroke-width="0.65" d="M361 184.5l19.8-0.1l0.1-1.8M361 186.7l19.8-0.1l0.1-4M361 188.9l19.8-0.1l0.2-6.2M361 191.2l19.8-0.2l0.2-8.4M361 193.4l19.8-0.2l0.3-10.6M361 195.7l19.8-0.3l0.3-12.8M361 197.9l19.8-0.3l0.4-15M361 200.2l19.8-0.5l0.4-17.1M361 202.6l5.5-0.2l9.6-0.5l4.7-0.1l0.5-19.2M361 205l5.5-0.2l9.6-0.8l4.7-0.2l0.5-21.2M361 207.5l5.5-0.3l9.6-1.2l4.7-0.2l0.3-8.1l0.3-15.1M361 210l5.5-0.3l9.6-1.7l3.1-0.3l1.6 0l0.4-8.4l0.2-16.7M514.4 182.6l2.7 2.4l3.2 2.3M361 212.8l2.4-0.1l3.1-0.4l11.1-2.7l3.2-0.2l0.4-8.5l0.3-18.3M508.2 182.6l2.6 3.1l3.2 3.3l3.1 2.9l3.2 2.4M361 215.9l2.4-0.1l3.1-0.5l3.2-0.9l7.9-3.1l1.6-0.3l1.6 0l0.5-8.6l0.2-19.8M502.7 182.6l3.3 5.1l4.8 6.2l4.7 5.1l4.8 4.1M361 219.4l2.4-0.1l1.6-0.3l3.1-0.9l1.6-0.6l3.2-1.6l4.7-2.9l1.6-0.7l1.6-0.2l0.4-3.3l0.1-4.8l0.3-21.4M497.7 182.6l2 4.2l3.2 6l4.7 7.6l3.2 4.4l3.2 3.9l3.1 3.5l3.2 3.2M361 223.7l2.4-0.2l1.6-0.3l3.1-1.1l1.6-0.8l3.2-2l1.6-1.3l4.4-4.4l1.9-0.9l0.3-0.7l0.3-4.8l0.2-24.6M493 182.6l3.5 9.9l4.8 11.2l4.7 9.5l6.9 13.1l3 6.3l1.2 3.2l1 3.2l0.6 3.1l0.3 4M361 229.6l2.4-0.2l3.1-1l3.2-1.7l1.6-1.2l3.2-3l1.6-1.9l3.1-4.8l0.9-2.2l0.7-0.4l0.5-1.2l0.2-3.2l0.2-26.2M488.5 182.6l1.7 7.5l1.9 7.6l6.7 23.8l2 7.9l1.5 8l0.4 4.7l0.1 4M361 242.5l0.8 0l1.6-0.6l1.6-1.1l3.1-2.9l3.2-3.5l3.2-4.1l1.6-2.5l1.5-2.8l2.2-5.1l1-3.5l0.8-4.4l0.2-29.4M484.2 182.6l5.2 45.2l0.7 9.6l0.2 8.7M378.2 246.1l0-2.4l0.5-3.2l3.2-14.2l0.5-3.2l0.3-3.2l0-3.2l-0.3-3.1l-0.6-1.6l0-29.4M479.9 182.6l-0.2 19.8l-0.9 31.8l-0.1 11.9M387.1 246.1l-0.1-15.1l-0.3-4.7l-0.4-3.2l-0.9-4.8l-1.1-3.2l-0.7-1.5l-1.2-0.7l-0.4-0.9l-0.1-8l0-21.4M475.6 182.6l-1 8.7l-1.4 9.6l-4.5 25.4l-1 6.3l-0.7 6.4l-0.3 7.1M395.9 246.1l-0.4-5.6l-1.1-6.3l-1.7-6.4l-1.8-4.7l-2.2-4.8l-2-3.2l-1.3-1.5l-1.4-0.9l-1.6-0.4l-0.1-0.3l-0.3-8l-0.1-21.4M471.2 182.6l-2.3 10.3l-3.3 11.1l-2.8 8l-6.7 17.4l-1.5 4.8l-1.5 6.3l-0.4 3.2l-0.1 2.4M406.7 246.1l-0.1-2.4l-0.6-3.2l-1.6-4.7l-1.5-3.2l-1.8-3.2l-4.1-6.3l-2.3-3.2l-2.7-3.2l-3.2-3.1l-1.6-1.3l-1.6-0.8l-1.6-0.5l-1.6 0l-0.3-8.6l-0.1-19.8M466.8 182.6l-2 5.9l-1.6 4.2l-2.1 5l-2.3 4.7l-1.9 3.7l-3.2 5.3l-4.7 6.8l-3.2 4l-3.2 3.5l-3.1 3.1l-3.2 2.5l-3.2 1.9l-1.6 0.7l-3.1 0.7l-1.6 0l-1.6-0.2l-3.2-1l-3.1-1.5l-3.2-2l-6.4-4.6l-12.7-10.2l-4.7-3.2l-2.7-1.5l-2-0.9l-1.6-0.4l-1.6-0.3l-1.6 0l-0.2-7.9l-0.2-18.3M462.2 182.6l-3.7 7.8l-2.4 4.1l-2.4 3.8l-4.7 6.2l-4.8 5l-4.7 3.9l-1.6 1.1l-3.2 1.7l-3.2 1.4l-1.6 0.5l-3.1 0.6l-3.2 0.3l-4.7-0.3l-4.8-1.1l-6.3-2.4l-10.2-4.8l-5.7-2.5l-4.7-1.4l-3.2-0.4l-1.6 0l-0.3-23.5M457.4 182.6l-3.7 5.9l-4.7 6.2l-4.8 4.9l-4.7 3.8l-4.8 2.9l-4.8 2.1l-4.7 1.2l-3.2 0.4l-3.1 0.1l-4.8-0.3l-4.8-0.8l-4.7-1.3l-9.5-2.8l-4.8-1.2l-4.7-0.6l-3.2-0.1l-0.3-20.4M452.3 182.6l-3.3 4.2l-4.8 4.9l-4.7 3.8l-4.8 3l-4.8 2.3l-4.7 1.5l-4.8 0.8l-4.7 0.3l-3.2 0l-4.7-0.5l-17.5-2.9l-4.7-0.5l-3.2 0l-0.2-16.9M446.7 182.6l-4.1 3.8l-3.1 2.5l-4.8 3.1l-4.8 2.3l-4.7 1.7l-4.8 1.1l-4.7 0.6l-4.8 0.1l-6.3-0.3l-14.3-1.5l-7.9-0.3l-0.2-13.1M440.2 182.6l-3.9 2.7l-3.2 1.8l-3.2 1.6l-4.7 1.8l-4.8 1.2l-3.1 0.6l-4.8 0.5l-4.7 0.1l-6.4-0.2l-12.7-0.8l-6.3-0.1l-0.1-9.2M432.1 182.6l-3.7 1.7l-3.2 1.2l-3.2 0.9l-3.1 0.8l-6.4 0.8l-7.9 0.4l-22.2-0.7l-0.1-5.1M419.1 182.6l-3.4 0.6l-4.8 0.6l-7.9 0.2l-20.6-0.4l0-1M457 182.6l3.1 1.7l3.1 1.4l4.8 1.6l3.2 0.8l3.1 0.5l3.2 0.3l3.2 0.1l3.1-0.2l3.2-0.4l4.8-1l3.1-1l3.2-1.3l4.8-2.5M444.9 182.6l4.1 3.9l3.1 2.6l4.8 3.2l4.7 2.4l4.8 1.8l4.8 1.3l4.7 0.7l4.8 0.2l4.7-0.3l4.8-0.7l4.7-1.4l4.8-1.9l4.7-2.5l3.2-2.2l3.7-3.1l3.9-4M435.4 182.6l4.1 6.1l4.7 5.9l4.8 4.6l4.7 3.7l4.8 2.8l3.1 1.5l3.2 1.2l4.8 1.3l6.3 1l6.4 0.2l6.3-0.5l3.2-0.6l3.1-0.8l3.2-1l3.2-1.3l4.7-2.5l4.8-3.3l3.2-2.8l1.5-1.6l3.2-3.8l1.6-1M427.1 182.6l3.6 8.7l4 8.2l3.7 6.1l2.6 3.8l1.6 2l3.2 3.3l2.3 2l2.5 1.9l4.7 2.8l3.2 1.4l3.1 1.1l3.2 0.9l4.8 1l3.1 0.4l4.8 0.4l4.8 0.1l4.7-0.2l4.8-0.4l3.1-0.5l4.8-1.1l3.2-0.9l3.1-1.2l3.2-1.5l4.8-2.8l3.1-2.6l1.6-1.4l1.6-0.9M419.3 182.6l4.8 21.4l2.2 12.7l1 8l0.6 6.3l0.4 8l0.1 7.1l-66.6 0l-0.8-0.8l0-34.9M411.9 182.6l0.9 10.3l0.2 8l-0.4 6.3l-0.4 3.2l-0.8 3.2l-1.7 4.7l-1.8 3.2l-1.1 1.6l-1.4 1.6l-1.7 1.6l-2 1.5l-1.9 1.2l-3.1 1.5l-3.2 1.1l-3.2 0.6l-3.1 0.3l-3.2-0.1l-3.2-0.5l-3.2-1.1l-1.5-0.8l-1.6-1l-1.6-1.3l-1.6-1.7l-1.9-2.9l-1.5-3.2l-1-3.2l-0.8-3.1l-0.4-3.2M404.5 182.6l0.1 7.1l-0.3 6.4l-0.5 4.8l-0.9 4.7l-1.6 4.8l-1.5 3.2l-2.3 3.1l-2.4 2.5l-1.6 1.2l-1.8 1.1l-3 1.2l-1.5 0.4l-3.2 0.4l-1.6-0.2l-3.2-0.8l-1.6-0.7l-1.5-1.1l-1.6-1.4l-0.9-1l-1.1-1.6l-0.8-1.6l-0.7-1.5l-0.9-3.2M397.2 182.6l-0.6 11.9l-0.5 4.8l-0.6 3.1l-0.8 3.2l-1.1 3.2l-1.7 3.2l-1.1 1.6l-2.1 2.1l-1.5 1l-1.6 0.8l-1.6 0.4l-1.6 0.1l-1.6-0.2l-1.6-0.5l-0.9-0.6l-0.7-0.4l-1.1-1.2l-1.1-1.5l-1.3-3.2M389.9 182.6l-0.4 10.3l-0.6 8l-1.1 6.3l-0.9 3.2l-0.7 1.6l-1.1 1.6l-1.1 0.8l-1.6 0.4l-1.6-0.1l-1.6-0.7l-0.5-0.4l-0.8-1.6l-0.4-1.6M384.1 182.6l-0.1 12.6l-0.3-12.6"/>
</g>
<g clip-path="url(#cp2)"><path fill="none" stroke="#dfe2dc" stroke-width="1.0" stroke-dasharray="1.0 1.4" d="M384 185l23.8-0.1l20.6-0.5l19-0.8l44.4-2.2l14.2-0.5l12.7-0.3"/></g>
<path fill="none" stroke="#4a4a4a" stroke-width="1.2" stroke-dasharray="1.2 1.2" d="M361.8 179.6l17.4 0"/>
<path fill="none" stroke="#dfb35a" stroke-width="0.8" d="M363.9 182.6L363.9 188M363.9 189.8L363.9 195.2M363.9 197.1L363.9 202.3M363.9 204.3L364 209.2M363.9 211.6L364.1 215.3M363.9 218.8L364.1 221.1M363.9 226L364.1 227.3M363.9 233.3L364 234M371.5 182.6L371.5 188M371.5 189.8L371.5 195.3M371.5 197.1L371.6 202.5M371.5 204.3L371.9 209.7M371.5 211.6L372.9 216.2M371.5 218.8L373 221.4M371.5 226L372.4 227.1M371.5 233.3L372.1 233.9M371.5 240.5L372 240.7M379.1 218.8L383.4 220.8M379.1 226L380.5 226.6M379.1 233.3L380.1 233.6M379.1 240.5L379.9 240.6"/><path fill="#dfb35a" d="M363.9 190.8L362.5 188L365.2 188zM363.9 198L362.5 195.2L365.2 195.2zM363.9 205.1L362.6 202.3L365.3 202.3zM364.1 212L362.6 209.2L365.3 209.1zM364.3 218.1L362.8 215.4L365.5 215.2zM364.4 223.8L362.8 221.2L365.5 220.9zM364.4 229.2L363.1 227.4L365 227.1zM364.3 235.2L363.5 234.2L364.6 233.9zM371.5 190.8L370.1 188L372.8 188zM371.5 198.1L370.2 195.3L372.9 195.3zM371.7 205.3L370.3 202.6L373 202.5zM372.2 212.5L370.6 209.9L373.3 209.6zM373.7 218.9L371.6 216.6L374.2 215.8zM374.4 223.9L371.8 222.1L374.2 220.8zM373.7 228.8L371.6 227.8L373.1 226.5zM373.2 234.9L371.7 234.4L372.6 233.4zM372.8 241.1L371.8 241.1L372.2 240.4zM386 221.9L382.9 222L384 219.5zM382.7 227.4L380.1 227.6L380.9 225.5zM381.7 234.1L379.9 234.4L380.3 232.9zM381.1 240.8L379.8 241.2L380 240.1z"/>
<path fill="none" stroke="#dfb35a" stroke-width="0.8" d="M388.9 182.6L389 176.9M388.9 189.8L389.1 184M388.9 197.1L389.4 191M388.9 204.3L390 197.8M388.9 211.6L393 205M388.9 218.8L394.8 215.6M388.9 226L393.6 225.1M388.9 233.3L392.7 232.9M388.9 240.5L392 240.4M398.4 182.6L398.6 176.9M398.4 189.8L398.7 184.2M398.4 197.1L399.1 191.6M398.4 204.3L399.7 199M398.4 211.6L400.9 207M398.4 218.8L401.5 215.4M398.4 226L401.6 224.1M398.4 233.3L401.3 232.2M398.4 240.5L401 240.1M407.9 182.6L407.7 176.9M407.9 189.8L407.8 184.5M407.9 197.1L408.2 192.1M407.9 204.3L408.6 199.8M407.9 211.6L409.2 207.7M407.9 218.8L409.5 215.8M407.9 226L409.7 224M407.9 233.3L409.7 232M407.9 240.5L409.6 240M417.4 182.6L416.4 177M417.4 189.8L416.6 184.8M417.4 197.1L417 192.6M417.4 204.3L417.3 200.3M417.4 211.6L417.7 208.3M417.4 218.8L418 216.2M417.4 226L418.1 224.3M417.4 233.3L418.3 232M417.4 240.5L418.6 239.9M426.9 182.6L425 177.4M426.9 189.8L425.3 185.1M426.9 197.1L425.6 193M426.9 204.3L426 200.8M426.9 211.6L426.3 208.7M426.9 218.8L426.6 216.6M426.9 226L426.8 224.4M426.9 233.3L427 231.9M426.9 240.5L427.1 239.7M436.4 182.6L433.5 177.9M436.4 189.8L433.9 185.7M436.4 197.1L434.3 193.5M436.4 204.3L434.7 201.3M436.4 211.6L435.1 209.1M436.4 218.8L435.4 216.9M436.4 226L435.6 224.6M436.4 233.3L435.6 232.2M436.4 240.5L435.6 239.9M446 182.6L442.1 178.7M446 189.8L442.5 186.4M446 197.1L443.1 194.2M446 204.3L443.5 201.8M446 211.6L443.9 209.6M446 218.8L444.3 217.3M446 226L444.6 225M446 233.3L444.6 232.5M446 240.5L444.6 240.2M455.5 182.6L450.8 179.6M455.5 189.8L451.4 187.2M455.5 197.1L452 194.9M455.5 204.3L452.4 202.4M455.5 211.6L452.9 210.1M455.5 218.8L453.3 217.6M455.5 226L453.6 225.3M455.5 233.3L453.8 232.7M455.5 240.5L453.8 240.3M465 182.6L459.8 180.7M465 189.8L460.4 188.2M465 197.1L461.1 195.7M465 204.3L461.5 203.1M465 211.6L462.1 210.6M465 218.8L462.4 218M465 226L462.8 225.5M465 233.3L463 232.9M465 240.5L463.1 240.4M474.5 182.6L469 181.9M474.5 189.8L469.6 189.2M474.5 197.1L470.3 196.5M474.5 204.3L470.8 203.8M474.5 211.6L471.4 211.2M474.5 218.8L471.7 218.5M474.5 226L472.1 225.8M474.5 233.3L472.3 233.1M474.5 240.5L472.4 240.5M484 182.6L478.5 183.1M484 189.8L479.2 190.3M484 197.1L479.9 197.4M484 204.3L480.3 204.6M484 211.6L480.9 211.7M484 218.8L481.2 218.9M484 226L481.6 226.1M484 233.3L481.8 233.3M484 240.5L481.9 240.5M493.5 182.6L488.3 184.3M493.5 189.8L488.9 191.3M493.5 197.1L489.6 198.2M493.5 204.3L490.1 205.2M493.5 211.6L490.6 212.3M493.5 218.8L490.9 219.3M493.5 226L491.2 226.4M493.5 233.3L491.4 233.5M493.5 240.5L491.5 240.6M503 182.6L498.4 185.4M503 189.8L499 192.2M503 197.1L499.5 199M503 204.3L500 205.9M503 211.6L500.4 212.7M503 218.8L500.7 219.7M503 226L501 226.6M503 233.3L501.2 233.7M503 240.5L501.2 240.7M512.5 182.6L508.8 186.3M512.5 189.8L509.2 193M512.5 197.1L509.7 199.6M512.5 204.3L510 206.4M512.5 211.6L510.4 213.1M512.5 218.8L510.7 220M512.5 226L510.9 226.8M512.5 233.3L510.9 233.8M512.5 240.5L510.9 240.7"/><path fill="#dfb35a" d="M389.1 174.1L390.4 176.9L387.7 176.9zM389.2 181.2L390.4 184.1L387.7 184zM389.6 188.2L390.7 191.1L388 190.9zM390.5 195L391.4 198L388.7 197.5zM394.5 202.6L394.1 205.7L391.8 204.3zM397.3 214.2L395.5 216.7L394.2 214.4zM396.3 224.5L393.8 226.4L393.3 223.8zM395.4 232.7L392.8 234.3L392.5 231.6zM394.8 240.4L392 241.8L392 239.1zM398.7 174.1L399.9 176.9L397.2 176.8zM398.8 181.4L400 184.3L397.3 184.2zM399.4 188.8L400.4 191.7L397.8 191.4zM400.4 196.3L401.1 199.3L398.4 198.7zM402.2 204.5L402.1 207.6L399.7 206.4zM403.4 213.3L402.5 216.3L400.5 214.5zM404 222.6L402.3 225.2L400.9 222.9zM403.9 231.2L401.8 233.4L400.8 230.9zM403.8 239.7L401.2 241.5L400.8 238.8zM407.6 174.1L409 176.8L406.3 177zM407.8 181.7L409.2 184.4L406.5 184.5zM408.3 189.3L409.5 192.2L406.8 192.1zM409 197L409.9 200L407.3 199.6zM410.1 205.1L410.5 208.2L407.9 207.3zM410.9 213.3L410.7 216.4L408.4 215.1zM411.6 222L410.7 224.9L408.7 223.1zM412 230.4L410.4 233.2L408.9 230.9zM412.2 239.3L410 241.3L409.3 238.8zM415.9 174.3L417.8 176.8L415.1 177.3zM416.2 182L418 184.5L415.3 185zM416.7 189.8L418.3 192.4L415.6 192.7zM417.2 197.5L418.6 200.3L415.9 200.3zM417.9 205.5L419 208.4L416.4 208.1zM418.5 213.4L419.3 216.4L416.6 215.9zM419.2 221.7L419.4 224.8L416.9 223.8zM419.7 230L419.3 232.6L417.4 231.3zM420.3 239L419 240.7L418.1 239.1zM424 174.7L426.3 176.9L423.7 177.8zM424.3 182.5L426.5 184.7L424 185.6zM424.8 190.3L426.9 192.6L424.4 193.4zM425.2 198.1L427.3 200.4L424.7 201.1zM425.8 206L427.7 208.4L425 209zM426.2 213.8L427.9 216.4L425.3 216.8zM426.7 221.9L428 224.3L425.6 224.5zM427 229.9L427.9 232L426 231.9zM427.4 238.5L427.7 239.9L426.6 239.6zM432 175.5L434.7 177.2L432.4 178.6zM432.4 183.3L435 185L432.7 186.4zM432.9 191.1L435.5 192.8L433.2 194.2zM433.3 198.8L435.8 200.6L433.5 201.9zM433.7 206.7L436.3 208.5L433.9 209.8zM434 214.5L436.6 216.3L434.2 217.6zM434.3 222.5L436.6 224L434.6 225.2zM434.4 230.5L436.4 231.6L434.8 232.8zM434.2 239.1L436 239.3L435.2 240.6zM440.1 176.7L443 177.7L441.1 179.6zM440.6 184.4L443.5 185.4L441.6 187.3zM441.1 192.2L444 193.2L442.1 195.1zM441.5 199.8L444.4 200.9L442.5 202.8zM441.9 207.6L444.9 208.6L443 210.6zM442.2 215.4L445.2 216.3L443.4 218.3zM442.4 223.3L445.3 223.9L443.8 226zM442.5 231.3L445.2 231.5L444 233.5zM442.5 239.6L444.8 239.2L444.3 241.2zM448.5 178.1L451.6 178.5L450.1 180.7zM449 185.7L452.1 186.1L450.6 188.4zM449.6 193.4L452.7 193.7L451.3 196zM450 201L453.1 201.3L451.7 203.6zM450.5 208.7L453.6 208.9L452.3 211.3zM450.8 216.3L453.9 216.4L452.6 218.8zM451.1 224.1L454.2 224L453.1 226.5zM451.2 231.9L454.2 231.5L453.4 234zM451.3 239.9L454 239.1L453.6 241.5zM457.2 179.7L460.2 179.4L459.3 182zM457.8 187.2L460.8 186.9L459.9 189.4zM458.4 194.7L461.5 194.4L460.6 197zM458.9 202.2L462 201.9L461.1 204.4zM459.4 209.7L462.5 209.3L461.6 211.9zM459.7 217.3L462.8 216.8L462 219.3zM460.1 224.9L463.1 224.2L462.5 226.8zM460.2 232.5L463.2 231.6L462.8 234.3zM460.4 240.2L463.2 239L463 241.7zM466.2 181.5L469.2 180.5L468.8 183.2zM466.9 188.8L469.8 187.9L469.5 190.5zM467.6 196.2L470.5 195.2L470.2 197.9zM468.1 203.5L471 202.5L470.7 205.2zM468.6 210.8L471.5 209.8L471.2 212.5zM469 218.2L471.9 217.1L471.6 219.8zM469.3 225.6L472.2 224.5L472 227.2zM469.5 232.9L472.4 231.8L472.2 234.5zM469.6 240.4L472.5 239.1L472.4 241.8zM475.7 183.4L478.4 181.8L478.7 184.5zM476.4 190.5L479 188.9L479.3 191.6zM477.1 197.6L479.8 196L480 198.7zM477.6 204.7L480.3 203.2L480.4 205.9zM478.1 211.9L480.8 210.4L480.9 213.1zM478.4 219L481.2 217.6L481.3 220.3zM478.8 226.2L481.5 224.8L481.6 227.5zM479 233.4L481.7 232L481.8 234.7zM479.1 240.6L481.9 239.2L481.9 241.9zM485.7 185.2L487.9 183L488.8 185.6zM486.3 192.1L488.5 190L489.3 192.6zM486.9 199L489.2 196.9L490 199.5zM487.4 206L489.7 203.9L490.4 206.6zM487.8 212.9L490.2 210.9L490.9 213.6zM488.1 219.9L490.6 218L491.2 220.7zM488.4 226.8L491 225.1L491.4 227.7zM488.6 233.8L491.3 232.2L491.5 234.8zM488.7 240.7L491.5 239.3L491.6 242zM496 186.8L497.7 184.2L499.1 186.5zM496.5 193.6L498.3 191L499.6 193.4zM497.1 200.3L498.9 197.8L500.2 200.2zM497.5 207.1L499.3 204.7L500.6 207.1zM497.9 213.9L499.9 211.5L501 214zM498.1 220.7L500.2 218.4L501.2 221zM498.3 227.4L500.6 225.3L501.4 227.9zM498.5 234.2L500.9 232.3L501.5 235zM498.5 240.9L501.1 239.4L501.3 242zM506.8 188.3L507.8 185.4L509.7 187.3zM507.2 194.9L508.3 192L510.1 194zM507.6 201.5L508.8 198.6L510.6 200.6zM507.9 208.2L509.2 205.4L510.9 207.4zM508.2 214.8L509.6 212L511.2 214.2zM508.3 221.5L510 218.9L511.4 221.1zM508.5 228L510.3 225.7L511.5 228zM508.5 234.7L510.5 232.7L511.3 235zM508.5 241.1L510.8 239.6L511.1 241.9z"/>
<rect x="380" y="138.2" width="3.2" height="75.6" fill="#fff" stroke="none"/>
<path fill="none" stroke="#4a4a4a" stroke-width="0.9" d="M361 182.6V138.2H383.2V213.7H380V138.2"/>
<rect x="361" y="135.9" width="158.5" height="116.2" fill="none" stroke="#b4b4b4" stroke-width="0.8"/>
<path stroke="#b4b4b4" stroke-width="0.8" fill="none" d="M361 252.1v-2M361 135.9v2M392.7 252.1v-2M392.7 135.9v2M424.4 252.1v-2M424.4 135.9v2M456.1 252.1v-2M456.1 135.9v2M487.8 252.1v-2M487.8 135.9v2M361 144.5h2M519.5 144.5h-2M361 157.2h2M519.5 157.2h-2M361 169.9h2M519.5 169.9h-2M361 182.6h2M519.5 182.6h-2M361 195.3h2M519.5 195.3h-2M361 208h2M519.5 208h-2M361 220.7h2M519.5 220.7h-2M361 233.4h2M519.5 233.4h-2M361 246.1h2M519.5 246.1h-2"/>
<text x="361" y="261.9" font-size="9" text-anchor="middle" fill="#262626">0</text>
<text x="392.7" y="261.9" font-size="9" text-anchor="middle" fill="#262626">5</text>
<text x="424.4" y="261.9" font-size="9" text-anchor="middle" fill="#262626">10</text>
<text x="456.1" y="261.9" font-size="9" text-anchor="middle" fill="#262626">15</text>
<text x="487.8" y="261.9" font-size="9" text-anchor="middle" fill="#262626">20</text>
<text x="440.2" y="271.7" font-size="9" text-anchor="middle" font-weight="bold" fill="#222">x [m]</text>
<text x="455" y="146.9" font-size="9" text-anchor="start" fill="#222" textLength="59.4" lengthAdjust="spacingAndGlyphs">t=1.74s (=2T/6)</text>
<rect x="522.6" y="135.9" width="5.4" height="116.2" fill="url(#cbg)" stroke="#b4b4b4" stroke-width="0.6"/>
<path stroke="#888" stroke-width="0.6" d="M528 140.6h-1.5"/>
<text x="530.2" y="143.6" font-size="9" text-anchor="start" fill="#262626">4</text>
<path stroke="#888" stroke-width="0.6" d="M528 154h-1.5"/>
<text x="530.2" y="157" font-size="9" text-anchor="start" fill="#262626">3</text>
<path stroke="#888" stroke-width="0.6" d="M528 167.3h-1.5"/>
<text x="530.2" y="170.3" font-size="9" text-anchor="start" fill="#262626">2</text>
<path stroke="#888" stroke-width="0.6" d="M528 180.7h-1.5"/>
<text x="530.2" y="183.7" font-size="9" text-anchor="start" fill="#262626">1</text>
<path stroke="#888" stroke-width="0.6" d="M528 194h-1.5"/>
<text x="530.2" y="197" font-size="9" text-anchor="start" fill="#262626">0</text>
<path stroke="#888" stroke-width="0.6" d="M528 207.4h-1.5"/>
<text x="530.2" y="210.4" font-size="9" text-anchor="start" fill="#262626">-1</text>
<path stroke="#888" stroke-width="0.6" d="M528 220.7h-1.5"/>
<text x="530.2" y="223.7" font-size="9" text-anchor="start" fill="#262626">-2</text>
<path stroke="#888" stroke-width="0.6" d="M528 234.1h-1.5"/>
<text x="530.2" y="237.1" font-size="9" text-anchor="start" fill="#262626">-3</text>
<path stroke="#888" stroke-width="0.6" d="M528 247.5h-1.5"/>
<text x="530.2" y="250.5" font-size="9" text-anchor="start" fill="#262626">-4</text>
<path fill="none" stroke="#4a4a4a" stroke-width="1.2" stroke-dasharray="1.2 1.2" d="M36 328.7l17.4 0"/>
<path fill="none" stroke="#5a5a5a" stroke-width="1.2" stroke-dasharray="1.2 1.2" d="M58.2 321l34.9-0.1l23.7 0.5l20.6 0.8l38.1 2.1l17.4 0.8"/>
<g clip-path="url(#cp3)">
<rect x="34.2" y="322.4" width="161.3" height="65.5" fill="#000046"/>
<path fill="#00004e" d="M35.2 324.2l0-0.4l19.8-0.1l0-0.3l139.5 0l0 63.5l-159.3 0l0-62.7z"/>
<path fill="#000056" d="M55 323.4l139.5 0l0 63.5l-159.3 0l0-61.9l19.8-0.1l0-1.5z"/>
<path fill="#00005e" d="M55.1 323.4l139.4 0l0 63.5l-159.3 0l0-60.7l19.8-0.1l0.1-2.7z"/>
<path fill="#000064" d="M55.1 323.4l139.4 0l0 63.5l-159.3 0l0-59.5l19.8-0.1l0.1-3.9z"/>
<path fill="#00006b" d="M55.1 323.4l139.4 0l0 63.5l-159.3 0l0-58.3l19.8-0.1l0.1-5.1z"/>
<path fill="#000072" d="M55.2 323.4l139.3 0l0 63.5l-159.3 0l0-57l19.8-0.1l0.2-6.4z"/>
<path fill="#000078" d="M55.2 323.4l139.3 0l0 63.5l-159.3 0l0-55.8l19.8-0.1l0.2-7.6z"/>
<path fill="#00007f" d="M55.2 323.4l139.3 0l0 63.5l-159.3 0l0-54.6l19.8-0.1l0.2-8.8z"/>
<path fill="#000086" d="M55.2 323.4l139.3 0l0 63.5l-159.3 0l0-53.4l19.8-0.1l0.2-10z"/>
<path fill="#00008c" d="M55.3 323.4l139.2 0l0 63.5l-159.3 0l0-52.1l19.8-0.2l0.3-11.2z"/>
<path fill="#000093" d="M55.3 323.4l139.2 0l0 63.5l-159.3 0l0-50.9l19.8-0.2l0.3-12.4z"/>
<path fill="#000099" d="M55.3 323.4l139.2 0l0 63.5l-159.3 0l0-49.6l19.8-0.3l0.3-13.6z"/>
<path fill="#0000a0" d="M55.4 323.4l139.1 0l0 63.5l-159.3 0l0-48.4l19.8-0.4l0.4-14.7z"/>
<path fill="#0000a7" d="M55.4 323.4l139.1 0l0 63.5l-159.3 0l0-47.1l19.8-0.5l0.4-15.9z"/>
<path fill="#0001ad" d="M55.4 323.4l139.1 0l0 63.5l-159.3 0l0-45.9l19.8-0.5l0.4-17.1z"/>
<path fill="#0003b2" d="M55.4 323.4l139.1 0l0 63.5l-159.3 0l0-44.6l19.8-0.7l0.4-18.2z"/>
<path fill="#0006b7" d="M55.5 323.4l138.5 0l0.5 0.3l0 63.2l-159.3 0l0-43.3l5.5-0.1l9.6-0.6l4.7-0.1l0.5-19.4z"/>
<path fill="#0008bc" d="M55.5 323.4l133.9 0l5.1 2.7l0 60.8l-159.3 0l0-42l5.5-0.2l9.6-0.7l4.7-0.1l0.5-20.5z"/>
<path fill="#000ac1" d="M55.5 323.4l130.1 0l4.1 2.8l4.8 2.6l0 58.1l-159.3 0l0-40.7l5.5-0.2l9.6-0.8l4.7-0.2l0.5-21.6z"/>
<path fill="#000cc7" d="M55.5 323.4l126.8 0l2.7 2.3l3.2 2.4l3.1 2l3.2 1.6l0 55.2l-159.3 0l0-39.3l5.5-0.2l9.6-1.1l4.7-0.2l0.3-9.2l0.2-13.5z"/>
<path fill="#000ecc" d="M55.6 323.4l123.7 0l4.1 4l3.2 2.6l4.7 3.2l3.2 1.7l0 52l-159.3 0l0-37.9l5.5-0.3l9.6-1.3l4.7-0.2l0.3-8.7l0.3-15.1z"/>
<path fill="#0011d1" d="M55.6 323.4l120.9 0l3.7 4.2l4.8 4.5l4.7 3.5l4.8 2.7l0 48.6l-159.3 0l0-36.5l5.5-0.3l9.6-1.6l4.7-0.3l0.4-9.7l0.2-15.1z"/>
<path fill="#0013d6" d="M55.6 323.4l118.3 0l4.7 6l4.8 4.9l4.8 4l3.1 2.1l3.2 1.8l0 44.7l-159.3 0l0-35l2.4-0.1l3.1-0.3l9.6-1.9l3.1-0.4l1.6 0l0.4-9.1l0.2-16.7z"/>
<path fill="#0015db" d="M55.7 323.4l115.7 0l2.5 3.8l3.2 4.2l4.7 5.4l3.2 3.1l3.2 2.6l3.1 2.2l3.2 1.9l0 40.3l-159.3 0l0-33.4l2.4-0.1l3.1-0.4l11.1-2.7l3.2-0.2l0.4-8.4l0.3-18.3z"/>
<path fill="#0119df" d="M55.7 323.4l113.3 0l1.7 3l3.2 5.1l3.2 4.3l3.1 3.9l3.2 3.4l3.2 2.9l3.1 2.6l4.8 3.2l0 35.1l-159.3 0l0-31.8l2.4-0.1l3.1-0.5l3.2-0.8l7.9-2.5l1.6-0.2l1.6 0l0.5-9.3l0.2-18.3z"/>
<path fill="#0220e1" d="M55.7 323.4l111 0l2.4 4.9l3.2 5.5l3.2 4.9l3.1 4.2l3.2 3.9l4.8 4.9l3.1 2.9l4.8 3.6l0 28.7l-159.3 0l0-30.1l2.4-0.1l3.1-0.5l3.2-0.9l7.9-3.1l1.6-0.4l1.6 0l0.5-8.6l0.2-19.8z"/>
<path fill="#0327e4" d="M55.7 323.4l108.7 0l3.1 7l3.2 6.2l3.2 5.4l3.2 4.9l4.7 6.4l3.2 3.8l4.7 5.2l4.8 4.6l0 20l-159.3 0l0-28.2l4-0.4l3.1-0.8l3.2-1.3l6.3-3.1l1.6-0.5l1.6 0l0.3-3l0.2-4.8l0.2-21.4z"/>
<path fill="#042de6" d="M55.8 323.4l106.5 0l2.1 5.7l2.6 6.2l2.1 4.6l3.2 6.2l4.8 8.2l10 15.9l3.4 6.4l1.9 4.7l0.7 3.2l0.1 2.4l-158 0l0-26.2l2.4-0.1l1.6-0.3l3.1-0.9l1.6-0.7l3.2-1.7l4.7-3.1l1.6-0.7l1.6-0.2l0.1-0.2l0.3-3.2l0.1-4.8l0.3-21.4z"/>
<path fill="#0534e8" d="M55.8 323.4l104.3 0l2.7 8.4l3.7 9.9l4.2 9.7l7.3 15.7l2.5 6.3l1 3.2l0.8 3.2l0.6 3.1l0.2 4l-147.9 0l0-23.8l2.4-0.2l1.6-0.3l3.1-1l1.6-0.8l3.2-1.9l3.2-2.5l2.1-2l1-0.6l1.6-0.5l0.2-0.5l0.4-8l0.2-21.4z"/>
<path fill="#073aea" d="M55.8 323.4l102.2 0l2.3 8.7l2.5 8.3l8.1 23.5l2.4 7.9l1.2 4.8l0.5 3.2l0.4 3.1l0.1 4l-140.3 0l0-21.2l2.4-0.1l1.6-0.4l1.5-0.4l3.2-1.6l3.2-2.2l1.6-1.3l1.6-1.6l3.2-3.7l1.5-0.8l0.4-0.8l0.3-8l0.1-21.4z"/>
<path fill="#0841ec" d="M55.9 323.4l100.1 0l3.2 15.1l6.1 23.8l1.9 7.9l1.3 8l0.4 4.7l0.1 4l-133.8 0l0-17.9l2.4-0.2l3.1-0.9l3.2-1.7l1.6-1.1l3.2-3l1.6-1.8l3.1-4.5l0.7-1.4l0.9-0.5l0.5-1.1l0.2-8l0.2-21.4z"/>
<path fill="#0948ef" d="M55.9 323.4l98 0l2.1 13.5l4.3 23.8l1.3 7.9l1.1 9.6l0.4 8.7l-127.9 0l0-13.6l2.4-0.2l1.6-0.4l1.5-0.7l1.6-0.9l1.6-1.1l3.2-2.8l3.2-3.9l1.5-2.5l1.6-3l1.2-3.4l0.4-0.2l0.6-1.4l0.3-29.4z"/>
<path fill="#0a4ef1" d="M55.9 323.4l96 0l4.6 43.7l0.7 11.1l0.2 8.7l-122.2 0l0-6l0.8 0l1.6-0.4l1.6-0.9l3.1-2.3l3.2-3.2l3.2-4l1.6-2.4l2-3.8l1.1-2.7l0.7-2.1l0.9-3.2l0.2-1.5l0.5-1.6l0.2-29.4z"/>
<path fill="#0b55f3" d="M55.9 323.4l94 0l1.6 37.3l0.4 14.3l0.1 11.9l-105.6 0l0.2-2.4l0.9-3.2l4.3-10l1.6-4.1l1.5-4.9l0.6-3.2l0.4-4.7l0-31z"/>
<path fill="#0c5bf4" d="M56 323.4l91.9 0l-0.2 19.8l-1 31.8l-0.1 11.9l-93.9 0l0.1-2.4l0.4-3.2l2.6-12.7l0.7-4.7l0.3-3.2l0-3.2l-0.3-3.1l-0.5-1.6l0-29.4z"/>
<path fill="#0c61f5" d="M56 323.4l89.9 0l-1.3 19.8l-2.9 30.2l-0.4 6.4l-0.2 7.1l-83.2 0l0.2-5.6l0.6-11.1l0-4.7l-0.3-4.8l-0.5-3.2l-0.8-3.1l-0.5-0.3l-0.5-1.3l-0.1-29.4z"/>
<path fill="#0c67f5" d="M56 323.4l87.9 0l-0.9 8.7l-1.3 9.6l-5.3 31.7l-0.7 6.4l-0.3 7.1l-72.6 0l-0.1-5.6l-0.3-6.3l-0.7-6.4l-0.8-4.7l-1.3-4.8l-1.1-3.2l-0.7-1.5l-1.2-0.7l-0.4-0.9l-0.1-8l-0.1-21.4z"/>
<path fill="#0d6ef6" d="M56 323.4l85.9 0l-1.7 10.3l-1.9 9.5l-2.5 10.2l-3.5 13.7l-1.5 6.3l-1 6.4l-0.3 3.1l-0.2 4l-61.4 0l-0.3-5.6l-0.7-4.7l-1.6-6.4l-1.4-4.7l-1.8-4.8l-1.5-3.2l-2.1-3.1l-1.9-1l-0.2-0.6l-0.3-8l-0.1-21.4z"/>
<path fill="#0d74f6" d="M56.1 323.4l83.7 0l-2.4 11.2l-2.8 10.2l-2.6 8l-6.3 17.4l-1.4 4.8l-1.4 6.3l-0.3 3.2l-0.1 2.4l-48.9 0l-0.1-2.4l-0.4-3.2l-1.3-4.7l-1.8-4.8l-3-6.3l-3.6-6.4l-2.2-3.2l-1.5-1.5l-1.5-1l-1.6-0.3l-0.1-0.3l-0.3-8l-0.1-21.4z"/>
<path fill="#0d7af7" d="M56.1 323.4l81.7 0l-1.8 7.1l-1.7 5.6l-3.8 10.3l-4.2 9.5l-7.9 15.9l-2.8 6.4l-1.3 4.7l-0.3 4l-33.1 0l-0.2-2.4l-0.3-1.6l-0.4-1.6l-1.3-3.1l-2.6-4.8l-4.3-6.3l-4.6-6.4l-4.1-4.8l-1.7-1.5l-1.6-1.1l-1.6-0.7l-1.6 0l-0.4-7.8l-0.1-21.4z"/>
<path fill="#0d80f7" d="M56.1 323.4l79.6 0l-3 9.5l-2.2 5.6l-2.1 4.7l-2.1 4.1l-3.1 5.8l-4.8 7.4l-3.2 4.3l-3.1 4l-3.2 3.6l-3.2 3.3l-3.1 2.7l-1.6 1.2l-1.6 0.9l-1.6 0.5l-1.6 0.1l-1.6-0.3l-1.5-0.7l-1.6-0.9l-4.8-3.6l-6.3-5.6l-13-12.5l-3.7-3.1l-2.4-1.6l-1.5-0.7l-1.6-0.5l-1.6 0l-0.3-8.4l-0.2-19.8z"/>
<path fill="#0d86f8" d="M56.2 323.4l77.5 0l-2.1 5.6l-2.1 5l-3.8 7.7l-2.5 4.3l-3.2 4.7l-4.8 6l-3.1 3.3l-3.2 2.9l-3.2 2.3l-1.6 1l-3.1 1.4l-1.6 0.6l-3.2 0.5l-1.6 0.1l-1.5-0.1l-3.2-0.5l-1.6-0.5l-3.2-1.3l-3.1-1.6l-3.2-1.9l-12.1-8.5l-2.5-1.6l-2.8-1.4l-1.6-0.5l-1.6-0.3l-1.6 0l-0.3-8.9l-0.1-18.3z"/>
<path fill="#0e8df8" d="M56.2 323.4l75.3 0l-3.6 8.1l-1.9 3.8l-2.8 4.7l-2.2 3.2l-2.6 3.5l-4.7 5.4l-4.8 4.1l-3.2 2.2l-3.1 1.7l-3.2 1.2l-1.6 0.4l-1.6 0.3l-3.1 0.3l-1.6-0.1l-3.2-0.3l-4.8-1.3l-3.1-1.3l-3.2-1.5l-9.3-5l-3.4-1.7l-3.1-1.2l-1.6-0.4l-1.6-0.2l-1.6 0l-0.3-9.2l-0.1-16.7z"/>
<path fill="#0e93f9" d="M56.2 323.4l73.2 0l-3.6 7.1l-4.2 6.8l-2.1 2.8l-2.7 3.3l-4.7 4.8l-4.8 3.8l-4.7 2.7l-1.6 0.7l-3.2 1.1l-3.2 0.6l-3.1 0.3l-4.8-0.3l-4.7-1.1l-4.8-1.6l-12.7-5.1l-3.1-0.9l-1.6-0.3l-3.2-0.1l-0.2-7.9l-0.2-16.7z"/>
<path fill="#0d99f9" d="M56.2 323.4l70.9 0l-3.9 6.9l-2.4 3.4l-2.4 3.2l-4.7 5.2l-4.8 4.1l-4.8 3.1l-4.7 2.2l-4.8 1.3l-3.1 0.4l-3.2 0.1l-4.8-0.4l-4.7-1l-12.4-3.9l-3.5-0.9l-3.1-0.5l-3.2-0.1l-0.4-23.1z"/>
<path fill="#0ca0f9" d="M56.3 323.4l68.6 0l-3.3 5.1l-4.8 6.1l-4.7 4.9l-4.8 3.7l-4.7 2.9l-4.8 2l-4.7 1.2l-3.2 0.4l-3.2 0.1l-3.2-0.2l-4.7-0.6l-12.7-3l-3.2-0.6l-3.1-0.4l-3.2-0.1l-0.3-21.5z"/>
<path fill="#0ba7f9" d="M56.3 323.4l66.2 0l-4.1 5.6l-3.2 3.6l-4.7 4.5l-4.8 3.5l-4.7 2.6l-4.8 1.9l-4.7 1.1l-3.2 0.4l-3.2 0.1l-3.1-0.1l-4.8-0.5l-14.3-2.5l-3.1-0.3l-3.2 0l-0.3-19.9z"/>
<path fill="#09aef9" d="M56.3 323.4l63.8 0l-3.3 4l-4.7 4.9l-4.8 3.8l-4.7 3l-4.8 2.2l-4.7 1.5l-4.8 0.8l-4.8 0.3l-6.3-0.3l-14.3-1.8l-6.3-0.2l-0.3-18.2z"/>
<path fill="#08b5f9" d="M56.4 323.4l61.1 0l-3.8 4.2l-4.8 4.2l-3.2 2.3l-4.7 2.7l-4.8 2l-4.7 1.4l-4.8 0.8l-6.3 0.3l-4.8-0.2l-12.7-1.1l-6.3-0.2l-0.2-16.4z"/>
<path fill="#07bcfa" d="M56.4 323.4l58.4 0l-4.3 4.1l-3.2 2.5l-4.7 3.1l-4.8 2.3l-4.7 1.7l-4.8 1.1l-4.8 0.5l-4.7 0.2l-4.8-0.1l-12.6-0.8l-4.8 0l-0.2-14.6z"/>
<path fill="#05c3fa" d="M56.4 323.4l55.6 0l-3.1 2.6l-4.8 3.4l-4.7 2.6l-4.8 1.9l-4.7 1.4l-4.8 0.9l-4.7 0.4l-4.8 0.1l-19-0.6l-0.2-12.7z"/>
<path fill="#04cafa" d="M56.4 323.4l52.5 0l-4.8 3.4l-3.1 1.8l-3.2 1.5l-4.7 1.8l-4.8 1.3l-4.8 0.8l-4.7 0.4l-4.8 0.1l-17.4-0.3l-0.2-10.8z"/>
<path fill="#03d1fa" d="M56.5 323.4l49 0l-4.5 2.8l-3.2 1.5l-4.7 1.9l-3.2 0.9l-3.2 0.7l-4.7 0.8l-4.8 0.3l-6.3 0.2l-14.3-0.1l-0.1-9z"/>
<path fill="#01d7fa" d="M56.5 323.4l45.3 0l-4 2l-3.2 1.3l-3.1 1.1l-4.8 1.2l-3.2 0.6l-4.7 0.5l-4.8 0.3l-6.3 0.1l-11.1 0l-0.1-7.1z"/>
<path fill="#01defa" d="M56.5 323.4l40.8 0l-4.2 1.7l-3.2 1l-6.4 1.4l-3.1 0.4l-4.8 0.4l-11.1 0.3l-7.9 0l-0.1-5.2z"/>
<path fill="#10e0fa" d="M56.6 323.4l35.2 0l-3.5 1l-3.2 0.7l-6.3 0.9l-7.9 0.5l-12.7 0.1l-1.6 0l0-3.2z"/>
<path fill="#1fe2fa" d="M56.6 323.4l27 0l-4.8 0.7l-4.8 0.4l-6.3 0.2l-9.5 0l-1.6 0l0-1.3z"/>
<path fill="none" stroke="#d6dcc0" stroke-width="0.65" d="M35.2 325l19.8-0.1l0-1.5M35.2 327.7l19.8-0.1l0.1-4.2M35.2 330.4l19.8-0.2l0.2-6.8M35.2 333.1l19.8-0.2l0.2-9.5M35.2 335.8l19.8-0.3l0.3-12.1M35.2 338.5l19.8-0.4l0.4-14.7M35.2 341.3l19.8-0.6l0.4-17.3M192 323.4l2.5 1.2M35.2 344.1l5.5-0.1l9.6-0.7l4.7-0.1l0.5-19.8M183.6 323.4l3 2.4l3.1 2.1l4.8 2.6M35.2 347.1l5.5-0.3l9.6-1l4.7-0.1l0.3-8.8l0.2-13.5M177.1 323.4l3.1 3.5l4.8 4.5l4.7 3.5l4.8 2.7M35.2 350.1l5.5-0.3l9.6-1.5l4.7-0.3l0.4-9.5l0.2-15.1M171.4 323.4l2.5 3.8l3.2 4.2l4.7 5.4l3.2 3.1l3.2 2.6l3.1 2.2l3.2 1.9M35.2 353.5l2.4-0.1l3.1-0.4l11.1-2.7l3.2-0.2l0.4-8.4l0.3-18.3M166.2 323.4l2.9 5.9l3.2 5.5l3.2 4.9l3.1 4.4l3.2 3.9l4.8 5l4.7 4.3l3.2 2.4M35.2 357.2l2.4-0.1l3.1-0.6l3.2-0.9l7.9-3.3l1.6-0.3l1.6 0l0.3-4l0.2-4.8l0.2-19.8M161.4 323.4l3.8 10.3l3.9 9.1l4.8 9.5l9 16.3l3 6.4l1.2 3.2l0.9 3.1l0.5 3.2l0.1 2.4M35.2 361.6l2.4-0.1l1.6-0.3l3.1-1l3.2-1.5l1.6-1l4.6-3.3l1.7-0.9l1.6-0.4l0.3-1.9l0.2-4.8l0.3-23M156.8 323.4l2 8.7l2 8l6.5 22.2l2.1 7.9l1 4.8l0.7 4.8l0.3 3.1l0.1 4M35.2 367.6l2.4-0.2l3.1-0.8l3.2-1.7l1.6-1.1l3.2-2.7l1.6-1.8l3.1-4l0.4-0.9l1.2-0.7l0.4-0.9l0.2-3.2l0.2-26.2M152.3 323.4l5.1 43.7l0.9 11.1l0.2 8.7M35.2 378.7l0.8 0l1.6-0.3l1.6-0.6l1.5-0.9l1.6-1.2l3.2-2.9l3.2-3.8l1.6-2.4l1.5-2.8l1.6-3.4l1-2.9l0.7-3.1l0.6-1.6l0.2-29.4M147.9 323.4l-0.2 19.8l-1 31.8l-0.1 11.9M52.7 386.9l0.1-2.4l0.4-3.2l2.6-12.7l0.7-4.7l0.3-3.2l0-3.2l-0.3-3.1l-0.5-1.6l0-29.4M143.5 323.4l-1.2 10.3l-1.5 9.5l-4.5 23.9l-1 6.3l-0.7 6.4l-0.4 7.1M63.8 386.9l-0.1-5.6l-0.4-4.7l-0.7-6.4l-0.9-4.7l-1.2-4.8l-1.1-3.2l-1.5-3.1l-1.3-0.7l-0.3-0.9l-0.2-8l-0.1-21.4M139 323.4l-2.4 10.3l-3.4 11.1l-3.7 10.1l-6.3 15.3l-2.2 6.4l-1.1 4.7l-0.4 3.2l-0.1 2.4M76.2 386.9l-0.3-4l-1.3-4.7l-1.2-3.2l-1.5-3.2l-3.5-6.3l-3-4.8l-3.5-4.8l-1.5-1.5l-0.6-0.5l-1.6-0.8l-1.6-0.2l-0.1-0.1l-0.3-8l-0.1-21.4M134.5 323.4l-3.4 9.4l-1.6 3.7l-2.4 5.2l-2.3 4.2l-2.2 3.7l-2.6 3.9l-3.2 4.2l-3.1 3.8l-3.2 3.2l-3.2 2.8l-1.6 1.1l-1.6 1.1l-3.1 1.6l-3.2 0.9l-1.6 0.1l-1.6 0l-3.1-0.5l-3.2-1.1l-3.2-1.6l-3.1-2l-3.2-2.2l-11.3-9l-2.1-1.5l-2.5-1.6l-3.1-1.4l-1.6-0.4l-1.6 0l-0.3-7.8l-0.2-19.8M129.8 323.4l-3.5 7.1l-1.8 3.2l-2.9 4.5l-4.8 6.2l-4.7 4.8l-4.8 3.8l-3.2 1.9l-1.5 0.8l-3.2 1.3l-1.6 0.4l-3.2 0.7l-3.1 0.2l-4.8-0.4l-4.7-1.1l-4.8-1.7l-8.8-3.9l-4-1.6l-3-0.9l-1.6-0.3l-3.2-0.2l-0.2-8.1l-0.2-16.7M124.9 323.4l-3.3 5.1l-4.8 6.1l-4.7 4.9l-4.8 3.7l-4.7 2.9l-4.8 2l-4.7 1.2l-3.2 0.4l-3.2 0.1l-3.2-0.2l-4.7-0.6l-12.7-3l-3.2-0.6l-3.1-0.4l-3.2-0.1l-0.3-21.5M119.6 323.4l-4.4 5.1l-3.1 3.1l-4.8 3.9l-4.7 2.9l-4.8 2.3l-4.7 1.5l-4.8 0.8l-3.2 0.3l-3.1 0.1l-6.4-0.4l-12.7-1.5l-6.3-0.3l-0.3-17.8M113.7 323.4l-3.2 3l-4.8 3.6l-4.7 2.8l-4.8 2.1l-4.7 1.5l-4.8 1l-4.7 0.5l-4.8 0.1l-14.3-0.6l-6.3-0.2l-0.2-13.8M106.9 323.4l-4.3 2.8l-3.2 1.7l-3.2 1.5l-4.7 1.6l-4.8 1.1l-4.7 0.7l-4.8 0.4l-4.8 0.1l-15.8-0.2l-0.1-9.7M98.3 323.4l-3.7 1.6l-3.1 1l-3.2 0.9l-4.8 1l-7.9 0.8l-11.1 0.2l-7.9 0l-0.1-5.5M83.6 323.4l-4.8 0.7l-4.8 0.4l-6.3 0.2l-9.5 0l-1.6 0l0-1.3M126.7 323.4l2.8 1.4l3.2 1.3l4.7 1.5l4.8 0.9l3.2 0.3l3.1 0.1l3.2-0.2l3.2-0.4l4.7-1l4.8-1.6l4.8-2.3M113.8 323.4l3 2.9l4.8 3.7l4.7 3l3.2 1.5l4.8 1.9l4.7 1.2l4.8 0.8l4.7 0.2l4.8-0.2l4.7-0.8l4.8-1.3l4.7-1.9l4.8-2.6l3.2-2.1l3.1-2.6l3.7-3.7M104 323.4l1.7 2.7l3.2 4.4l4.8 5.4l4.7 4.4l4.8 3.4l3.1 1.8l3.2 1.5l3.2 1.3l3.1 0.9l3.2 0.8l3.2 0.5l6.3 0.5l4.8-0.2l3.2-0.4l3.1-0.5l3.2-0.8l3.2-1.1l3.1-1.2l4.8-2.5l3.2-2.1l2.6-2.1l2.1-2l2.7-2.8l3.7-4.8l2-3.1l2.3-4M95.4 323.4l4 9.1l2.2 4.4l2.5 4.7l4.1 6.4l3.9 4.8l1.6 1.6l3.1 2.9l3.2 2.3l3.2 1.8l3.1 1.5l3.2 1.2l3.2 0.9l3.1 0.7l4.8 0.8l4.8 0.4l4.7 0.1l4.8-0.2l4.7-0.4l4.8-0.9l4.7-1.2l3.2-1l3.2-1.3l3.1-1.7l3.2-2l1.6-1.2l3.1-2.7l1.7-1.8l2.4-3l2.3-3.6l1.6-1.3M87.5 323.4l5.1 21.4l1.5 8l1 6.3l1 9.5l0.6 9.6l0.2 7.9l-0.7 0.8l-60.2 0l-0.8-0.8l0-34.9M80 323.4l1.1 10.3l0.4 6.4l-0.1 6.3l-0.7 4.8l-1.2 4.7l-1.4 3.2l-0.9 1.6l-2.4 3.2l-1.6 1.6l-2.1 1.6l-1.8 1l-3.2 1.4l-1.6 0.5l-3.1 0.5l-3.2 0.1l-1.6-0.2l-3.2-0.7l-1.6-0.6l-1.5-0.9l-1.6-1.1l-1.6-1.4l-1.6-1.8l-1.1-1.6l-0.8-1.6l-1.3-3.2l-0.9-3.1l-0.6-3.2M72.5 323.4l0.4 11.9l-0.2 4.8l-0.6 4.7l-1.2 4.8l-1.3 3.2l-1.9 3l-1.6 1.7l-1.9 1.6l-1.3 0.8l-1.5 0.8l-1.6 0.5l-1.6 0.2l-1.6 0l-1.6-0.2l-1.6-0.5l-1.6-0.8l-1.5-1.2l-1.2-1.2l-1.1-1.6l-0.8-1.5l-1.1-3.2M65.2 323.4l0 10.3l-0.5 8l-0.4 3.1l-0.6 3.2l-1.1 3.2l-0.7 1.6l-1.1 1.6l-1 0.9l-1.1 0.6l-0.5 0.3l-1.6 0.4l-1.6-0.1l-1.6-0.7l-1.6-1.4l-0.8-1.6l-0.5-1.6M58.7 323.4l-0.1 18.3l-0.1 4.7l-0.3 3.8l-0.5 1l-0.6 1.6l-0.5 0.3l-1.6 0l-0.4-0.3l-0.3-1.6"/>
</g>
<g clip-path="url(#cp3)"><path fill="none" stroke="#dfe2dc" stroke-width="1.0" stroke-dasharray="1.0 1.4" d="M58.2 321l34.9-0.1l23.7 0.5l20.6 0.8l38.1 2.1l17.4 0.8"/></g>
<path fill="none" stroke="#4a4a4a" stroke-width="1.2" stroke-dasharray="1.2 1.2" d="M36 328.7l17.4 0"/>
<path fill="none" stroke="#dfb35a" stroke-width="0.8" d="M38.1 323.4L38.1 328.8M38.1 330.6L38.1 336M38.1 337.9L38.1 343.1M38.1 345.1L38.2 349.9M38.1 352.4L38.3 356.1M38.1 359.6L38.3 361.8M38.1 366.8L38.3 368.1M38.1 374.1L38.2 374.8M45.7 323.4L45.7 328.8M45.7 330.6L45.7 336.1M45.7 337.9L45.8 343.3M45.7 345.1L46.1 350.5M45.7 352.4L47.1 357M45.7 359.6L47.2 362.2M45.7 366.8L46.6 367.9M45.7 374.1L46.3 374.7M45.7 381.3L46.2 381.5M53.3 359.6L57.7 361.5M53.3 366.8L54.7 367.4M53.3 374.1L54.3 374.4M53.3 381.3L54.1 381.4"/><path fill="#dfb35a" d="M38.1 331.6L36.7 328.8L39.4 328.8zM38.1 338.8L36.7 336L39.4 336zM38.1 345.9L36.8 343.1L39.5 343.1zM38.3 352.7L36.8 350L39.5 349.9zM38.5 358.8L37 356.2L39.7 356zM38.6 364.6L37 362L39.7 361.7zM38.6 369.9L37.4 368.2L39.2 367.9zM38.5 376L37.7 374.9L38.8 374.7zM45.7 331.6L44.3 328.8L47 328.8zM45.7 338.9L44.4 336.1L47.1 336.1zM45.9 346.1L44.5 343.4L47.2 343.3zM46.4 353.3L44.8 350.7L47.5 350.4zM47.9 359.7L45.8 357.4L48.4 356.6zM48.6 364.6L46 362.9L48.4 361.5zM47.9 369.5L45.8 368.6L47.3 367.3zM47.3 375.6L45.9 375.2L46.8 374.2zM47 381.9L46 381.9L46.3 381.2zM60.3 362.6L57.2 362.8L58.2 360.3zM56.9 368.1L54.4 368.4L55.1 366.3zM55.8 374.8L54.1 375.1L54.5 373.6zM55.2 381.6L54 382L54.1 380.9z"/>
<path fill="none" stroke="#dfb35a" stroke-width="0.8" d="M63.1 323.4L63.1 317.4M63.1 330.6L63.1 324.7M63.1 337.9L63.4 331.8M63.1 345.1L64 338.8M63.1 352.4L66.7 346.1M63.1 359.6L68.4 356.4M63.1 366.8L67.2 365.8M63.1 374.1L66.3 373.7M63.1 381.3L65.6 381.2M72.6 323.4L72.3 317.5M72.6 330.6L72.5 324.9M72.6 337.9L72.9 332.4M72.6 345.1L73.5 339.9M72.6 352.4L74.6 347.9M72.6 359.6L75.2 356.3M72.6 366.8L75.2 364.9M72.6 374.1L74.9 373M72.6 381.3L74.5 380.9M82.1 323.4L81.3 317.6M82.1 330.6L81.4 325.2M82.1 337.9L81.8 333M82.1 345.1L82.3 340.6M82.1 352.4L82.8 348.6M82.1 359.6L83.2 356.7M82.1 366.8L83.3 365M82.1 374.1L83.4 372.9M82.1 381.3L83.5 380.8M91.6 323.4L89.9 317.9M91.6 330.6L90.2 325.6M91.6 337.9L90.6 333.5M91.6 345.1L90.9 341.2M91.6 352.4L91.4 349.2M91.6 359.6L91.6 357.1M91.6 366.8L91.9 365.1M91.6 374.1L92.1 372.7M91.6 381.3L92.3 380.6M101.1 323.4L98.4 318.4M101.1 330.6L98.8 326.1M101.1 337.9L99.2 334M101.1 345.1L99.6 341.7M101.1 352.4L100 349.7M101.1 359.6L100.3 357.5M101.1 366.8L100.6 365.3M101.1 374.1L100.6 372.8M101.1 381.3L100.6 380.6M110.6 323.4L107 319.1M110.6 330.6L107.4 326.8M110.6 337.9L107.9 334.6M110.6 345.1L108.3 342.3M110.6 352.4L108.8 350.1M110.6 359.6L109.1 357.9M110.6 366.8L109.4 365.6M110.6 374.1L109.4 373.1M110.6 381.3L109.4 380.9M120.2 323.4L115.6 320M120.2 330.6L116.2 327.6M120.2 337.9L116.8 335.3M120.2 345.1L117.2 342.9M120.2 352.4L117.7 350.6M120.2 359.6L118.1 358.2M120.2 366.8L118.5 365.9M120.2 374.1L118.5 373.4M120.2 381.3L118.6 381M129.7 323.4L124.5 321M129.7 330.6L125.1 328.6M129.7 337.9L125.8 336.1M129.7 345.1L126.3 343.6M129.7 352.4L126.8 351.2M129.7 359.6L127.2 358.7M129.7 366.8L127.5 366.2M129.7 374.1L127.8 373.7M129.7 381.3L127.9 381.1M139.2 323.4L133.6 322.2M139.2 330.6L134.3 329.6M139.2 337.9L135 337M139.2 345.1L135.5 344.4M139.2 352.4L136 351.7M139.2 359.6L136.4 359.1M139.2 366.8L136.8 366.5M139.2 374.1L137 373.8M139.2 381.3L137.1 381.2M148.7 323.4L143.1 323.5M148.7 330.6L143.7 330.7M148.7 337.9L144.4 337.9M148.7 345.1L144.9 345.1M148.7 352.4L145.5 352.3M148.7 359.6L145.8 359.6M148.7 366.8L146.2 366.8M148.7 374.1L146.4 374M148.7 381.3L146.5 381.3M158.2 323.4L152.8 324.7M158.2 330.6L153.4 331.7M158.2 337.9L154.1 338.8M158.2 345.1L154.6 345.8M158.2 352.4L155.1 352.9M158.2 359.6L155.4 360M158.2 366.8L155.8 367.1M158.2 374.1L156 374.2M158.2 381.3L156.1 381.4M167.7 323.4L162.8 325.9M167.7 330.6L163.3 332.7M167.7 337.9L164 339.6M167.7 345.1L164.4 346.5M167.7 352.4L164.9 353.4M167.7 359.6L165.2 360.4M167.7 366.8L165.5 367.4M167.7 374.1L165.7 374.4M167.7 381.3L165.8 381.4M177.2 323.4L173.1 326.9M177.2 330.6L173.5 333.6M177.2 337.9L174.1 340.3M177.2 345.1L174.4 347.1M177.2 352.4L174.9 353.8M177.2 359.6L175.1 360.7M177.2 366.8L175.4 367.6M177.2 374.1L175.5 374.6M177.2 381.3L175.5 381.5M186.7 323.4L183.6 327.7M186.7 330.6L183.9 334.3M186.7 337.9L184.3 340.8M186.7 345.1L184.6 347.6M186.7 352.4L185 354.2M186.7 359.6L185.2 361M186.7 366.8L185.3 367.8M186.7 374.1L185.3 374.8M186.7 381.3L185.3 381.6"/><path fill="#dfb35a" d="M63.1 314.6L64.4 317.4L61.7 317.4zM63.2 321.9L64.5 324.7L61.8 324.7zM63.6 329L64.8 331.9L62.1 331.8zM64.4 336L65.4 339L62.7 338.6zM68.1 343.6L67.9 346.7L65.5 345.4zM70.8 355L69.1 357.6L67.7 355.3zM69.9 365.2L67.5 367.1L66.8 364.5zM69 373.3L66.4 375L66.1 372.3zM68.4 381.1L65.7 382.6L65.6 379.9zM72.2 314.7L73.7 317.4L71 317.5zM72.4 322.1L73.8 324.9L71.1 325zM73.1 329.6L74.3 332.5L71.6 332.3zM74 337.2L74.8 340.1L72.2 339.7zM75.7 345.4L75.8 348.5L73.3 347.4zM76.9 354.1L76.2 357.1L74.1 355.4zM77.4 363.3L76 366L74.4 363.8zM77.4 371.8L75.4 374.2L74.3 371.8zM77.3 380.4L74.8 382.3L74.3 379.6zM80.8 314.8L82.6 317.4L79.9 317.8zM81.1 322.5L82.8 325.1L80.1 325.4zM81.7 330.2L83.2 332.9L80.5 333zM82.4 337.9L83.6 340.7L80.9 340.6zM83.4 345.9L84.2 348.9L81.5 348.4zM84.2 354L84.5 357.1L81.9 356.2zM84.9 362.6L84.5 365.7L82.2 364.2zM85.3 371L84.3 373.8L82.5 371.9zM85.6 380L83.9 381.8L83.1 379.8zM89.1 315.2L91.2 317.5L88.6 318.3zM89.4 322.9L91.5 325.2L88.9 326zM89.9 330.7L91.9 333.1L89.3 333.8zM90.4 338.5L92.3 341L89.6 341.4zM91.1 346.4L92.7 349.1L90 349.3zM91.7 354.3L93 357.1L90.3 357.1zM92.3 362.5L93.1 365.3L90.6 364.9zM92.7 370.7L93 373L91.1 372.4zM93.3 379.5L92.8 381.1L91.8 380.1zM97.1 315.9L99.6 317.7L97.2 319zM97.5 323.7L100 325.5L97.6 326.8zM98 331.5L100.4 333.4L98 334.6zM98.4 339.2L100.8 341.2L98.4 342.3zM99 347.1L101.3 349.1L98.8 350.2zM99.3 354.9L101.6 357L99.1 358zM99.7 362.9L101.7 364.9L99.4 365.7zM99.8 371L101.5 372.5L99.7 373.2zM99.7 379.6L101.1 380.2L100.1 381zM105.2 316.9L108 318.2L105.9 319.9zM105.6 324.7L108.4 325.9L106.4 327.7zM106.2 332.5L109 333.8L106.9 335.5zM106.6 340.1L109.4 341.5L107.3 343.2zM107 348L109.8 349.3L107.8 351zM107.3 355.7L110.2 357L108.1 358.7zM107.6 363.7L110.3 364.7L108.5 366.5zM107.6 371.7L110.1 372.3L108.8 374zM107.6 380.2L109.7 380L109.1 381.8zM113.4 318.3L116.5 318.9L114.8 321zM113.9 325.9L117 326.6L115.4 328.7zM114.5 333.7L117.6 334.3L116 336.4zM115 341.3L118 341.9L116.4 344zM115.4 349L118.5 349.5L116.9 351.7zM115.7 356.7L118.8 357.1L117.3 359.4zM116 364.6L119.1 364.7L117.8 367.1zM116.1 372.5L119 372.3L118.1 374.6zM116.2 380.6L118.8 379.9L118.4 382.2zM122 319.9L125.1 319.8L124 322.3zM122.6 327.4L125.7 327.3L124.6 329.8zM123.2 335L126.3 334.9L125.2 337.4zM123.7 342.5L126.8 342.4L125.7 344.9zM124.2 350.1L127.3 349.9L126.3 352.4zM124.5 357.7L127.6 357.4L126.7 359.9zM124.8 365.4L127.9 364.9L127.1 367.5zM125 373L128 372.3L127.5 375zM125.1 380.9L128 379.8L127.7 382.4zM130.9 321.7L133.9 320.9L133.4 323.6zM131.5 329L134.6 328.3L134 330.9zM132.2 336.4L135.3 335.7L134.7 338.3zM132.7 343.8L135.8 343L135.2 345.7zM133.3 351.2L136.3 350.4L135.8 353.1zM133.6 358.6L136.6 357.8L136.2 360.4zM134 366.1L137 365.2L136.6 367.8zM134.2 373.6L137.1 372.5L136.8 375.2zM134.3 381.1L137.2 379.9L137.1 382.6zM140.3 323.5L143 322.1L143.1 324.8zM140.9 330.7L143.7 329.3L143.7 332zM141.6 337.9L144.4 336.5L144.4 339.2zM142.1 345.1L144.9 343.8L144.9 346.5zM142.7 352.3L145.5 351L145.4 353.7zM143 359.5L145.8 358.2L145.8 360.9zM143.4 366.8L146.2 365.5L146.2 368.2zM143.6 374L146.4 372.7L146.4 375.4zM143.7 381.3L146.5 380L146.5 382.7zM150 325.4L152.5 323.4L153.1 326zM150.7 332.4L153.1 330.4L153.7 333.1zM151.3 339.3L153.8 337.4L154.4 340.1zM151.8 346.4L154.3 344.5L154.8 347.2zM152.3 353.4L154.9 351.6L155.3 354.2zM152.7 360.4L155.2 358.7L155.6 361.3zM153 367.4L155.6 365.8L155.9 368.4zM153.2 374.5L155.9 372.9L156.1 375.6zM153.3 381.5L156.1 380L156.1 382.7zM160.3 327.1L162.2 324.7L163.4 327.1zM160.8 333.9L162.8 331.5L163.9 334zM161.4 340.7L163.4 338.3L164.5 340.8zM161.8 347.6L163.9 345.3L164.9 347.7zM162.3 354.4L164.4 352.1L165.3 354.7zM162.5 361.2L164.8 359.1L165.6 361.7zM162.8 368L165.2 366.1L165.8 368.7zM162.9 374.9L165.5 373.1L165.9 375.7zM163 381.7L165.7 380.1L165.9 382.8zM170.9 328.7L172.2 325.9L173.9 327.9zM171.4 335.4L172.7 332.6L174.4 334.7zM171.8 342L173.2 339.2L174.9 341.3zM172.2 348.7L173.7 346L175.2 348.2zM172.5 355.3L174.1 352.7L175.6 355zM172.7 362.1L174.5 359.5L175.8 361.9zM172.8 368.7L174.9 366.3L176 368.8zM172.9 375.3L175.1 373.3L175.9 375.8zM173 381.8L175.4 380.3L175.7 382.7zM181.9 330L182.5 326.9L184.7 328.5zM182.2 336.5L182.9 333.5L185 335.1zM182.6 343L183.3 340L185.4 341.7zM182.8 349.7L183.6 346.7L185.7 348.4zM183 356.2L184 353.2L185.9 355.1zM183.1 362.8L184.3 360L186.1 362zM183.2 369.3L184.6 366.8L186 368.8zM183.2 375.8L184.8 373.7L185.8 375.8zM183.1 382.1L185.1 380.6L185.5 382.7z"/>
<rect x="54.2" y="278.9" width="3.2" height="75.6" fill="#fff" stroke="none"/>
<path fill="none" stroke="#4a4a4a" stroke-width="0.9" d="M35.2 323.4V278.9H57.4V354.5H54.2V278.9"/>
<rect x="35.2" y="276.7" width="158.5" height="116.2" fill="none" stroke="#b4b4b4" stroke-width="0.8"/>
<path stroke="#b4b4b4" stroke-width="0.8" fill="none" d="M35.2 392.9v-2M35.2 276.7v2M66.9 392.9v-2M66.9 276.7v2M98.6 392.9v-2M98.6 276.7v2M130.3 392.9v-2M130.3 276.7v2M162 392.9v-2M162 276.7v2M35.2 285.3h2M193.7 285.3h-2M35.2 298h2M193.7 298h-2M35.2 310.7h2M193.7 310.7h-2M35.2 323.4h2M193.7 323.4h-2M35.2 336.1h2M193.7 336.1h-2M35.2 348.8h2M193.7 348.8h-2M35.2 361.5h2M193.7 361.5h-2M35.2 374.2h2M193.7 374.2h-2M35.2 386.9h2M193.7 386.9h-2"/>
<text x="35.2" y="402.7" font-size="9" text-anchor="middle" fill="#262626">0</text>
<text x="66.9" y="402.7" font-size="9" text-anchor="middle" fill="#262626">5</text>
<text x="98.6" y="402.7" font-size="9" text-anchor="middle" fill="#262626">10</text>
<text x="130.3" y="402.7" font-size="9" text-anchor="middle" fill="#262626">15</text>
<text x="162" y="402.7" font-size="9" text-anchor="middle" fill="#262626">20</text>
<text x="114.4" y="412.5" font-size="9" text-anchor="middle" font-weight="bold" fill="#222">x [m]</text>
<text x="129.8" y="287.7" font-size="9" text-anchor="start" fill="#222" textLength="58.6" lengthAdjust="spacingAndGlyphs">t=2.61s (=3T/6)</text>
<text x="32.2" y="301.6" font-size="9" text-anchor="end" fill="#262626">4</text>
<text x="32.2" y="327" font-size="9" text-anchor="end" fill="#262626">0</text>
<text x="32.2" y="352.4" font-size="9" text-anchor="end" fill="#262626">-4</text>
<text x="32.2" y="377.8" font-size="9" text-anchor="end" fill="#262626">-8</text>
<text transform="translate(19.8 335.5) rotate(-90)" font-size="9" text-anchor="middle" font-weight="bold" fill="#222">z [m]</text>
<path fill="none" stroke="#4a4a4a" stroke-width="1.2" stroke-dasharray="1.2 1.2" d="M198.6 331.7l17.4 0"/>
<path fill="none" stroke="#5a5a5a" stroke-width="1.2" stroke-dasharray="1.2 1.2" d="M220.8 318.6l19 0l11.1 0.2l11.1 0.3l11.1 0.6l19 1.5l44.4 4.5l9.5 0.7l9.5 0.6"/>
<g clip-path="url(#cp4)">
<rect x="196.8" y="322.4" width="161.3" height="65.5" fill="#0841ec"/>
<path fill="#0948ef" d="M197.8 323.4l94.2 0l3.3 1.1l3.1 0.7l4.8 0.6l3.2 0.1l3.1-0.1l3.2-0.5l3.2-0.7l3.7-1.2l37.5 0l0 63.5l-159.3 0l0-63.5z"/>
<path fill="#0a4ef1" d="M197.8 323.4l70.8 0l4.5 4.9l4.7 4.3l4.8 3.6l4.8 2.9l4.7 2.3l4.8 1.6l4.7 1l4.8 0.4l4.7-0.3l4.8-1.1l4.7-1.7l4.8-2.5l4.7-3.3l3.2-2.6l4.8-4.8l3.8-4.7l15.2 0l0 63.5l-159.3 0l0-63.5z"/>
<path fill="#0b55f3" d="M197.8 323.4l54.1 0l1.7 4l1.6 3.1l2 3.5l2.9 4.5l5.1 7.3l13.3 18.1l3.2 4.7l1.9 3.2l2.4 4.8l1.3 3.2l0.8 3.1l0.3 4l-90.6 0l0-63.5zM356.4 323.4l0.7 0l0 63.5l-26.8 0l0.1-2.4l0.5-3.2l0.8-3.1l1.2-3.2l2.9-6.4l8.6-16.2l4.8-9.8l3.7-8.9l3.5-10.3z"/>
<path fill="#0c5bf4" d="M197.8 323.4l33.9 0l0.2 2.4l0.4 1.6l1.3 3.1l1.7 3.2l6.1 9.4l3.9 6.5l3.3 6.3l2.7 6.4l2.1 6.3l1.5 6.4l1 6.3l0.2 5.6l-58.3 0l0-63.5z"/>
<path fill="#0c61f5" d="M197.8 323.4l21.3 0l0.1 24.6l1.6 0l1.6 0.2l1.6 0.6l1.5 0.9l1.6 1.2l1.8 1.9l1.1 1.6l1.8 3.1l1.2 3.2l0.9 3.2l1.3 6.3l0.7 8l0.3 8.7l-38.4 0l0-63.5z"/>
<path fill="#0c67f5" d="M197.8 323.4l21.1 0l-0.1 21.4l0.1 8l0.3 0.8l1.3 0.8l0.7 1.5l0.3 1.6l0.3 3.2l-0.1 3.2l-0.5 3.2l-3 14.2l-0.3 3.2l-0.1 2.4l-20 0l0-63.5z"/>
<path fill="#0d6ef6" d="M197.8 323.4l20.9 0l-0.2 21.4l-0.3 8l-0.6 1.3l-0.5 0.3l-1.1 2.6l-1.6 2.4l-1.5 2l-3.2 3.2l-1.6 1.3l-3.2 1.9l-3.1 1.3l-3.2 0.5l-0.8 0l0-46.2z"/>
<path fill="#0d74f6" d="M197.8 323.4l20.7 0l-0.4 21.4l-0.2 4.8l-0.3 2.8l-1.6 0l-1.6 0.4l-6.3 2.8l-3.2 1.1l-3.1 0.8l-4 0.3l0-34.4z"/>
<path fill="#0d7af7" d="M197.8 323.4l20.6 0l-0.3 15.1l-0.5 9.6l-4.7 0.2l-9.6 1.5l-5.5 0.3l0-26.7z"/>
<path fill="#0d80f7" d="M197.8 323.4l20.4 0l-0.6 19.4l-19.8 0.8l0-20.2z"/>
<path fill="#0d86f8" d="M197.8 323.4l20.2 0l-0.4 13.7l-19.8 0.3l0-14z"/>
<path fill="#0e8df8" d="M197.8 323.4l20 0l-0.2 7.9l-19.8 0.1l0-8z"/>
<path fill="#0e93f9" d="M197.8 323.4l19.9 0l-0.1 2.1l-19.8 0l0-2.1z"/>
<path fill="none" stroke="#d6dcc0" stroke-width="0.65" d="M272.3 323.4l4 3.8l3.1 2.6l4.8 3.3l4.7 2.6l4.8 1.9l4.7 1.4l3.2 0.6l4.8 0.3l4.7-0.4l3.2-0.6l4.8-1.4l3.1-1.4l3.2-1.7l4.7-3.2l4.8-4l3.7-3.8M253.6 323.4l1.8 4l1.8 3.3l3.2 5.1l3.2 4.6l7.9 10.3l13.5 16.4l3.6 4.7l2.2 3.2l1.9 3.2l1.4 3.1l0.9 3.2l0.2 2.4M323.1 386.9l0.1-2.4l0.8-3.2l0.6-1.5l1.5-3.2l2.8-4.8l10.8-16.4l4.7-8.1l3.2-6l3.2-6.8l2.2-5.5l2.1-5.6M231.7 323.4l0.2 2.4l0.4 1.6l1.3 3.1l1.7 3.2l6.1 9.4l3.9 6.5l3.3 6.3l2.7 6.4l2.1 6.3l1.5 6.4l1 6.3l0.2 5.6M219 323.4l0 16.7l0.2 8.9l1.6 0l1.6 0.4l1.6 0.6l1.7 1.2l1.7 1.6l1.2 1.6l1 1.5l1.5 3.2l1.4 4.8l1.1 6.3l0.6 8l0.2 8.7M218.9 323.4l-0.1 29.4l0.4 1.2l0.6 0.4l0.3 1.5l0.2 1.6l-0.1 3.2l-0.6 3.2l-0.8 3.2l-3.9 11.1l-0.9 3.1l-0.6 3.2l-0.1 2.4M218.7 323.4l-0.4 24.6l-0.3 4.8l-0.4 0.9l-1.3 0.7l-0.3 0.4l-1.6 1.8l-3.1 3l-3.2 2.3l-1.6 1l-3.2 1.3l-1.5 0.5l-1.6 0.3l-2.4 0.1M218.5 323.4l-0.4 18.3l-0.5 9.1l-1.6 0l-2.1 0.4l-7.4 2.1l-3.2 0.7l-3.1 0.4l-2.4 0.1M218.3 323.4l-0.3 13.5l-0.4 8.6l-4.7 0.1l-9.6 0.9l-5.5 0.2M218.1 323.4l-0.5 16l-19.8 0.4M217.9 323.4l-0.3 9.7l-19.8 0.1M217.7 323.4l-0.1 3.2l-19.8 0.1M210.6 351.2l1.1 3.2l1.2 1.8l1.5 1.6l1.6 1.1l1.6 0.6l1.6 0.4l3.2 0.1l3.1-0.6l3.2-1.1l5.1-2.4l14.3-7.9l7.6-4.4l6.3-4.1l4.7-3.5l4.8-4.2l4.3-4.4l3.3-4M357.1 386.9l-47.6 0l-0.5-0.8l-0.4-20.6l-1.5-42.1M357.1 335.9l-1.6-0.3l-3.2-1.1l-3.1-1.4l-3.2-1.7l-4.8-3.2l-3.1-2.7l-2.2-2.1"/>
</g>
<g clip-path="url(#cp4)"><path fill="none" stroke="#dfe2dc" stroke-width="1.0" stroke-dasharray="1.0 1.4" d="M220.8 318.6l19 0l11.1 0.2l11.1 0.3l11.1 0.6l19 1.5l44.4 4.5l9.5 0.7l9.5 0.6"/></g>
<path fill="none" stroke="#4a4a4a" stroke-width="1.2" stroke-dasharray="1.2 1.2" d="M198.6 331.7l17.4 0"/>
<path fill="none" stroke="#dfb35a" stroke-width="0.8" d="M200.7 323.4L200.6 318M200.7 330.6L200.6 325.3M200.7 337.9L200.6 332.7M200.7 345.1L200.5 340.3M200.7 352.4L200.4 348.6M200.7 359.6L200.4 357.2M200.7 366.8L200.4 365.5M200.7 374.1L200.5 373.2M208.3 323.4L208.2 318M208.3 330.6L208.2 325.2M208.3 337.9L208.1 332.4M208.3 345.1L207.8 339.7M208.3 352.4L206.9 347.7M208.3 359.6L206.8 356.8M208.3 366.8L207.4 365.7M208.3 374.1L207.6 373.4M208.3 381.3L207.7 381M215.9 359.6L211.7 357.4M215.9 366.8L214.4 366.1M215.9 374.1L214.8 373.6M215.9 381.3L215 381.1"/><path fill="#dfb35a" d="M200.6 315.2L202 318L199.3 318zM200.6 322.5L202 325.3L199.3 325.3zM200.6 329.9L201.9 332.6L199.2 332.7zM200.4 337.5L201.9 340.2L199.2 340.3zM200.2 345.8L201.7 348.5L199 348.7zM200.1 354.4L201.7 357.1L199 357.4zM200.1 363.5L201.4 365.4L199.5 365.7zM200.2 372L201.1 373.1L199.9 373.4zM208.2 315.2L209.6 318L206.9 318zM208.2 322.4L209.6 325.2L206.9 325.2zM208 329.6L209.4 332.4L206.8 332.5zM207.6 336.9L209.2 339.6L206.5 339.8zM206.1 345L208.2 347.3L205.6 348zM205.4 354.4L208 356.2L205.6 357.5zM206 363.9L208.2 365L206.5 366.3zM206.5 372.3L208.1 372.8L207 373.9zM206.8 380.6L207.9 380.6L207.5 381.5zM209.3 356.1L212.4 356.2L211.1 358.6zM212.2 365.1L214.9 365L213.9 367.2zM213.1 373L215.1 372.8L214.4 374.4zM213.6 380.9L215.1 380.5L214.8 381.8z"/>
<path fill="none" stroke="#dfb35a" stroke-width="0.8" d="M225.7 323.4L224.2 323.2M225.7 330.6L224.5 331.9M225.7 337.9L224.2 341.1M225.7 345.1L223.5 349.9M225.7 352.4L220.2 358M225.7 359.6L218.1 361.8M225.7 366.8L219.3 366.8M225.7 374.1L220.2 373.7M225.7 381.3L220.8 381.1M235.2 323.4L231.8 323.7M235.2 330.6L232.1 332.1M235.2 337.9L232 340.4M235.2 345.1L231.5 348.2M235.2 352.4L230.4 355.3M235.2 359.6L229.8 361.7M235.2 366.8L229.8 367.9M235.2 374.1L230.1 374.6M235.2 381.3L230.3 381.5M244.7 323.4L240.1 324.6M244.7 330.6L240.6 332.4M244.7 337.9L240.8 340.1M244.7 345.1L240.7 347.5M244.7 352.4L240.4 354.6M244.7 359.6L240.2 361.5M244.7 366.8L240.1 368.1M244.7 374.1L240.1 374.9M244.7 381.3L240.2 381.6M254.2 323.4L249.2 325.6M254.2 330.6L249.7 333M254.2 337.9L250.1 340.3M254.2 345.1L250.2 347.5M254.2 352.4L250.3 354.5M254.2 359.6L250.2 361.4M254.2 366.8L250.2 368.1M254.2 374.1L250.2 374.9M254.2 381.3L250.3 381.7M263.7 323.4L258.9 326.7M263.7 330.6L259.4 333.7M263.7 337.9L259.8 340.7M263.7 345.1L260.1 347.7M263.7 352.4L260.2 354.6M263.7 359.6L260.3 361.4M263.7 366.8L260.3 368.2M263.7 374.1L260.3 375M263.7 381.3L260.4 381.7M273.2 323.4L269 327.7M273.2 330.6L269.5 334.5M273.2 337.9L269.9 341.2M273.2 345.1L270.1 348.1M273.2 352.4L270.3 354.8M273.2 359.6L270.4 361.6M273.2 366.8L270.5 368.2M273.2 374.1L270.5 375M273.2 381.3L270.6 381.7M282.8 323.4L279.5 328.5M282.8 330.6L279.8 335.1M282.8 337.9L280.1 341.7M282.8 345.1L280.3 348.4M282.8 352.4L280.5 355M282.8 359.6L280.6 361.7M282.8 366.8L280.7 368.3M282.8 374.1L280.8 375M282.8 381.3L280.9 381.7M292.3 323.4L290.2 329.1M292.3 330.6L290.4 335.6M292.3 337.9L290.6 342M292.3 345.1L290.7 348.6M292.3 352.4L290.9 355.1M292.3 359.6L290.9 361.8M292.3 366.8L291.1 368.3M292.3 374.1L291 375.1M292.3 381.3L290.8 381.8M301.8 323.4L301.1 329.4M301.8 330.6L301.2 335.8M301.8 337.9L301.2 342.2M301.8 345.1L301.2 348.7M301.8 352.4L301.3 355.2M301.8 359.6L301.3 361.7M301.8 366.8L301.2 368.4M301.8 374.1L301.1 375.3M301.8 381.3L301 381.9M311.3 323.4L312.1 329.4M311.3 330.6L312 335.8M311.3 337.9L311.9 342.1M311.3 345.1L311.8 348.7M311.3 352.4L311.7 355.1M311.3 359.6L311.6 361.7M311.3 366.8L311.5 368.4M311.3 374.1L311.5 375.3M311.3 381.3L311.6 382.1M320.8 323.4L323.1 329M320.8 330.6L322.8 335.5M320.8 337.9L322.5 341.9M320.8 345.1L322.3 348.5M320.8 352.4L322.1 354.9M320.8 359.6L321.9 361.5M320.8 366.8L321.8 368.2M320.8 374.1L321.8 375.1M320.8 381.3L321.9 381.8M330.3 323.4L333.9 328.3M330.3 330.6L333.5 334.9M330.3 337.9L333.1 341.4M330.3 345.1L332.7 348M330.3 352.4L332.4 354.6M330.3 359.6L332.1 361.3M330.3 366.8L331.8 368M330.3 374.1L331.8 374.9M330.3 381.3L331.8 381.7M339.8 323.4L344.5 327.4M339.8 330.6L344 334.1M339.8 337.9L343.4 340.7M339.8 345.1L343 347.5M339.8 352.4L342.6 354.2M339.8 359.6L342.3 361M339.8 366.8L342 367.8M339.8 374.1L341.8 374.7M339.8 381.3L341.7 381.6M349.3 323.4L354.9 326.3M349.3 330.6L354.3 333.1M349.3 337.9L353.6 339.9M349.3 345.1L353.1 346.8M349.3 352.4L352.6 353.7M349.3 359.6L352.3 360.6M349.3 366.8L352 367.5M349.3 374.1L351.8 374.5M349.3 381.3L351.6 381.5"/><path fill="#dfb35a" d="M221.9 322.9L224.3 322.1L224 324.3zM222.6 333.9L223.5 331L225.4 332.8zM223 343.6L222.9 340.5L225.4 341.7zM222.3 352.4L222.2 349.3L224.7 350.5zM218.2 360L219.2 357L221.1 358.9zM215.4 362.6L217.7 360.5L218.5 363.1zM216.5 366.8L219.3 365.5L219.3 368.2zM217.4 373.5L220.3 372.4L220.1 375.1zM218 381L220.9 379.7L220.7 382.4zM229 324L231.6 322.4L231.9 325.1zM229.5 333.2L231.5 330.8L232.6 333.3zM229.8 342.1L231.1 339.3L232.8 341.5zM229.3 350L230.6 347.2L232.3 349.2zM228.1 356.8L229.7 354.2L231.2 356.5zM227.2 362.8L229.3 360.5L230.3 363zM227.1 368.4L229.6 366.6L230.1 369.2zM227.3 374.8L229.9 373.2L230.2 375.9zM227.5 381.5L230.3 380.1L230.4 382.8zM237.4 325.3L239.8 323.3L240.4 325.9zM238 333.5L240 331.2L241.1 333.7zM238.3 341.5L240.1 339L241.4 341.3zM238.3 349L240 346.4L241.4 348.7zM237.9 355.9L239.8 353.4L241 355.8zM237.6 362.5L239.7 360.2L240.7 362.7zM237.4 368.8L239.7 366.8L240.4 369.4zM237.4 375.3L239.9 373.5L240.4 376.2zM237.4 381.8L240.1 380.3L240.3 383zM246.6 326.7L248.7 324.4L249.8 326.9zM247.2 334.3L249.1 331.8L250.4 334.2zM247.7 341.7L249.4 339.1L250.8 341.5zM247.8 348.9L249.6 346.3L250.9 348.6zM247.8 355.8L249.6 353.3L250.9 355.7zM247.7 362.5L249.7 360.2L250.8 362.6zM247.5 369L249.8 366.8L250.6 369.4zM247.5 375.5L249.9 373.6L250.5 376.3zM247.5 381.9L250.1 380.3L250.4 383zM256.6 328.2L258.1 325.5L259.6 327.8zM257.1 335.4L258.6 332.6L260.2 334.8zM257.6 342.4L259 339.6L260.6 341.8zM257.8 349.3L259.3 346.6L260.8 348.8zM257.8 356.1L259.5 353.4L260.9 355.7zM257.8 362.8L259.6 360.3L260.9 362.6zM257.7 369.2L259.8 366.9L260.8 369.4zM257.6 375.7L260 373.7L260.7 376.3zM257.6 382L260.2 380.3L260.5 383zM267 329.6L268 326.7L270 328.6zM267.5 336.5L268.5 333.5L270.4 335.4zM267.9 343.2L268.9 340.3L270.8 342.2zM268 350L269.2 347.1L271 349zM268.1 356.5L269.4 353.7L271.1 355.8zM268.1 363.2L269.6 360.5L271.2 362.7zM268 369.5L269.9 367L271.1 369.4zM267.9 376L270.1 373.8L271 376.3zM267.8 382.1L270.4 380.4L270.8 383zM278 330.8L278.3 327.7L280.6 329.2zM278.3 337.5L278.7 334.4L280.9 335.9zM278.6 344L279 340.9L281.3 342.4zM278.7 350.6L279.3 347.6L281.4 349.2zM278.7 357.1L279.5 354.1L281.5 355.9zM278.6 363.7L279.7 360.7L281.6 362.7zM278.5 369.9L279.9 367.2L281.5 369.4zM278.3 376.3L280.2 373.8L281.4 376.2zM278.2 382.3L280.6 380.4L281.2 383zM289.3 331.7L288.9 328.6L291.5 329.5zM289.4 338.2L289.2 335.1L291.7 336.1zM289.6 344.6L289.4 341.5L291.9 342.5zM289.6 351.2L289.5 348.1L292 349.2zM289.6 357.6L289.6 354.5L292.1 355.7zM289.5 364.1L289.8 361L292.1 362.5zM289.2 370.4L290 367.4L292.1 369.1zM289 376.7L290.2 374.2L291.7 376.1zM288.7 382.5L290.5 380.8L291.2 382.8zM300.8 332.2L299.8 329.2L302.5 329.5zM300.9 338.6L299.8 335.7L302.5 336zM300.9 345L299.9 342L302.6 342.4zM300.8 351.5L299.9 348.5L302.6 348.9zM300.7 357.9L299.9 354.9L302.6 355.4zM300.6 364.5L300 361.4L302.6 362zM300.4 370.8L300.1 368L302.4 368.8zM300.2 377.1L300.2 374.8L302 375.8zM299.7 382.9L300.5 381.3L301.4 382.5zM312.5 332.1L310.8 329.5L313.4 329.2zM312.4 338.6L310.7 336L313.3 335.6zM312.3 344.9L310.5 342.3L313.2 341.9zM312.2 351.5L310.5 348.9L313.1 348.5zM312.1 357.9L310.3 355.3L313 354.9zM312 364.4L310.2 361.9L312.9 361.5zM311.9 370.8L310.4 368.6L312.7 368.2zM311.9 377.2L310.6 375.5L312.4 375.2zM312 383.2L311 382.3L312.1 381.8zM324.1 331.6L321.8 329.5L324.3 328.5zM323.9 338.1L321.6 336L324.1 335zM323.6 344.4L321.3 342.4L323.8 341.3zM323.5 351L321.1 349L323.5 347.9zM323.3 357.4L320.9 355.5L323.3 354.3zM323.2 364L320.7 362.2L323.1 360.9zM323.2 370.3L320.8 368.9L322.8 367.5zM323.3 376.7L321.1 375.9L322.6 374.4zM323.6 382.6L321.5 382.6L322.3 381zM335.5 330.6L332.8 329.1L335 327.6zM335.2 337.1L332.4 335.7L334.6 334.1zM334.8 343.6L332 342.2L334.1 340.5zM334.5 350.2L331.7 348.9L333.8 347.2zM334.3 356.7L331.4 355.5L333.4 353.7zM334.2 363.3L331.2 362.3L333.1 360.4zM334.1 369.6L331 369.1L332.6 366.9zM334.1 376.1L331.2 376L332.4 373.8zM334.2 382.2L331.6 382.8L332.1 380.5zM346.7 329.2L343.7 328.4L345.4 326.4zM346.2 335.9L343.2 335.1L344.9 333zM345.7 342.4L342.6 341.8L344.3 339.6zM345.3 349.1L342.2 348.6L343.8 346.4zM344.9 355.7L341.9 355.3L343.3 353.1zM344.7 362.4L341.6 362.2L343 359.8zM344.5 368.9L341.4 369L342.5 366.6zM344.5 375.5L341.4 376L342.2 373.4zM344.4 381.9L341.5 382.9L341.8 380.2zM357.4 327.5L354.3 327.5L355.5 325zM356.8 334.3L353.7 334.3L354.9 331.9zM356.1 341.1L353 341.1L354.2 338.7zM355.7 347.9L352.6 348L353.7 345.6zM355.2 354.7L352.1 354.9L353.1 352.4zM354.9 361.5L351.9 361.9L352.7 359.3zM354.7 368.2L351.6 368.8L352.3 366.2zM354.5 375.1L351.5 375.9L352 373.2zM354.4 381.7L351.5 382.8L351.7 380.2z"/>
<rect x="216.8" y="278.9" width="3.2" height="75.6" fill="#fff" stroke="none"/>
<path fill="none" stroke="#4a4a4a" stroke-width="0.9" d="M197.8 323.4V278.9H220V354.5H216.8V278.9"/>
<rect x="197.8" y="276.7" width="158.5" height="116.2" fill="none" stroke="#b4b4b4" stroke-width="0.8"/>
<path stroke="#b4b4b4" stroke-width="0.8" fill="none" d="M197.8 392.9v-2M197.8 276.7v2M229.5 392.9v-2M229.5 276.7v2M261.2 392.9v-2M261.2 276.7v2M292.9 392.9v-2M292.9 276.7v2M324.6 392.9v-2M324.6 276.7v2M197.8 285.3h2M356.3 285.3h-2M197.8 298h2M356.3 298h-2M197.8 310.7h2M356.3 310.7h-2M197.8 323.4h2M356.3 323.4h-2M197.8 336.1h2M356.3 336.1h-2M197.8 348.8h2M356.3 348.8h-2M197.8 361.5h2M356.3 361.5h-2M197.8 374.2h2M356.3 374.2h-2M197.8 386.9h2M356.3 386.9h-2"/>
<text x="197.8" y="402.7" font-size="9" text-anchor="middle" fill="#262626">0</text>
<text x="229.5" y="402.7" font-size="9" text-anchor="middle" fill="#262626">5</text>
<text x="261.2" y="402.7" font-size="9" text-anchor="middle" fill="#262626">10</text>
<text x="292.9" y="402.7" font-size="9" text-anchor="middle" fill="#262626">15</text>
<text x="324.6" y="402.7" font-size="9" text-anchor="middle" fill="#262626">20</text>
<text x="277.1" y="412.5" font-size="9" text-anchor="middle" font-weight="bold" fill="#222">x [m]</text>
<text x="291.8" y="287.7" font-size="9" text-anchor="start" fill="#222" textLength="59.2" lengthAdjust="spacingAndGlyphs">t=3.49s (=4T/6)</text>
<path fill="none" stroke="#4a4a4a" stroke-width="1.2" stroke-dasharray="1.2 1.2" d="M361.8 326.4l17.4 0"/>
<path fill="none" stroke="#5a5a5a" stroke-width="1.2" stroke-dasharray="1.2 1.2" d="M384 321l23.8 0.1l20.6 0.5l19 0.8l44.4 2.2l14.2 0.5l12.7 0.3"/>
<g clip-path="url(#cp5)">
<rect x="360" y="322.4" width="161.3" height="65.5" fill="#000099"/>
<path fill="#0000a0" d="M361 323.4l21.4 0l0 1l20.6 0.4l7.9-0.2l4.8-0.6l3.4-0.6l101.2 0l0 63.5l-159.3 0l0-63.5z"/>
<path fill="#0000a7" d="M361 323.4l21.4 0l0 2.9l22.2 0.5l6.3-0.3l4.8-0.5l4.7-0.9l5.8-1.7l94.1 0l0 63.5l-159.3 0l0-63.5z"/>
<path fill="#0001ad" d="M361 323.4l21.3 0l0.1 4.8l22.2 0.6l7.9-0.4l6.4-0.9l3.1-0.7l3.2-1l3.2-1.1l2.8-1.3l89.1 0l0 63.5l-159.3 0l0-63.5z"/>
<path fill="#0003b2" d="M361 323.4l21.3 0l0.1 6.6l6.3 0.1l17.5 0.7l4.7-0.2l3.2-0.2l4.8-0.7l3.1-0.7l3.2-1l3.2-1.1l3.1-1.4l3.8-2.1l85 0l0 63.5l-159.3 0l0-63.5z"/>
<path fill="#0006b7" d="M361 323.4l21.3 0l0.1 8.5l6.3 0.1l12.7 0.7l6.4 0.2l4.7-0.2l4.8-0.5l4.7-1l3.2-0.9l3.2-1.1l3.1-1.4l3.2-1.7l4.2-2.7l81.4 0l0 63.5l-159.3 0l0-63.5z"/>
<path fill="#0008bc" d="M361 323.4l21.3 0l0.1 10.3l6.3 0.1l14.3 1l6.3 0.2l4.8-0.2l4.8-0.6l4.7-1l3.2-1l4.7-2l3.2-1.6l3.2-2l4.2-3.2l78.2 0l0 63.5l-159.3 0l0-63.5z"/>
<path fill="#000ac1" d="M361 323.4l21.2 0l0.2 12.1l6.3 0.1l15.9 1.4l6.3 0.2l4.8-0.2l4.7-0.6l3.2-0.7l4.8-1.5l3.1-1.4l4.8-2.6l4.7-3.3l4-3.5l75.3 0l0 63.5l-159.3 0l0-63.5z"/>
<path fill="#000cc7" d="M361 323.4l21.2 0l0.2 13.8l6.3 0.2l15.9 1.8l4.7 0.3l3.2 0.1l4.8-0.2l4.7-0.7l4.8-1.3l4.7-1.9l4.8-2.5l3.2-2.2l4.7-3.9l3.5-3.5l72.6 0l0 63.5l-159.3 0l0-63.5z"/>
<path fill="#000ecc" d="M361 323.4l21.2 0l0.2 15.5l3.2 0.1l4.7 0.3l15.9 2.3l4.7 0.4l3.2 0.1l4.8-0.3l4.7-0.7l4.8-1.4l4.7-2l4.8-2.8l4.7-3.6l4.2-3.9l3.5-4l70 0l0 63.5l-159.3 0l0-63.5z"/>
<path fill="#0011d1" d="M361 323.4l21.2 0l0.2 17.2l3.2 0.1l4.7 0.4l17.5 3.1l4.7 0.5l3.2 0.1l3.2-0.1l3.1-0.4l4.8-1l4.7-1.8l4.8-2.4l4.7-3.3l3.2-2.7l4.8-4.9l3.8-4.8l67.5 0l0 63.5l-159.3 0l0-63.5z"/>
<path fill="#0013d6" d="M361 323.4l21.1 0l0.3 18.8l3.2 0.1l4.7 0.5l4.8 1l12.7 2.9l4.7 0.7l4.8 0.3l3.1-0.1l3.2-0.4l4.8-1.1l4.7-1.9l4.8-2.7l4.7-3.5l4.8-4.5l3.8-4.5l4-5.6l65.1 0l0 63.5l-159.3 0l0-63.5z"/>
<path fill="#0015db" d="M361 323.4l21.1 0l0.3 20.4l3.2 0.1l4.7 0.6l4.8 1.2l9.5 2.8l4.7 1.3l4.8 0.8l4.8 0.3l3.1-0.1l3.2-0.4l4.7-1.2l4.8-2.1l4.8-2.9l4.7-3.8l4.8-4.9l4.7-6.2l3.7-5.9l62.9 0l0 63.5l-159.3 0l0-63.5z"/>
<path fill="#0119df" d="M361 323.4l21.1 0l0.3 21.9l3.2 0.1l4.7 0.8l4.8 1.4l11.1 4.1l4.7 1.5l4.8 1l4.7 0.4l3.2-0.1l3.2-0.5l4.7-1.3l4.8-2.3l4.7-3.2l4.8-4.1l4.8-5.3l4.7-6.7l2.2-3.7l2.2-4l60.6 0l0 63.5l-159.3 0l0-63.5z"/>
<path fill="#0220e1" d="M361 323.4l21.1 0l0.3 23.3l3.2 0.1l1.6 0.2l3.1 0.8l4.7 1.8l11.2 5.1l4.7 1.9l3.2 1l3.2 0.7l4.7 0.5l3.2-0.1l3.2-0.4l4.7-1.6l3.2-1.5l3.2-2l4.7-3.9l4.8-5l4.7-6.2l2.8-4.4l2-3.5l3.3-6.8l58.5 0l0 63.5l-159.3 0l0-63.5z"/>
<path fill="#0327e4" d="M361 323.4l21 0l0.4 24.6l1.6 0l3.2 0.4l1.5 0.5l3.2 1.2l5.2 2.7l10.7 6.1l6.3 2.9l3.2 1.1l3.1 0.8l3.2 0.3l1.6 0.1l3.2-0.4l1.5-0.3l1.6-0.4l3.2-1.4l3.2-1.7l1.6-1.1l3.1-2.6l3.2-3l4.8-5.5l4.7-6.8l2.3-4l2.5-4.6l3.8-8.9l56.4 0l0 63.5l-159.3 0l0-63.5z"/>
<path fill="#042de6" d="M361 323.4l21 0l0.1 16.7l0.3 9.1l1.6 0l3.2 0.6l1.5 0.6l3.2 1.5l3.9 2.5l13.5 9.7l3.2 2l4.8 2.6l1.6 0.8l3.1 1.1l3.2 0.6l1.6 0l3.1-0.3l1.6-0.5l1.6-0.6l3.2-1.7l3.2-2.2l1.5-1.3l3.2-3.1l3.2-3.5l3.2-4l3.1-4.6l2.8-4.6l2-3.5l2.1-4.4l2.1-4.8l3.3-8.7l54.3 0l0 63.5l-159.3 0l0-63.5z"/>
<path fill="#0534e8" d="M361 323.4l21 0l0.1 18.3l0.3 8.6l1.6 0l1.6 0.3l1.7 0.6l3.1 1.6l4.3 3.1l5.3 4.8l11.4 11.1l6 6.4l2.5 3.1l1 1.6l0.7 1.6l0.4 1.6l0 0.8l-61 0l0-63.5zM467.8 324.2l0.2-0.8l52.3 0l0 63.5l-85.3 0l0-0.8l0.4-1.6l1.5-3.2l2.1-3.1l6.8-9.4l4.8-6.9l3.1-5l4.1-7.3l3.1-6.4l2.3-5.5l2.6-7.2l2-6.3z"/>
<path fill="#073aea" d="M361 323.4l21 0l0.1 19.8l0.3 8.1l1.6 0l1.6 0.4l2.3 1.1l2.2 1.6l3.4 3.1l5.6 6.4l4.8 6.3l2.1 3.2l1.9 3.2l0.8 1.6l1.2 3.1l0.7 3.2l0.2 2.4l-49.8 0l0-63.5zM470 323.4l50.3 0l0 63.5l-72.6 0l0.1-2.4l0.5-3.2l1.4-4.7l2.6-6.4l7.8-16.7l3.1-7.7l3.6-10.5l1.9-6.3l1.3-5.6z"/>
<path fill="#0841ec" d="M361 323.4l21 0l0.1 21.4l0.3 7.4l1.6 0l1.6 0.5l2.5 1.7l3 3.1l2.5 3.2l2.1 3.2l3.8 6.3l1.5 3.2l1.4 3.2l1.4 4.7l0.5 3.2l0.1 2.4l-43.4 0l0-63.5zM472 323.4l48.3 0l0 63.5l-64.8 0l0.4-5.6l1.3-6.3l1.8-6.4l5.8-17l2.6-8.4l2.5-9.5l2.1-10.3z"/>
<path fill="#0948ef" d="M361 323.4l20.9 0l0.1 21.4l0.4 8l1.6 0.1l1.6 0.8l0.9 0.7l1.4 1.5l1.2 1.6l2.1 3.2l1.7 3.2l2.9 6.3l2.1 6.4l1.1 4.7l0.3 3.2l0.1 2.4l-38.4 0l0-63.5zM474 323.4l46.3 0l0 63.5l-58.3 0l0.1-4l0.3-3.1l1-6.4l1.4-6.3l3.9-15.9l1.8-8l1.9-9.5l1.6-10.3z"/>
<path fill="#0a4ef1" d="M361 323.4l20.9 0l0.1 21.4l0.3 8l0.1 0.3l1.6 0.5l1.2 0.8l1.3 1.5l1 1.6l1.6 3.2l2 4.8l1.5 4.7l1.4 6.4l0.7 4.7l0.3 5.6l-34 0l0-63.5zM475.9 324.2l0.1-0.8l44.3 0l0 63.5l-52.4 0l0.2-7.1l0.7-6.4l5-31.7l1.1-8l1-9.5z"/>
<path fill="#0b55f3" d="M361 323.4l20.9 0l0 21.4l0.3 8l0.2 0.6l1.8 1l1.1 1.5l1.5 3.2l1.5 4.8l1.1 4.7l0.9 6.4l0.5 6.3l0.2 5.6l-30 0l0-63.5zM477.9 323.4l42.4 0l0 63.5l-46.9 0l0.1-7.1l0.4-6.4l2.8-30.2l1.2-19.8z"/>
<path fill="#0c5bf4" d="M361 323.4l20.9 0l0 21.4l0.1 8l0.4 0.9l1.2 0.7l0.7 1.5l1.1 3.2l0.9 4.8l0.4 3.2l0.3 4.7l0.1 15.1l-26.1 0l0-63.5zM479.9 323.4l40.4 0l0 63.5l-41.6 0l0.1-11.9l0.9-31.8l0.2-19.8z"/>
<path fill="#0c61f5" d="M361 323.4l20.8 0l0.1 29.4l0.5 1.2l0.7 0.4l0.4 1.5l0.6 3.2l0.4 4.8l0 4.7l-1.1 12.7l-0.2 5.6l-22.2 0l0-63.5zM481.8 323.4l38.5 0l0 63.5l-36.4 0l-0.1-11.9l-0.3-12.7l-1.7-38.9z"/>
<path fill="#0c67f5" d="M361 323.4l20.8 0l0 29.4l0.6 1.5l0.1 0.1l0.2 1.5l0.3 3.2l-0.1 3.2l-0.8 6.3l-2.6 12.7l-0.4 3.2l0 2.4l-18.1 0l0-63.5zM483.8 323.4l36.5 0l0 63.5l-31.1 0l-0.2-8.7l-0.7-11.1l-4.5-43.7z"/>
<path fill="#0d6ef6" d="M361 323.4l20.8 0l-0.1 29.4l0.3 1.6l0 1.5l-0.1 3.2l-0.5 3.2l-1.2 4.8l-5.1 14.2l-0.7 3.2l-0.1 2.4l-13.3 0l0-63.5zM485.8 323.4l34.5 0l0 63.5l-25.6 0l-0.4-8.7l-1-9.6l-1.3-7.9l-4.2-23.8l-2-13.5z"/>
<path fill="#0d74f6" d="M361 323.4l20.8 0l-0.2 29.4l-0.3 3.1l-0.5 3l-1.6 5.2l-1.6 3.6l-3.1 5.6l-5.3 8l-1.6 3.2l-0.3 1.6l0 0.8l-6.3 0l0-63.5zM487.7 323.4l32.6 0l0 63.5l-19.9 0l-0.3-7.1l-0.6-4.8l-0.9-4.8l-1.7-7.9l-6-23.8l-3.2-15.1z"/>
<path fill="#0d7af7" d="M361 323.4l20.7 0l-0.2 29.4l-0.6 1.6l-0.3 1.5l-1 3.2l-2 4.4l-1.5 2.7l-1.6 2.2l-3.2 3.6l-3.2 2.8l-1.6 1.1l-3.1 1.4l-1.6 0.3l-0.8 0l0-54.2zM489.8 323.4l30.5 0l0 63.5l-13.6 0l-0.2-4l-0.3-3.1l-0.9-4.8l-1.1-4.8l-2-6.3l-7.9-23.8l-2.5-8.7l-2-8z"/>
<path fill="#0d80f7" d="M361 323.4l20.7 0l-0.3 29.4l-0.6 1.4l-0.4 0.2l-1.2 3.2l-1.6 2.9l-1.5 2.4l-3.2 3.8l-3.2 2.7l-3.2 1.9l-3.1 1.1l-1.6 0.2l-0.8 0l0-49.2zM491.8 323.4l28.5 0l0 63.5l-6.4 0l-0.2-4l-0.5-3.1l-1.8-6.4l-3-7.9l-7.1-16l-3.2-7.6l-3.2-8.5l-3.1-10z"/>
<path fill="#0d86f8" d="M361 323.4l20.7 0l-0.2 26.2l-0.2 3.2l-0.5 1.1l-0.9 0.5l-0.7 1.5l-1.6 2.5l-1.5 2.1l-1.6 1.8l-3.2 2.9l-1.6 1.1l-3.2 1.7l-3.1 0.9l-1.6 0.2l-0.8 0l0-45.7zM493.9 323.4l26.4 0l0 52.2l-2.7-5.4l-10-16.8l-4.7-8.7l-4.8-10.2l-2.2-5.5l-2-5.6z"/>
<path fill="#0e8df8" d="M361 323.4l20.7 0l-0.3 24.6l-0.2 4.8l-0.4 0.9l-1.3 0.7l-0.3 0.5l-3.1 3.7l-3.2 3l-1.6 1.2l-3.2 1.9l-1.6 0.7l-3.1 0.8l-1.6 0.2l-0.8 0l0-43zM496 323.4l24.3 0l0 39.3l-4.8-5.7l-3.1-4.1l-3.2-4.5l-3.2-4.9l-3.1-5.5l-2.3-4.3l-2.5-5.3l-2.1-5z"/>
<path fill="#0e93f9" d="M361 323.4l20.6 0l-0.2 24.6l-0.3 4.8l-0.3 0.6l-2 1l-4.3 4.1l-1.6 1.2l-3.2 2l-3.2 1.4l-1.5 0.5l-3.2 0.4l-0.8 0l0-40.6zM498.2 323.4l22.1 0l0 31.4l-3.2-3l-3.1-3.5l-3.2-3.9l-3.2-4.3l-4.7-7.5l-2.8-5.2l-1.9-4z"/>
<path fill="#0d99f9" d="M361 323.4l20.6 0l-0.2 23l-0.2 4.8l-0.2 1.6l-0.2 0.4l-1.6 0.4l-1.4 0.8l-4.9 3.7l-3.2 1.8l-3.2 1.3l-1.5 0.4l-3.2 0.4l-0.8 0l0-38.6zM500.4 323.4l19.9 0l0 25.5l-3.2-2.9l-3.1-3.2l-4.8-5.6l-4.8-6.8l-4-7z"/>
<path fill="#0ca0f9" d="M361 323.4l20.6 0l-0.3 21.4l-0.1 4.8l-0.4 3.3l-1.6 0.2l-1.6 0.7l-4.7 2.9l-3.2 1.6l-1.6 0.6l-3.1 0.9l-3.2 0.4l-0.8 0l0-36.8zM502.7 323.4l17.6 0l0 20.5l-4.8-4.1l-4.7-5.1l-4.8-6.2l-3.3-5.1z"/>
<path fill="#0ba7f9" d="M361 323.4l20.6 0l-0.3 21.4l-0.2 4.8l-0.3 2.9l-1.6 0l-1.6 0.5l-6.3 3.1l-3.2 1.3l-3.1 0.8l-4 0.3l0-35.1zM505.1 323.4l15.2 0l0 16.2l-4.8-4l-3.1-3.1l-3.2-3.6l-4.1-5.5z"/>
<path fill="#09aef9" d="M361 323.4l20.5 0l-0.2 19.8l-0.5 8.7l-1.6 0l-1.6 0.4l-7.9 3.1l-3.2 0.9l-3.1 0.6l-2.4 0.1l0-33.6zM507.6 323.4l12.7 0l0 12.4l-3.2-2.5l-3.1-2.8l-3.2-3.3l-3.2-3.8z"/>
<path fill="#08b5f9" d="M361 323.4l20.5 0l-0.3 19.8l-0.4 8.1l-1.6 0l-1.6 0.2l-7.9 2.6l-3.2 0.9l-3.1 0.4l-2.4 0.1l0-32.1zM510.3 323.4l10 0l0 9l-4.8-3.8l-3.1-3l-2.1-2.2z"/>
<path fill="#07bcfa" d="M361 323.4l20.5 0l-0.3 18.3l-0.4 8.8l-1.6 0l-1.6 0.2l-7.9 2.2l-3.2 0.8l-3.1 0.4l-2.4 0.1l0-30.8zM513.1 323.4l7.2 0l0 5.9l-3.2-2.4l-4-3.5z"/>
<path fill="#05c3fa" d="M361 323.4l20.5 0l-0.3 16.7l-0.4 9.7l-1.6 0l-3.1 0.4l-9.6 2.2l-3.1 0.4l-2.4 0l0-29.4zM516.2 323.4l4.1 0l0 3l-4.1-3z"/>
<path fill="#04cafa" d="M361 323.4l20.5 0l-0.3 16.7l-0.4 8.9l-1.6 0l-3.1 0.3l-9.6 1.9l-3.1 0.3l-2.4 0.1l0-28.2zM519.7 323.4l0.6 0l0 0.4l-0.6-0.4z"/>
<path fill="#03d1fa" d="M361 323.4l20.4 0l-0.2 15.1l-0.4 9.7l-4.7 0.3l-9.6 1.5l-5.5 0.4l0-27z"/>
<path fill="#01d7fa" d="M361 323.4l20.4 0l-0.2 15.1l-0.4 8.8l-4.7 0.3l-9.6 1.3l-5.5 0.3l0-25.8z"/>
<path fill="#01defa" d="M361 323.4l20.4 0l-0.2 13.5l-0.4 9.5l-4.7 0.2l-9.6 1.2l-5.5 0.2l0-24.6z"/>
<path fill="#10e0fa" d="M361 323.4l20.4 0l-0.3 13.5l-0.3 8.7l-4.7 0.1l-9.6 1l-5.5 0.2l0-23.5z"/>
<path fill="#1fe2fa" d="M361 323.4l20.3 0l-0.5 21.2l-4.7 0.2l-9.6 0.8l-5.5 0.2l0-22.4z"/>
<path fill="#2ee3fb" d="M361 323.4l20.3 0l-0.5 20.3l-4.7 0.1l-9.6 0.7l-5.5 0.2l0-21.3z"/>
<path fill="#3de5fb" d="M361 323.4l20.3 0l-0.5 19.4l-4.7 0.1l-9.6 0.6l-5.5 0.1l0-20.2z"/>
<path fill="#4ce7fb" d="M361 323.4l20.3 0l-0.5 18.4l-19.8 0.7l0-19.1z"/>
<path fill="#5be9fb" d="M361 323.4l20.2 0l-0.4 17.5l-19.8 0.6l0-18.1z"/>
<path fill="#6aebfb" d="M361 323.4l20.2 0l-0.4 16.5l-19.8 0.5l0-17z"/>
<path fill="#79ecfc" d="M361 323.4l20.2 0l-0.4 15.5l-19.8 0.5l0-16z"/>
<path fill="#88eefc" d="M361 323.4l20.2 0l-0.4 14.6l-19.8 0.3l0-14.9z"/>
<path fill="#97f0fc" d="M361 323.4l20.1 0l-0.3 13.6l-19.8 0.3l0-13.9z"/>
<path fill="#a3f2fc" d="M361 323.4l20.1 0l-0.3 12.6l-19.8 0.3l0-12.9z"/>
<path fill="#b0f4fd" d="M361 323.4l20.1 0l-0.3 11.6l-19.8 0.2l0-11.8z"/>
<path fill="#bdf6fd" d="M361 323.4l20.1 0l-0.3 10.6l-19.8 0.2l0-10.8z"/>
<path fill="#caf8fe" d="M361 323.4l20 0l-0.2 9.6l-19.8 0.2l0-9.8z"/>
<path fill="#d7fafe" d="M361 323.4l20 0l-0.2 8.6l-19.8 0.2l0-8.8z"/>
<path fill="#e4fbfe" d="M361 323.4l20 0l-0.2 7.6l-19.8 0.1l0-7.7z"/>
<path fill="#f1fdff" d="M361 323.4l20 0l-0.2 6.6l-19.8 0.1l0-6.7z"/>
<path fill="#f6feff" d="M361 323.4l19.9 0l-0.1 5.6l-19.8 0.1l0-5.7z"/>
<path fill="#f8feff" d="M361 323.4l19.9 0l-0.1 4.6l-19.8 0.1l0-4.7z"/>
<path fill="#fafeff" d="M361 323.4l19.9 0l-0.1 3.6l-19.8 0.1l0-3.7z"/>
<path fill="#fbffff" d="M361 323.4l19.9 0l-0.1 2.6l-19.8 0.1l0-2.7z"/>
<path fill="#fdffff" d="M361 323.4l19.9 0l-0.1 1.6l-19.8 0.1l0-1.7z"/>
<path fill="#ffffff" d="M361 323.4l19.8 0l0 0.6l-19 0.1l-0.8 0l0-0.7z"/>
<path fill="none" stroke="#d6dcc0" stroke-width="0.65" d="M382.4 323.4l0 1l20.6 0.4l7.9-0.2l4.8-0.6l3.4-0.6M382.3 323.4l0.1 5.1l22.2 0.7l7.9-0.4l6.4-0.8l3.1-0.8l3.2-0.9l3.2-1.2l3.7-1.7M382.3 323.4l0.1 9.2l6.3 0.1l12.7 0.8l6.4 0.2l4.7-0.1l4.8-0.5l3.1-0.6l4.8-1.2l4.7-1.8l3.2-1.6l3.2-1.8l3.9-2.7M382.2 323.4l0.2 13.1l7.9 0.3l14.3 1.5l6.3 0.3l4.8-0.1l4.7-0.6l4.8-1.1l4.7-1.7l4.8-2.3l4.8-3.1l3.1-2.5l4.1-3.8M382.2 323.4l0.2 16.9l3.2 0l4.7 0.5l17.5 2.9l4.7 0.5l3.2 0l4.7-0.3l4.8-0.8l4.7-1.5l4.8-2.3l4.8-3l4.7-3.8l4.8-4.9l3.3-4.2M382.1 323.4l0.3 20.4l3.2 0.1l4.7 0.6l4.8 1.2l9.5 2.8l4.7 1.3l4.8 0.8l4.8 0.3l3.1-0.1l3.2-0.4l4.7-1.2l4.8-2.1l4.8-2.9l4.7-3.8l4.8-4.9l4.7-6.2l3.7-5.9M382.1 323.4l0.3 23.5l1.6 0l3.2 0.4l4.7 1.4l5.7 2.5l10.2 4.8l6.3 2.4l4.8 1.1l4.7 0.3l3.2-0.3l3.1-0.6l1.6-0.5l3.2-1.4l3.2-1.7l1.6-1.1l4.7-3.9l4.8-5l4.7-6.2l2.4-3.8l2.4-4.1l3.7-7.8M382 323.4l0.2 18.3l0.2 7.9l1.6 0l1.6 0.3l1.6 0.4l2 0.9l2.7 1.5l4.7 3.2l12.7 10.2l6.4 4.6l3.2 2l3.1 1.5l3.2 1l1.6 0.2l1.6 0l3.1-0.7l1.6-0.7l3.2-1.9l3.2-2.5l3.1-3.1l3.2-3.5l3.2-4l4.7-6.8l3.2-5.3l1.9-3.7l2.3-4.7l2.1-5l1.6-4.2l2-5.9M382 323.4l0.1 19.8l0.3 8.6l1.6 0l1.6 0.5l1.6 0.8l1.6 1.3l3.2 3.1l2.7 3.2l2.3 3.2l4.1 6.3l1.8 3.2l1.5 3.2l1.6 4.7l0.6 3.2l0.1 2.4M452.6 386.9l0.1-2.4l0.4-3.2l1.5-6.3l1.5-4.8l6.7-17.4l2.8-8l3.3-11.1l2.3-10.3M381.9 323.4l0.1 21.4l0.3 8l0.1 0.3l1.6 0.4l1.4 0.9l1.3 1.5l2 3.2l2.2 4.8l1.8 4.7l1.7 6.4l1.1 6.3l0.4 5.6M466.7 386.9l0.3-7.1l0.7-6.4l1-6.3l4.5-25.4l1.4-9.6l1-8.7M381.9 323.4l0 21.4l0.1 8l0.4 0.9l1.2 0.7l0.7 1.5l1.1 3.2l0.9 4.8l0.4 3.2l0.3 4.7l0.1 15.1M478.7 386.9l0.1-11.9l0.9-31.8l0.2-19.8M381.8 323.4l0 29.4l0.6 1.6l0.3 3.1l0 3.2l-0.3 3.2l-0.5 3.2l-3.2 14.2l-0.5 3.2l0 2.4M490.3 386.9l-0.2-8.7l-0.7-9.6l-5.2-45.2M381.8 323.4l-0.2 29.4l-0.8 4.4l-1 3.5l-2.2 5.1l-1.5 2.8l-1.6 2.5l-3.2 4.1l-3.2 3.5l-3.1 2.9l-1.6 1.1l-1.6 0.6l-0.8 0M502.8 386.9l-0.1-4l-0.4-4.7l-1.5-8l-2-7.9l-6.7-23.8l-1.9-7.6l-1.7-7.5M381.7 323.4l-0.2 26.2l-0.2 3.2l-0.5 1.2l-0.7 0.4l-0.9 2.2l-3.1 4.8l-1.6 1.9l-3.2 3l-1.6 1.2l-3.2 1.7l-3.1 1l-2.4 0.2M519 386.9l-0.3-4l-0.6-3.1l-1-3.2l-1.2-3.2l-3-6.3l-6.9-13.1l-4.7-9.5l-4.8-11.2l-3.5-9.9M381.6 323.4l-0.2 24.6l-0.3 4.8l-0.3 0.7l-1.9 0.9l-4.4 4.4l-1.6 1.3l-3.2 2l-1.6 0.8l-3.1 1.1l-1.6 0.3l-2.4 0.2M520.3 356.2l-3.2-3.2l-3.1-3.5l-3.2-3.9l-3.2-4.4l-4.7-7.6l-3.2-6l-2-4.2M381.6 323.4l-0.3 21.4l-0.1 4.8l-0.4 3.3l-1.6 0.2l-1.6 0.7l-4.7 2.9l-3.2 1.6l-1.6 0.6l-3.1 0.9l-1.6 0.3l-2.4 0.1M520.3 343.9l-4.8-4.1l-4.7-5.1l-4.8-6.2l-3.3-5.1M381.5 323.4l-0.2 19.8l-0.5 8.6l-1.6 0l-1.6 0.3l-7.9 3.1l-3.2 0.9l-3.1 0.5l-2.4 0.1M520.3 335.1l-3.2-2.4l-3.1-2.9l-3.2-3.3l-2.6-3.1M381.5 323.4l-0.3 18.3l-0.4 8.5l-3.2 0.2l-11.1 2.7l-3.1 0.4l-2.4 0.1M520.3 328.1l-3.2-2.3l-2.7-2.4M381.4 323.4l-0.2 16.7l-0.4 8.4l-1.6 0l-3.1 0.3l-9.6 1.7l-5.5 0.3M381.4 323.4l-0.3 15.1l-0.3 8.1l-4.7 0.2l-9.6 1.2l-5.5 0.3M381.3 323.4l-0.5 21.2l-4.7 0.2l-9.6 0.8l-5.5 0.2M381.3 323.4l-0.5 19.2l-4.7 0.1l-9.6 0.5l-5.5 0.2M381.2 323.4l-0.4 17.1l-19.8 0.5M381.2 323.4l-0.4 15l-19.8 0.3M381.1 323.4l-0.3 12.8l-19.8 0.3M381.1 323.4l-0.3 10.6l-19.8 0.2M381 323.4l-0.2 8.4l-19.8 0.2M381 323.4l-0.2 6.2l-19.8 0.1M380.9 323.4l-0.1 4l-19.8 0.1M380.9 323.4l-0.1 1.8l-19.8 0.1M383.7 323.4l0.3 12.6l0.1-12.6M377.5 351.2l0.4 1.6l0.8 1.6l0.5 0.4l1.6 0.7l1.6 0.1l1.6-0.4l1.1-0.8l1.1-1.6l0.7-1.6l0.9-3.2l1.1-6.3l0.6-8l0.4-10.3M374.1 351.2l1.3 3.2l1.1 1.5l1.1 1.2l0.7 0.4l0.9 0.6l1.6 0.5l1.6 0.2l1.6-0.1l1.6-0.4l1.6-0.8l1.5-1l2.1-2.1l1.1-1.6l1.7-3.2l1.1-3.2l0.8-3.2l0.6-3.1l0.5-4.8l0.6-11.9M370.1 351.2l0.9 3.2l0.7 1.5l0.8 1.6l1.1 1.6l0.9 1l1.6 1.4l1.5 1.1l1.6 0.7l3.2 0.8l1.6 0.2l3.2-0.4l1.5-0.4l3-1.2l1.8-1.1l1.6-1.2l2.4-2.5l2.3-3.1l1.5-3.2l1.6-4.8l0.9-4.7l0.5-4.8l0.3-6.4l-0.1-7.1M365.7 351.2l0.4 3.2l0.8 3.1l1 3.2l1.5 3.2l1.9 2.9l1.6 1.7l1.6 1.3l1.6 1l1.5 0.8l3.2 1.1l3.2 0.5l3.2 0.1l3.1-0.3l3.2-0.6l3.2-1.1l3.1-1.5l1.9-1.2l2-1.5l1.7-1.6l1.4-1.6l1.1-1.6l1.8-3.2l1.7-4.7l0.8-3.2l0.4-3.2l0.4-6.3l-0.2-8l-0.9-10.3M520.3 386.9l-90.4 0l-1.5-0.8l-0.2-7.9l-0.3-6.4l-0.6-6.3l-1-8l-2.2-12.7l-4.8-21.4M520.3 354l-1.6 0.9l-1.6 1.4l-3.1 2.6l-4.8 2.8l-3.2 1.5l-3.1 1.2l-3.2 0.9l-4.8 1.1l-3.1 0.5l-4.8 0.4l-4.7 0.2l-4.8-0.1l-4.8-0.4l-3.1-0.4l-4.8-1l-3.2-0.9l-3.1-1.1l-3.2-1.4l-4.7-2.8l-2.5-1.9l-2.3-2l-3.2-3.3l-1.6-2l-2.6-3.8l-3.7-6.1l-4-8.2l-3.6-8.7M520.3 332.5l-1.6 1l-3.2 3.8l-1.5 1.6l-3.2 2.8l-4.8 3.3l-4.7 2.5l-3.2 1.3l-3.2 1l-3.1 0.8l-3.2 0.6l-6.3 0.5l-6.4-0.2l-6.3-1l-4.8-1.3l-3.2-1.2l-3.1-1.5l-4.8-2.8l-4.7-3.7l-4.8-4.6l-4.7-5.9l-4.1-6.1M515.2 323.4l-3.9 4l-3.7 3.1l-3.2 2.2l-4.7 2.5l-4.8 1.9l-4.7 1.4l-4.8 0.7l-4.7 0.3l-4.8-0.2l-4.7-0.7l-4.8-1.3l-4.8-1.8l-4.7-2.4l-4.8-3.2l-3.1-2.6l-4.1-3.9M502.9 323.4l-4.8 2.5l-3.2 1.3l-3.1 1l-4.8 1l-3.2 0.4l-3.1 0.2l-3.2-0.1l-3.2-0.3l-3.1-0.5l-3.2-0.8l-4.8-1.6l-3.1-1.4l-3.1-1.7"/>
</g>
<g clip-path="url(#cp5)"><path fill="none" stroke="#dfe2dc" stroke-width="1.0" stroke-dasharray="1.0 1.4" d="M384 321l23.8 0.1l20.6 0.5l19 0.8l44.4 2.2l14.2 0.5l12.7 0.3"/></g>
<path fill="none" stroke="#4a4a4a" stroke-width="1.2" stroke-dasharray="1.2 1.2" d="M361.8 326.4l17.4 0"/>
<path fill="none" stroke="#dfb35a" stroke-width="0.8" d="M363.9 323.4L363.8 318M363.9 330.6L363.8 325.3M363.9 337.9L363.8 332.7M363.9 345.1L363.7 340.3M363.9 352.4L363.6 348.6M363.9 359.6L363.6 357.3M363.9 366.8L363.6 365.6M363.9 374.1L363.7 373.3M371.5 323.4L371.4 318M371.5 330.6L371.4 325.2M371.5 337.9L371.3 332.4M371.5 345.1L371 339.7M371.5 352.4L370 347.7M371.5 359.6L369.9 357M371.5 366.8L370.6 365.7M371.5 374.1L370.8 373.4M371.5 381.3L370.9 381.1M379.1 359.6L374.7 357.6M379.1 366.8L377.6 366.3M379.1 374.1L378 373.7M379.1 381.3L378.3 381.2"/><path fill="#dfb35a" d="M363.8 315.2L365.2 318L362.5 318zM363.8 322.5L365.2 325.3L362.5 325.3zM363.8 329.9L365.1 332.7L362.4 332.7zM363.6 337.5L365.1 340.2L362.4 340.3zM363.4 345.8L364.9 348.5L362.2 348.7zM363.3 354.6L364.9 357.2L362.2 357.5zM363.3 363.7L364.6 365.4L362.7 365.7zM363.4 372.2L364.2 373.2L363.1 373.4zM371.4 315.2L372.8 318L370.1 318zM371.4 322.4L372.8 325.2L370.1 325.2zM371.2 329.6L372.6 332.4L369.9 332.5zM370.7 336.9L372.3 339.6L369.6 339.8zM369.2 345L371.3 347.3L368.7 348.1zM368.5 354.5L371.1 356.3L368.8 357.6zM369.2 364.1L371.4 365.1L369.8 366.4zM369.8 372.5L371.2 372.9L370.3 373.9zM370.1 380.7L371.1 380.7L370.8 381.5zM372.1 356.5L375.2 356.4L374.1 358.9zM375.4 365.5L378 365.2L377.2 367.3zM376.5 373.2L378.3 373L377.8 374.5zM377.1 381L378.4 380.6L378.2 381.8z"/>
<path fill="none" stroke="#dfb35a" stroke-width="0.8" d="M388.9 323.4L388.8 329.1M388.9 330.6L388.7 336.5M388.9 337.9L388.4 344M388.9 345.1L387.8 351.7M388.9 352.4L384.8 358.9M388.9 359.6L383 362.8M388.9 366.8L384.2 367.8M388.9 374.1L385.1 374.4M388.9 381.3L385.8 381.4M398.4 323.4L398.2 329.1M398.4 330.6L398.1 336.3M398.4 337.9L397.7 343.4M398.4 345.1L397.1 350.4M398.4 352.4L395.9 356.9M398.4 359.6L395.3 363M398.4 366.8L395.2 368.8M398.4 374.1L395.5 375.2M398.4 381.3L395.8 381.7M407.9 323.4L408.2 329.1M407.9 330.6L408 336M407.9 337.9L407.7 342.8M407.9 345.1L407.2 349.7M407.9 352.4L406.6 356.2M407.9 359.6L406.3 362.6M407.9 366.8L406.1 368.8M407.9 374.1L406.2 375.3M407.9 381.3L406.2 381.8M417.4 323.4L418.4 329M417.4 330.6L418.2 335.7M417.4 337.9L417.9 342.4M417.4 345.1L417.6 349.1M417.4 352.4L417.2 355.7M417.4 359.6L416.9 362.2M417.4 366.8L416.7 368.5M417.4 374.1L416.5 375.4M417.4 381.3L416.3 381.9M426.9 323.4L428.9 328.6M426.9 330.6L428.6 335.3M426.9 337.9L428.2 341.9M426.9 345.1L427.9 348.7M426.9 352.4L427.5 355.2M426.9 359.6L427.3 361.8M426.9 366.8L427 368.5M426.9 374.1L426.9 375.4M426.9 381.3L426.7 382.1M436.4 323.4L439.4 328.1M436.4 330.6L439 334.8M436.4 337.9L438.6 341.4M436.4 345.1L438.2 348.2M436.4 352.4L437.8 354.8M436.4 359.6L437.5 361.5M436.4 366.8L437.3 368.2M436.4 374.1L437.3 375.2M436.4 381.3L437.3 381.9M446 323.4L449.8 327.3M446 330.6L449.4 334.1M446 337.9L448.8 340.8M446 345.1L448.4 347.6M446 352.4L448 354.3M446 359.6L447.6 361.1M446 366.8L447.4 367.9M446 374.1L447.3 374.9M446 381.3L447.3 381.7M455.5 323.4L460.1 326.4M455.5 330.6L459.6 333.3M455.5 337.9L458.9 340.1M455.5 345.1L458.5 347M455.5 352.4L458 353.8M455.5 359.6L457.7 360.8M455.5 366.8L457.3 367.6M455.5 374.1L457.2 374.6M455.5 381.3L457.1 381.5M465 323.4L470.2 325.3M465 330.6L469.6 332.3M465 337.9L468.9 339.3M465 345.1L468.4 346.3M465 352.4L467.9 353.3M465 359.6L467.5 360.3M465 366.8L467.2 367.4M465 374.1L467 374.4M465 381.3L466.8 381.5M474.5 323.4L480 324.1M474.5 330.6L479.3 331.3M474.5 337.9L478.6 338.4M474.5 345.1L478.1 345.6M474.5 352.4L477.6 352.7M474.5 359.6L477.2 359.9M474.5 366.8L476.9 367.1M474.5 374.1L476.7 374.2M474.5 381.3L476.5 381.4M484 323.4L489.5 322.9M484 330.6L488.8 330.2M484 337.9L488.1 337.6M484 345.1L487.6 344.9M484 352.4L487.1 352.2M484 359.6L486.8 359.5M484 366.8L486.4 366.8M484 374.1L486.2 374M484 381.3L486.1 381.3M493.5 323.4L498.7 321.7M493.5 330.6L498.1 329.2M493.5 337.9L497.4 336.7M493.5 345.1L497 344.2M493.5 352.4L496.5 351.7M493.5 359.6L496.1 359.1M493.5 366.8L495.8 366.5M493.5 374.1L495.6 373.8M493.5 381.3L495.5 381.2M503 323.4L507.6 320.6M503 330.6L507.1 328.3M503 337.9L506.5 336M503 345.1L506.1 343.6M503 352.4L505.6 351.2M503 359.6L505.3 358.7M503 366.8L505 366.2M503 374.1L504.8 373.7M503 381.3L504.8 381.2M512.5 323.4L516.3 319.7M512.5 330.6L515.8 327.5M512.5 337.9L515.4 335.3M512.5 345.1L515 343M512.5 352.4L514.6 350.8M512.5 359.6L514.4 358.4M512.5 366.8L514.2 366M512.5 374.1L514.1 373.5M512.5 381.3L514.1 381.1"/><path fill="#dfb35a" d="M388.7 331.9L387.4 329.1L390.1 329.1zM388.6 339.3L387.4 336.4L390 336.5zM388.2 346.8L387.1 343.9L389.8 344.1zM387.3 354.4L386.4 351.5L389.1 351.9zM383.3 361.3L383.7 358.2L385.9 359.6zM380.5 364.2L382.3 361.7L383.6 364zM381.5 368.3L383.9 366.5L384.5 369.1zM382.3 374.6L385 373.1L385.3 375.7zM383 381.4L385.8 380L385.8 382.7zM398.2 331.9L396.9 329.1L399.6 329.2zM398 339.1L396.8 336.2L399.5 336.3zM397.4 346.2L396.4 343.2L399.1 343.5zM396.4 353.1L395.8 350.1L398.4 350.7zM394.6 359.4L394.8 356.3L397.1 357.6zM393.4 365.1L394.3 362.1L396.3 363.9zM392.9 370.3L394.5 367.6L396 369.9zM392.9 376.2L395 373.9L396 376.4zM393.1 382.1L395.6 380.4L396 383zM408.3 331.9L406.8 329.2L409.5 329zM408.1 338.8L406.7 336L409.4 336zM407.5 345.6L406.3 342.8L409 342.9zM406.8 352.4L405.9 349.5L408.6 349.9zM405.8 358.8L405.4 355.7L407.9 356.6zM405 365.1L405.1 362L407.5 363.3zM404.2 370.9L405.1 367.9L407.1 369.7zM403.9 376.9L405.4 374.2L406.9 376.4zM403.6 382.5L405.8 380.5L406.5 383zM418.9 331.7L417.1 329.2L419.7 328.7zM418.7 338.5L416.9 335.9L419.6 335.5zM418.2 345.2L416.6 342.5L419.2 342.3zM417.7 351.9L416.2 349.2L418.9 349.1zM416.9 358.4L415.8 355.5L418.5 355.8zM416.3 365L415.6 362L418.2 362.5zM415.6 371.1L415.5 368L417.9 369.1zM415.1 377.3L415.6 374.7L417.4 376zM414.5 382.8L415.8 381.1L416.7 382.8zM429.8 331.3L427.6 329.1L430.1 328.2zM429.5 338L427.3 335.8L429.9 334.9zM429.1 344.6L426.9 342.4L429.5 341.5zM428.7 351.4L426.6 349L429.2 348.3zM428.1 357.9L426.2 355.5L428.9 354.9zM427.7 364.6L425.9 362L428.6 361.6zM427.2 371L425.8 368.6L428.2 368.4zM426.9 377.4L425.9 375.4L427.9 375.4zM426.4 383.3L426.2 382L427.3 382.3zM440.9 330.5L438.2 328.8L440.5 327.4zM440.5 337.2L437.9 335.5L440.2 334.1zM440 343.8L437.4 342.1L439.7 340.7zM439.6 350.6L437.1 348.8L439.4 347.5zM439.2 357.2L436.6 355.4L439 354.1zM438.9 363.9L436.3 362.1L438.7 360.8zM438.6 370.4L436.3 368.9L438.3 367.6zM438.5 376.8L436.5 375.8L438.1 374.6zM438.7 382.7L436.9 382.5L437.7 381.2zM451.8 329.3L448.9 328.3L450.8 326.4zM451.3 336.1L448.4 335L450.3 333.2zM450.8 342.8L447.9 341.7L449.8 339.8zM450.4 349.6L447.5 348.6L449.4 346.7zM450 356.3L447 355.3L448.9 353.4zM449.7 363L446.7 362.1L448.5 360.1zM449.5 369.5L446.6 368.9L448.1 366.9zM449.4 376.1L446.8 375.9L447.9 373.9zM449.4 382.2L447.1 382.7L447.6 380.7zM462.5 327.9L459.4 327.5L460.8 325.3zM461.9 334.8L458.8 334.4L460.3 332.1zM461.3 341.6L458.2 341.2L459.7 338.9zM460.9 348.5L457.8 348.1L459.2 345.8zM460.4 355.2L457.3 355L458.7 352.7zM460.1 362.1L457 361.9L458.3 359.6zM459.9 368.7L456.7 368.9L457.8 366.4zM459.7 375.4L456.8 375.8L457.6 373.4zM459.6 381.9L457 382.8L457.3 380.3zM472.8 326.3L469.7 326.6L470.6 324zM472.2 333.3L469.1 333.6L470 331zM471.5 340.2L468.4 340.5L469.3 338zM471.1 347.2L468 347.6L468.9 345zM470.5 354.2L467.5 354.6L468.3 352zM470.2 361.1L467.1 361.6L467.9 359zM469.9 368L466.9 368.7L467.5 366zM469.7 374.9L466.7 375.7L467.2 373.1zM469.6 381.7L466.7 382.8L466.9 380.1zM482.7 324.5L479.8 325.5L480.1 322.8zM482.1 331.6L479.2 332.6L479.5 329.9zM481.4 338.8L478.4 339.8L478.8 337.1zM480.9 346L478 346.9L478.3 344.3zM480.4 353.1L477.4 354.1L477.8 351.4zM480 360.2L477.1 361.3L477.4 358.6zM479.7 367.3L476.8 368.4L477 365.7zM479.5 374.4L476.6 375.6L476.8 372.9zM479.3 381.5L476.5 382.7L476.6 380zM492.3 322.6L489.6 324.2L489.3 321.5zM491.6 330L488.9 331.6L488.7 328.9zM490.9 337.4L488.2 338.9L488 336.2zM490.4 344.7L487.7 346.2L487.6 343.5zM489.9 352L487.2 353.5L487 350.8zM489.6 359.4L486.8 360.8L486.7 358.1zM489.2 366.7L486.5 368.1L486.4 365.4zM489 374L486.3 375.4L486.2 372.7zM488.9 381.3L486.1 382.6L486.1 379.9zM501.3 320.8L499.1 323L498.3 320.4zM500.8 328.4L498.5 330.5L497.7 327.9zM500.1 336L497.8 338L497 335.4zM499.7 343.5L497.3 345.5L496.6 342.9zM499.2 351L496.8 353L496.1 350.3zM498.9 358.5L496.4 360.4L495.9 357.7zM498.6 366.1L496 367.8L495.6 365.1zM498.4 373.5L495.8 375.2L495.5 372.5zM498.3 381.1L495.5 382.6L495.4 379.9zM510 319.2L508.3 321.8L506.9 319.5zM509.5 326.9L507.8 329.4L506.4 327.1zM508.9 334.6L507.1 337.2L505.8 334.8zM508.6 342.3L506.7 344.8L505.5 342.4zM508.2 350L506.2 352.4L505.1 349.9zM507.9 357.7L505.8 360L504.8 357.4zM507.7 365.4L505.4 367.5L504.6 364.9zM507.6 373.1L505.1 375L504.6 372.4zM507.5 380.9L504.9 382.4L504.7 379.9zM518.3 317.7L517.2 320.6L515.3 318.7zM517.9 325.5L516.8 328.5L514.9 326.5zM517.4 333.5L516.3 336.3L514.5 334.3zM517.2 341.2L515.9 344.1L514.1 342zM516.9 349.1L515.4 351.9L513.8 349.7zM516.7 356.9L515.1 359.5L513.6 357.3zM516.6 364.8L514.7 367.2L513.6 364.9zM516.5 372.7L514.5 374.7L513.7 372.4zM516.5 380.7L514.3 382.2L513.9 379.9z"/>
<rect x="380" y="278.9" width="3.2" height="75.6" fill="#fff" stroke="none"/>
<path fill="none" stroke="#4a4a4a" stroke-width="0.9" d="M361 323.4V278.9H383.2V354.5H380V278.9"/>
<rect x="361" y="276.7" width="158.5" height="116.2" fill="none" stroke="#b4b4b4" stroke-width="0.8"/>
<path stroke="#b4b4b4" stroke-width="0.8" fill="none" d="M361 392.9v-2M361 276.7v2M392.7 392.9v-2M392.7 276.7v2M424.4 392.9v-2M424.4 276.7v2M456.1 392.9v-2M456.1 276.7v2M487.8 392.9v-2M487.8 276.7v2M361 285.3h2M519.5 285.3h-2M361 298h2M519.5 298h-2M361 310.7h2M519.5 310.7h-2M361 323.4h2M519.5 323.4h-2M361 336.1h2M519.5 336.1h-2M361 348.8h2M519.5 348.8h-2M361 361.5h2M519.5 361.5h-2M361 374.2h2M519.5 374.2h-2M361 386.9h2M519.5 386.9h-2"/>
<text x="361" y="402.7" font-size="9" text-anchor="middle" fill="#262626">0</text>
<text x="392.7" y="402.7" font-size="9" text-anchor="middle" fill="#262626">5</text>
<text x="424.4" y="402.7" font-size="9" text-anchor="middle" fill="#262626">10</text>
<text x="456.1" y="402.7" font-size="9" text-anchor="middle" fill="#262626">15</text>
<text x="487.8" y="402.7" font-size="9" text-anchor="middle" fill="#262626">20</text>
<text x="440.2" y="412.5" font-size="9" text-anchor="middle" font-weight="bold" fill="#222">x [m]</text>
<text x="454.4" y="287.7" font-size="9" text-anchor="start" fill="#222" textLength="59.2" lengthAdjust="spacingAndGlyphs">t=4.36s (=5T/6)</text>
<rect x="522.6" y="276.7" width="5.4" height="116.2" fill="url(#cbg)" stroke="#b4b4b4" stroke-width="0.6"/>
<path stroke="#888" stroke-width="0.6" d="M528 281.4h-1.5"/>
<text x="530.2" y="284.4" font-size="9" text-anchor="start" fill="#262626">4</text>
<path stroke="#888" stroke-width="0.6" d="M528 294.8h-1.5"/>
<text x="530.2" y="297.8" font-size="9" text-anchor="start" fill="#262626">3</text>
<path stroke="#888" stroke-width="0.6" d="M528 308.1h-1.5"/>
<text x="530.2" y="311.1" font-size="9" text-anchor="start" fill="#262626">2</text>
<path stroke="#888" stroke-width="0.6" d="M528 321.5h-1.5"/>
<text x="530.2" y="324.5" font-size="9" text-anchor="start" fill="#262626">1</text>
<path stroke="#888" stroke-width="0.6" d="M528 334.8h-1.5"/>
<text x="530.2" y="337.8" font-size="9" text-anchor="start" fill="#262626">0</text>
<path stroke="#888" stroke-width="0.6" d="M528 348.2h-1.5"/>
<text x="530.2" y="351.2" font-size="9" text-anchor="start" fill="#262626">-1</text>
<path stroke="#888" stroke-width="0.6" d="M528 361.5h-1.5"/>
<text x="530.2" y="364.5" font-size="9" text-anchor="start" fill="#262626">-2</text>
<path stroke="#888" stroke-width="0.6" d="M528 374.9h-1.5"/>
<text x="530.2" y="377.9" font-size="9" text-anchor="start" fill="#262626">-3</text>
<path stroke="#888" stroke-width="0.6" d="M528 388.3h-1.5"/>
<text x="530.2" y="391.3" font-size="9" text-anchor="start" fill="#262626">-4</text>
<rect x="10" y="130.3" width="533.2" height="286.3" fill="none" stroke="#b0b0b0" stroke-width="1.2"/>
<path d="M5 421.3H545M5 455.4H545" stroke="#b4b4b4" stroke-width="1.1" fill="none"/>
<rect x="15" y="426.5" width="35.5" height="6.5" fill="url(#cbh)" stroke="#999" stroke-width="0.4"/>
<text x="61" y="433" font-size="10" fill="#222" textLength="97" lengthAdjust="spacingAndGlyphs"><tspan font-style="normal">ℜ</tspan>e<tspan font-style="normal" font-size="13" dy="1">{</tspan><tspan dy="-1">φ(x, z)</tspan><tspan font-style="normal"> exp(−</tspan>iωt<tspan font-style="normal">)</tspan><tspan font-style="normal" font-size="13" dy="1">}</tspan></text>
<path d="M167 429.8H190" stroke="#bfe0ee" stroke-width="1"/>
<text x="198.4" y="433" font-size="10.3" text-anchor="start" fill="#222" textLength="78.3" lengthAdjust="spacingAndGlyphs">Equipotential lines</text>
<path d="M285.6 429.7H304.4" stroke="#555" stroke-width="1.8" stroke-dasharray="3.2 1.8"/>
<text x="308" y="433" font-size="10.3" text-anchor="start" fill="#222" textLength="91.8" lengthAdjust="spacingAndGlyphs">Free Surface elevation</text>
<path d="M410 424.8h9M410 429.8h9M410 435h9" stroke="#dfb35a" stroke-width="0.8" fill="none"/><path d="M422 424.8l-3.2-1.5v3zM422 429.8l-3.2-1.5v3zM422 435l-3.2-1.5v3z" fill="#dfb35a"/>
<text x="425.8" y="433.3" font-size="10.3" text-anchor="start" fill="#222" textLength="52.2" lengthAdjust="spacingAndGlyphs">Velocity field</text>
<path d="M15 448.2H54" stroke="#111" stroke-width="1.6"/>
<text x="61" y="451.5" font-size="10.3" text-anchor="start" fill="#222" textLength="50" lengthAdjust="spacingAndGlyphs">Bathymetry</text>
<rect x="127" y="445.7" width="33" height="4.4" fill="#fff" stroke="#222" stroke-width="1"/>
<text x="167" y="451.5" font-size="10.3" text-anchor="start" fill="#222" textLength="72.6" lengthAdjust="spacingAndGlyphs">OWC Front Wall</text>
</svg>
</body></html>
